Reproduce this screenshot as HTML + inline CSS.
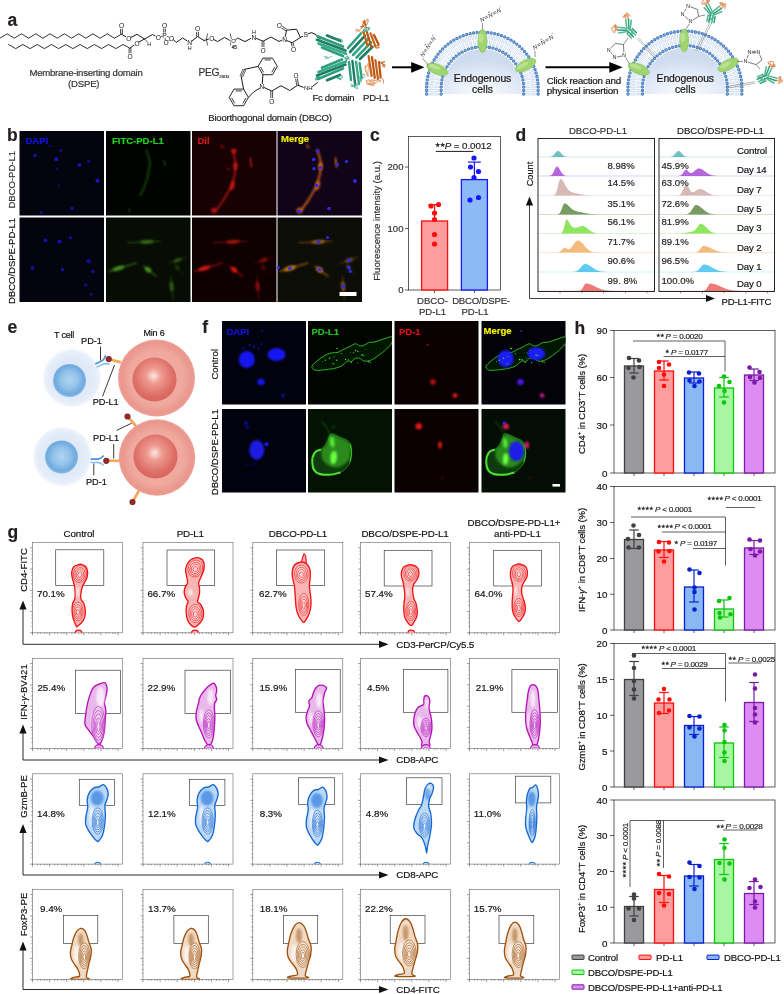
<!DOCTYPE html>
<html lang="en"><head><meta charset="utf-8"><title>Figure</title>
<style>html,body{margin:0;padding:0;background:#fff}body{width:784px;height:994px;overflow:hidden;font-family:"Liberation Sans",Arial,sans-serif}svg{display:block}</style>
</head><body>
<svg width="784" height="994" viewBox="0 0 784 994" font-family='"Liberation Sans", Arial, Helvetica, sans-serif' fill="#1a1a1a">
<rect width="784" height="994" fill="#fff"/>
<defs>
<filter id="bl0" x="-50%" y="-50%" width="200%" height="200%"><feGaussianBlur stdDeviation="0.5"/></filter>
<filter id="bl1" x="-50%" y="-50%" width="200%" height="200%"><feGaussianBlur stdDeviation="0.8"/></filter>
<filter id="bl2" x="-50%" y="-50%" width="200%" height="200%"><feGaussianBlur stdDeviation="1.2"/></filter>
<filter id="bl3" x="-50%" y="-50%" width="200%" height="200%"><feGaussianBlur stdDeviation="2"/></filter>
<filter id="bl4" x="-50%" y="-50%" width="200%" height="200%"><feGaussianBlur stdDeviation="3"/></filter>
</defs>
<text x="7.6" y="26.4" font-size="17.5" font-weight="bold" fill="#231f20" stroke="#231f20" stroke-width=".18">a</text>
<path d="M-7.15 33.8 L0 38.2 L7.15 33.8 L14.3 38.2 L21.45 33.8 L28.6 38.2 L35.75 33.8 L42.9 38.2 L50.05 33.8 L57.2 38.2 L64.35 33.8 L71.5 38.2 L78.65 33.8 L85.8 38.2 L92.95 33.8 L100.1 38.2 L107.25 33.8 L114.4 38.2 L121.5 34.2" fill="none" stroke="#1c1c1c" stroke-width="0.9" stroke-linejoin="round" stroke-linecap="round"/>
<path d="M8.6 44.5 L15.75 48.6 L22.9 44.5 L30.05 48.6 L37.2 44.5 L44.35 48.6 L51.5 44.5 L58.65 48.6 L65.8 44.5 L72.95 48.6 L80.1 44.5 L87.25 48.6 L94.4 44.5 L101.55 48.6 L108.7 44.5 L115.85 48.6 L123 44.5 L130 48.2" fill="none" stroke="#1c1c1c" stroke-width="0.9" stroke-linejoin="round" stroke-linecap="round"/>
<path d="M121.5 34.2 L126.5 37.2" fill="none" stroke="#1c1c1c" stroke-width="1" stroke-linejoin="round" stroke-linecap="round"/>
<line x1="122.4" y1="34.2" x2="122.4" y2="28.5" stroke="#1c1c1c" stroke-width="0.8"/>
<line x1="120.6" y1="34.2" x2="120.6" y2="28.5" stroke="#1c1c1c" stroke-width="0.8"/>
<text x="121.5" y="27.98" font-size="6.6" text-anchor="middle" fill="#111" stroke="#fff" stroke-width="1.6" paint-order="stroke">O</text>
<text x="128.8" y="40.58" font-size="6.6" text-anchor="middle" fill="#111" stroke="#fff" stroke-width="1.6" paint-order="stroke">O</text>
<path d="M131 37.4 L137 34.3 L144.5 39 L152.5 34.5 L156 36.5" fill="none" stroke="#1c1c1c" stroke-width="1" stroke-linejoin="round" stroke-linecap="round"/>
<path d="M130 48.2 L134.8 44.6" fill="none" stroke="#1c1c1c" stroke-width="1" stroke-linejoin="round" stroke-linecap="round"/>
<line x1="129.1" y1="48.2" x2="129.1" y2="54" stroke="#1c1c1c" stroke-width="0.8"/>
<line x1="130.9" y1="48.2" x2="130.9" y2="54" stroke="#1c1c1c" stroke-width="0.8"/>
<text x="130" y="59.38" font-size="6.6" text-anchor="middle" fill="#111" stroke="#fff" stroke-width="1.6" paint-order="stroke">O</text>
<text x="137" y="45.58" font-size="6.6" text-anchor="middle" fill="#111" stroke="#fff" stroke-width="1.6" paint-order="stroke">O</text>
<path d="M139 42 L144.5 39" fill="none" stroke="#1c1c1c" stroke-width="1" stroke-linejoin="round" stroke-linecap="round"/>
<text x="149.3" y="45.54" font-size="5.4" text-anchor="middle" fill="#111" stroke="#fff" stroke-width="1.6" paint-order="stroke">H</text>
<line x1="144.5" y1="39" x2="147.5" y2="42" stroke="#1c1c1c" stroke-width="0.7"/>
<text x="158.3" y="40.08" font-size="6.6" text-anchor="middle" fill="#111" stroke="#fff" stroke-width="1.6" paint-order="stroke">O</text>
<text x="164.5" y="37.78" font-size="6.6" text-anchor="middle" fill="#111" stroke="#fff" stroke-width="1.6" paint-order="stroke">P</text>
<text x="164.5" y="28.38" font-size="6.6" text-anchor="middle" fill="#111" stroke="#fff" stroke-width="1.6" paint-order="stroke">O</text>
<text x="166" y="45.38" font-size="6.6" text-anchor="middle" fill="#111" stroke="#fff" stroke-width="1.6" paint-order="stroke">O</text>
<text x="171.6" y="40.58" font-size="6.6" text-anchor="middle" fill="#111" stroke="#fff" stroke-width="1.6" paint-order="stroke">O</text>
<text x="168.3" y="41.5" font-size="4.5" fill="#222" stroke="#222" stroke-width=".18">-</text>
<line x1="165.3" y1="32.5" x2="165.3" y2="28.6" stroke="#1c1c1c" stroke-width="0.8"/>
<line x1="163.7" y1="32.5" x2="163.7" y2="28.6" stroke="#1c1c1c" stroke-width="0.8"/>
<line x1="160.3" y1="36.9" x2="162.4" y2="36.2" stroke="#1c1c1c" stroke-width="0.7"/>
<line x1="166.6" y1="36.2" x2="169.4" y2="37.3" stroke="#1c1c1c" stroke-width="0.7"/>
<line x1="164.9" y1="37.8" x2="165.6" y2="40.4" stroke="#1c1c1c" stroke-width="0.7"/>
<path d="M173.4 39.6 L176.2 42.4 L182.6 38 L187.4 41" fill="none" stroke="#1c1c1c" stroke-width="1" stroke-linejoin="round" stroke-linecap="round"/>
<text x="189.6" y="44.58" font-size="6.6" text-anchor="middle" fill="#111" stroke="#fff" stroke-width="1.6" paint-order="stroke">N</text>
<text x="189.6" y="49.74" font-size="5.4" text-anchor="middle" fill="#111" stroke="#fff" stroke-width="1.6" paint-order="stroke">H</text>
<path d="M191.8 41 L197.5 36.6 L204 40.5" fill="none" stroke="#1c1c1c" stroke-width="1" stroke-linejoin="round" stroke-linecap="round"/>
<line x1="198.4" y1="36.6" x2="198.4" y2="31.6" stroke="#1c1c1c" stroke-width="0.8"/>
<line x1="196.6" y1="36.6" x2="196.6" y2="31.6" stroke="#1c1c1c" stroke-width="0.8"/>
<text x="197.5" y="31.18" font-size="6.6" text-anchor="middle" fill="#111" stroke="#fff" stroke-width="1.6" paint-order="stroke">O</text>
<path d="M207.6 33.5 Q205.2 39.5 207.6 45.5" fill="none" stroke="#1c1c1c" stroke-width="0.7"/>
<path d="M204 40.5 L209 39" fill="none" stroke="#1c1c1c" stroke-width="1" stroke-linejoin="round" stroke-linecap="round"/>
<text x="211.7" y="40.98" font-size="6.6" text-anchor="middle" fill="#111" stroke="#fff" stroke-width="1.6" paint-order="stroke">O</text>
<path d="M213.8 39.5 L217.6 41.6 L224.5 37.4 L230 40.5" fill="none" stroke="#1c1c1c" stroke-width="1" stroke-linejoin="round" stroke-linecap="round"/>
<path d="M230.3 33.5 Q232.7 39.5 230.3 45.5" fill="none" stroke="#1c1c1c" stroke-width="0.7"/>
<text x="231.8" y="49" font-size="4.6" fill="#222" stroke="#222" stroke-width=".18">45</text>
<text x="233.6" y="43.39" font-size="5.8" text-anchor="middle" fill="#111" stroke="#fff" stroke-width="1.6" paint-order="stroke">O</text>
<path d="M235.5 40 L237.6 38 L245 41.6 L251.6 38" fill="none" stroke="#1c1c1c" stroke-width="1" stroke-linejoin="round" stroke-linecap="round"/>
<text x="254" y="39.78" font-size="6.6" text-anchor="middle" fill="#111" stroke="#fff" stroke-width="1.6" paint-order="stroke">N</text>
<text x="254" y="33.94" font-size="5.4" text-anchor="middle" fill="#111" stroke="#fff" stroke-width="1.6" paint-order="stroke">H</text>
<path d="M256.3 38.4 L263 41.2 L271 37 L279 41.5 L282.6 39.8" fill="none" stroke="#1c1c1c" stroke-width="1" stroke-linejoin="round" stroke-linecap="round"/>
<line x1="262.1" y1="41.2" x2="262.1" y2="47.2" stroke="#1c1c1c" stroke-width="0.8"/>
<line x1="263.9" y1="41.2" x2="263.9" y2="47.2" stroke="#1c1c1c" stroke-width="0.8"/>
<text x="263" y="52.58" font-size="6.6" text-anchor="middle" fill="#111" stroke="#fff" stroke-width="1.6" paint-order="stroke">O</text>
<text x="284.6" y="41.58" font-size="6.6" text-anchor="middle" fill="#111" stroke="#fff" stroke-width="1.6" paint-order="stroke">N</text>
<path d="M285.2 36.6 L286.6 30.2 L296.6 29.2 L300.3 37.5 L292.2 42.8 L286.8 40.6" fill="none" stroke="#1c1c1c" stroke-width="1" stroke-linejoin="round" stroke-linecap="round"/>
<line x1="287.08" y1="29.44" x2="281.68" y2="26.04" stroke="#1c1c1c" stroke-width="0.8"/>
<line x1="286.12" y1="30.96" x2="280.72" y2="27.56" stroke="#1c1c1c" stroke-width="0.8"/>
<text x="279.2" y="27.78" font-size="6.6" text-anchor="middle" fill="#111" stroke="#fff" stroke-width="1.6" paint-order="stroke">O</text>
<line x1="291.32" y1="43.01" x2="292.32" y2="47.21" stroke="#1c1c1c" stroke-width="0.8"/>
<line x1="293.08" y1="42.59" x2="294.08" y2="46.79" stroke="#1c1c1c" stroke-width="0.8"/>
<text x="293.6" y="52.18" font-size="6.6" text-anchor="middle" fill="#111" stroke="#fff" stroke-width="1.6" paint-order="stroke">O</text>
<path d="M300.3 37.5 L303.6 35.8" fill="none" stroke="#1c1c1c" stroke-width="1" stroke-linejoin="round" stroke-linecap="round"/>
<text x="305.8" y="37.38" font-size="6.6" text-anchor="middle" fill="#111" stroke="#fff" stroke-width="1.6" paint-order="stroke">S</text>
<path d="M308 34 L311.2 32.6 L316 34.6 L318 37" fill="none" stroke="#1c1c1c" stroke-width="1" stroke-linejoin="round" stroke-linecap="round"/>
<text x="198.5" y="75.6" font-size="10.2" fill="#333" stroke="#333" stroke-width=".18" letter-spacing="-0.3">PEG</text>
<text x="219.3" y="78" font-size="4.4" fill="#333" stroke="#333" stroke-width=".18">2000</text>
<path d="M277.3 66.4 L272.5 74.71 L262.9 74.71 L258.1 66.4 L262.9 58.09 L272.5 58.09Z" fill="none" stroke="#1c1c1c" stroke-width="0.95" stroke-linejoin="round"/>
<line x1="274.89" y1="66.92" x2="271.74" y2="72.37" stroke="#1c1c1c" stroke-width="0.85"/>
<line x1="263.66" y1="72.37" x2="260.51" y2="66.92" stroke="#1c1c1c" stroke-width="0.85"/>
<line x1="264.56" y1="59.92" x2="270.84" y2="59.92" stroke="#1c1c1c" stroke-width="0.85"/>
<path d="M248.4 97.4 L243.6 105.71 L234 105.71 L229.2 97.4 L234 89.09 L243.6 89.09Z" fill="none" stroke="#1c1c1c" stroke-width="0.95" stroke-linejoin="round"/>
<line x1="245.99" y1="97.92" x2="242.84" y2="103.37" stroke="#1c1c1c" stroke-width="0.85"/>
<line x1="234.76" y1="103.37" x2="231.61" y2="97.92" stroke="#1c1c1c" stroke-width="0.85"/>
<line x1="235.66" y1="90.92" x2="241.94" y2="90.92" stroke="#1c1c1c" stroke-width="0.85"/>
<path d="M243.6 89.09 L241.2 76.6" fill="none" stroke="#1c1c1c" stroke-width="1" stroke-linejoin="round" stroke-linecap="round"/>
<path d="M244.4 69.4 L258.1 66.4" fill="none" stroke="#1c1c1c" stroke-width="1" stroke-linejoin="round" stroke-linecap="round"/>
<line x1="239.9" y1="76.02" x2="243.1" y2="68.82" stroke="#1c1c1c" stroke-width="0.7"/>
<line x1="241.2" y1="76.6" x2="244.4" y2="69.4" stroke="#1c1c1c" stroke-width="0.7"/>
<line x1="242.5" y1="77.18" x2="245.7" y2="69.98" stroke="#1c1c1c" stroke-width="0.7"/>
<text x="261.8" y="88.9" font-size="6.4" text-anchor="middle" fill="#111" stroke="#fff" stroke-width="1.6" paint-order="stroke">N</text>
<path d="M262.9 74.71 L262.3 83.6" fill="none" stroke="#1c1c1c" stroke-width="1" stroke-linejoin="round" stroke-linecap="round"/>
<path d="M259.6 88.2 L253.6 92 L248.4 97.4" fill="none" stroke="#1c1c1c" stroke-width="1" stroke-linejoin="round" stroke-linecap="round"/>
<path d="M264.3 87.6 L271.7 91 L281 85.7 L289.7 90.5 L297.7 85.2 L303.6 87.4" fill="none" stroke="#1c1c1c" stroke-width="1" stroke-linejoin="round" stroke-linecap="round"/>
<line x1="270.8" y1="91" x2="270.8" y2="98.2" stroke="#1c1c1c" stroke-width="0.8"/>
<line x1="272.6" y1="91" x2="272.6" y2="98.2" stroke="#1c1c1c" stroke-width="0.8"/>
<text x="271.7" y="103.7" font-size="6.4" text-anchor="middle" fill="#111" stroke="#fff" stroke-width="1.6" paint-order="stroke">O</text>
<line x1="298.58" y1="85.04" x2="297.28" y2="78.04" stroke="#1c1c1c" stroke-width="0.8"/>
<line x1="296.82" y1="85.36" x2="295.52" y2="78.36" stroke="#1c1c1c" stroke-width="0.8"/>
<text x="296" y="77.5" font-size="6.4" text-anchor="middle" fill="#111" stroke="#fff" stroke-width="1.6" paint-order="stroke">O</text>
<text x="308.3" y="90.16" font-size="6" text-anchor="middle" fill="#111" stroke="#fff" stroke-width="1.6" paint-order="stroke">NH</text>
<path d="M312.6 86.4 L317.5 82.6" fill="none" stroke="#1c1c1c" stroke-width="1" stroke-linejoin="round" stroke-linecap="round"/>
<line x1="318" y1="36.5" x2="343" y2="46.5" stroke="#2f9e7c" stroke-width="2.7" stroke-linecap="round"/>
<line x1="317" y1="39.8" x2="345.5" y2="50.5" stroke="#1e7d62" stroke-width="2.7" stroke-linecap="round"/>
<line x1="318.5" y1="43.4" x2="346" y2="53.8" stroke="#36aa86" stroke-width="2.7" stroke-linecap="round"/>
<line x1="322" y1="47.6" x2="343" y2="56" stroke="#2f9e7c" stroke-width="2.7" stroke-linecap="round"/>
<line x1="327" y1="35.6" x2="340" y2="40.8" stroke="#1e7d62" stroke-width="2.7" stroke-linecap="round"/>
<line x1="318" y1="79" x2="343" y2="68.5" stroke="#2f9e7c" stroke-width="2.7" stroke-linecap="round"/>
<line x1="317" y1="75.6" x2="345.5" y2="64.6" stroke="#1e7d62" stroke-width="2.7" stroke-linecap="round"/>
<line x1="318.5" y1="72" x2="346" y2="61.4" stroke="#36aa86" stroke-width="2.7" stroke-linecap="round"/>
<line x1="322" y1="67.8" x2="342" y2="59.6" stroke="#2f9e7c" stroke-width="2.7" stroke-linecap="round"/>
<line x1="327" y1="80.2" x2="340" y2="75" stroke="#1e7d62" stroke-width="2.7" stroke-linecap="round"/>
<path d="M320.57 39.93 C319.17 38.58 316.08 35.77 315.89 35.44 C315.71 35.11 318.99 38.48 319.94 38.83 C320.9 39.18 319.44 36.8 319.08 36.6 C318.72 36.4 318.89 38.39 318.75 38.16 C318.61 37.92 318.9 36.16 318.62 35.82 C318.35 35.49 317.62 35.74 317.84 37.05 C318.06 38.35 318.9 39.24 319.36 40.17" fill="none" stroke="#2f9e7c" stroke-width="1" stroke-linecap="round"/>
<path d="M316.84 78.63 C317.04 78.72 316.92 79.69 317.52 78.94 C318.13 78.19 319.41 75.78 318.85 76.14 C318.3 76.51 316.24 79.89 315.67 80.15 C315.1 80.42 315.42 77.59 316.95 77.02 C318.48 76.45 319.88 77.87 320.78 78.25 C321.68 78.62 320.51 78.78 319.95 78.28 C319.39 77.78 319.23 77.09 318.92 76.58" fill="none" stroke="#2f9e7c" stroke-width="1" stroke-linecap="round"/>
<path d="M337.92 38.6 C338.2 38.67 339.18 38.41 338.88 38.84 C338.57 39.27 335.96 39.1 336.9 40.03 C337.84 40.96 340.75 42.2 342.01 41.94 C343.27 41.68 341.78 39.92 341.09 39.17 C340.4 38.41 340.79 39.59 339.72 39.43 C338.65 39.26 338.19 38.86 337.54 38.61" fill="none" stroke="#2f9e7c" stroke-width="1" stroke-linecap="round"/>
<path d="M339.74 78.66 C340.05 78.95 340.56 79.36 340.77 79.62 C340.98 79.88 341.82 80.21 340.44 79.53 C339.06 78.84 335.81 77.73 336.17 77.33 C336.54 76.94 340.09 78.72 341.66 78.22 C343.23 77.71 342.26 76.22 341.41 75.64 C340.55 75.06 339.59 76.09 338.81 76.28" fill="none" stroke="#2f9e7c" stroke-width="1" stroke-linecap="round"/>
<path d="M324.15 56.36 C325.52 56.91 328.26 58.19 328.71 58.19 C329.17 58.19 326.24 56.29 325.66 56.36 C325.08 56.43 326.75 57.82 326.78 58.42 C326.81 59.03 324.22 58.97 325.77 58.37 C327.32 57.77 330.09 57.02 331.95 56.44" fill="none" stroke="#58b898" stroke-width="0.7" stroke-linecap="round"/>
<line x1="348" y1="48" x2="361" y2="33.5" stroke="#2f9e7c" stroke-width="2.6" stroke-linecap="round"/>
<line x1="350" y1="52" x2="365" y2="35.6" stroke="#1e7d62" stroke-width="2.6" stroke-linecap="round"/>
<line x1="353" y1="55" x2="368.5" y2="38.6" stroke="#36aa86" stroke-width="2.6" stroke-linecap="round"/>
<line x1="356.5" y1="57.6" x2="371" y2="42.4" stroke="#2f9e7c" stroke-width="2.6" stroke-linecap="round"/>
<line x1="360" y1="59" x2="372.5" y2="46.8" stroke="#1e7d62" stroke-width="2.6" stroke-linecap="round"/>
<line x1="349" y1="62" x2="351" y2="80" stroke="#2f9e7c" stroke-width="2.4" stroke-linecap="round"/>
<line x1="352.4" y1="61" x2="355.2" y2="85" stroke="#1e7d62" stroke-width="2.4" stroke-linecap="round"/>
<line x1="356" y1="61.6" x2="359" y2="84" stroke="#36aa86" stroke-width="2.4" stroke-linecap="round"/>
<line x1="359.6" y1="63" x2="361.6" y2="78" stroke="#2f9e7c" stroke-width="2.4" stroke-linecap="round"/>
<path d="M349.14 59.4 C348.62 58.46 348.75 56.53 347.42 56.27 C346.08 56 344.73 57.67 344.7 58.51 C344.68 59.35 346.71 58.87 347.33 59.05 C347.96 59.23 347.12 59.04 346.79 59.11 C346.46 59.18 345.63 59.89 346.23 59.29 C346.83 58.69 348.34 57.32 348.79 57.12 C349.23 56.92 348.62 58.38 347.71 58.62 C346.81 58.85 346.36 58.12 345.78 57.9" fill="none" stroke="#2f9e7c" stroke-width="1" stroke-linecap="round"/>
<path d="M354.24 84.58 C355.22 84.46 356.87 83.84 357.51 84.18 C358.15 84.51 358.14 85.02 356.36 85.7 C354.58 86.38 353.08 86.33 351.58 86.44 C350.08 86.54 351.34 86.71 351.37 86.05 C351.41 85.4 350.54 83.66 351.7 84.27 C352.86 84.89 355.08 87.89 355.25 88.1 C355.41 88.31 351.63 84.77 352.24 84.96 C352.85 85.15 355.91 88.46 357.27 88.73 C358.63 89 356.92 86.72 356.77 85.86" fill="none" stroke="#4cb090" stroke-width="0.8" stroke-linecap="round"/>
<path d="M361.08 82.62 C360.92 81.85 360.78 82.19 360.56 80.05 C360.34 77.9 358.98 76.96 360.34 75.47 C361.7 73.99 364.23 74.46 365.1 75.09 C365.96 75.73 364.09 76.73 363.24 77.59 C362.39 78.45 362.96 76.84 362.26 77.95 C361.55 79.06 361.47 82.09 360.9 81.31 C360.33 80.52 360.53 77.13 360.37 75.34" fill="none" stroke="#4cb090" stroke-width="0.8" stroke-linecap="round"/>
<path d="M366.23 29.59 C365.53 30.65 364.88 32.86 363.9 33.14 C362.91 33.42 361.31 32.22 362.95 30.52 C364.59 28.82 368.18 27.24 369.37 27.48 C370.55 27.73 368.74 30.7 366.89 31.34 C365.04 31.98 362.87 29.98 363.19 29.63 C363.52 29.27 366.49 30.63 367.97 30.15 C369.44 29.68 369.13 28.77 368.12 28.03 C367.12 27.29 365.67 27.8 364.61 27.7" fill="none" stroke="#2f9e7c" stroke-width="0.9" stroke-linecap="round"/>
<line x1="363.6" y1="32" x2="367.4" y2="45.6" stroke="#c9601a" stroke-width="2.2" stroke-linecap="round"/>
<line x1="367" y1="32.4" x2="371.4" y2="47" stroke="#b8540f" stroke-width="2.2" stroke-linecap="round"/>
<line x1="370.6" y1="33.4" x2="375.4" y2="46.4" stroke="#c9601a" stroke-width="2.2" stroke-linecap="round"/>
<line x1="374" y1="35" x2="378.6" y2="44.4" stroke="#b8540f" stroke-width="2.2" stroke-linecap="round"/>
<path d="M364.07 23.29 C364.09 22.62 363.54 19.88 364.12 21.06 C364.71 22.25 365.83 27.37 366.01 27.24 C366.19 27.1 365.43 22.09 364.73 20.6 C364.03 19.11 364.63 19.9 363.67 22.28 C362.7 24.66 360.36 29.38 361.5 28.53 C362.64 27.68 366.01 20.49 367.47 19.45 C368.94 18.4 367.86 24.31 366.38 25.03 C364.91 25.75 363 22.28 362.55 21.84 C362.11 21.4 364.17 22.43 364.9 23.57 C365.63 24.7 366.29 24.69 364.99 25.62 C363.69 26.55 361.89 26.36 360.56 26.68" fill="none" stroke="#c9601a" stroke-width="0.9" stroke-linecap="round"/>
<path d="M358.33 30.38 C359.13 30.2 360.88 29.73 360.98 29.78 C361.07 29.83 359.89 30.47 358.64 30.56 C357.4 30.65 356.63 29.68 356.83 30.08 C357.04 30.47 359.48 32.28 359.33 31.88 C359.18 31.47 357.23 28.71 356.33 28.74 C355.42 28.77 356.31 31.01 356.31 31.98" fill="none" stroke="#e0905a" stroke-width="0.8" stroke-linecap="round"/>
<path d="M377.85 47.63 C378.19 47.01 379.83 45.91 379 45.57 C378.16 45.23 375.77 45.7 375.07 46.5 C374.36 47.3 375.42 47.97 376.64 48.24 C377.87 48.51 378.63 47.58 379.14 47.41 C379.66 47.23 379.33 47.84 378.35 47.65 C377.37 47.45 376.62 47.03 375.87 46.76" fill="none" stroke="#c9601a" stroke-width="0.8" stroke-linecap="round"/>
<line x1="368.6" y1="56" x2="371.6" y2="76" stroke="#c9601a" stroke-width="2.2" stroke-linecap="round"/>
<line x1="372" y1="57" x2="374.8" y2="78" stroke="#b8540f" stroke-width="2.2" stroke-linecap="round"/>
<line x1="375.4" y1="60" x2="378" y2="79" stroke="#c9601a" stroke-width="2.2" stroke-linecap="round"/>
<line x1="379" y1="62" x2="380.6" y2="77" stroke="#b8540f" stroke-width="2.2" stroke-linecap="round"/>
<path d="M381.95 65.73 C382.72 66.09 384.64 67.9 384.5 66.92 C384.37 65.93 382.48 63.81 381.51 62.46 C380.55 61.11 380.3 62.64 381.28 62.42 C382.27 62.2 384.11 61.76 384.8 61.74 C385.5 61.71 384.38 61.69 383.59 62.34 C382.8 62.99 381.62 63.06 382.17 63.91 C382.72 64.76 385.93 65.52 385.43 65.18 C384.92 64.84 381.97 63.5 380.49 62.79" fill="none" stroke="#c9601a" stroke-width="0.9" stroke-linecap="round"/>
<path d="M366.5 83.86 C368.79 84.37 373.44 86.54 374.13 85.57 C374.82 84.61 368.45 81.25 368.8 80.64 C369.14 80.03 375.14 82.62 375.28 83.54 C375.41 84.47 370.66 83.47 369.24 83.73 C367.82 83.98 371.33 85.39 370.55 84.4 C369.78 83.4 364.54 81.31 366.66 80.41 C368.78 79.5 377.02 80.12 377.62 81.38 C378.22 82.63 369.78 85.04 368.65 84.59 C367.51 84.14 372.62 80.18 373.84 79.88 C375.07 79.57 374.68 82.5 372.72 83.58 C370.76 84.67 369.11 84.2 367.31 83.49 C365.51 82.79 367.07 82.19 366.72 81.23 C366.38 80.26 366.33 80.56 366.16 80.27" fill="none" stroke="#e0905a" stroke-width="0.8" stroke-linecap="round"/>
<path d="M368.43 63.65 C368.1 64.22 367.3 65.53 367.33 65.55 C367.36 65.57 368.33 61.68 368.53 63.72 C368.74 65.76 368.21 68.52 368.02 72.36 C367.84 76.19 368.84 77.84 367.92 76.5 C366.99 75.16 365.17 70.7 364.95 67.9 C364.74 65.09 367.17 67.57 367.2 67.15 C367.23 66.72 364.85 64.16 365.06 66.47 C365.28 68.79 367.06 72.35 367.92 74.87" fill="none" stroke="#e0905a" stroke-width="0.8" stroke-linecap="round"/>
<path d="M379.89 80.28 C380.03 80.22 380.22 79.76 380.34 80.08 C380.45 80.4 380.66 81.01 380.28 81.35 C379.9 81.69 380.03 81.85 379.07 81.21 C378.11 80.57 376.9 80.1 377.08 79.21 C377.26 78.32 377.92 78.24 379.68 78.25 C381.44 78.27 381.86 77.79 382.95 79.26 C384.04 80.73 383.2 81.97 383.31 83.14" fill="none" stroke="#c9601a" stroke-width="0.8" stroke-linecap="round"/>
<text x="86" y="76.1" font-size="9.6" text-anchor="middle" fill="#333" stroke="#333" stroke-width=".18" letter-spacing="-0.25">Membrane-inserting domain</text>
<text x="83.7" y="86.8" font-size="9.6" text-anchor="middle" fill="#333" stroke="#333" stroke-width=".18" letter-spacing="-0.2">(DSPE)</text>
<text x="270" y="120.5" font-size="9.6" text-anchor="middle" fill="#222" stroke="#222" stroke-width=".18" letter-spacing="-0.25">Bioorthogonal domain (DBCO)</text>
<text x="312.6" y="100.8" font-size="9.6" fill="#222" stroke="#222" stroke-width=".18" letter-spacing="-0.35">Fc domain</text>
<text x="363" y="100.8" font-size="9.6" fill="#222" stroke="#222" stroke-width=".18" letter-spacing="-0.2">PD-L1</text>
<line x1="392" y1="67.3" x2="412.2" y2="67.3" stroke="#000" stroke-width="2"/>
<path d="M424.5 67.3 L411.2 61.9 L411.2 72.7Z" fill="#000"/>
<line x1="545.5" y1="67.3" x2="610.3" y2="67.3" stroke="#000" stroke-width="2"/>
<path d="M622.6 67.3 L609.3 61.9 L609.3 72.7Z" fill="#000"/>
<text x="546.7" y="83.6" font-size="9.8" fill="#111" stroke="#111" stroke-width=".18" letter-spacing="-0.2">Click reaction and</text>
<text x="546.7" y="94.4" font-size="9.8" fill="#111" stroke="#111" stroke-width=".18" letter-spacing="-0.2">physical insertion</text>
<defs><radialGradient id="dga" cx="50%" cy="100%" r="75%"><stop offset="0" stop-color="#fbfcfe"/><stop offset="0.55" stop-color="#e6edf8"/><stop offset="1" stop-color="#cfdcf0"/></radialGradient></defs>
<path d="M443.4 94 V88 A39 39 0 0 1 521.4 88 V94 Z" fill="url(#dga)"/>
<path d="M426.6 94.7L433.7 94.91M426.6 93.3L433.7 93.09M426.6 91.17L433.7 91.38M426.6 89.77L433.7 89.56M426.6 87.63L433.69 87.98M426.62 86.23L433.73 86.16M426.73 84.1L433.79 84.9M426.85 82.71L433.94 83.08M427.09 80.59L434.08 81.82M427.29 79.2L434.35 80.02M427.67 77.1L434.57 78.78M427.96 75.73L434.95 77M428.47 73.66L435.25 75.77M428.85 72.31L435.74 74.02M429.49 70.27L436.12 72.81M429.95 68.95L436.72 71.09M430.71 66.96L437.17 69.91M431.26 65.67L437.88 68.24M432.15 63.73L438.41 67.09M432.77 62.48L439.22 65.46M433.79 60.6L439.82 64.34M434.49 59.39L440.74 62.77M435.62 57.58L441.4 61.7M436.4 56.41L442.42 60.18M437.64 54.68L443.15 59.15M438.49 53.56L444.26 57.71M439.84 51.91L445.06 56.73M440.75 50.85L446.25 55.36M442.21 49.29L447.11 54.43M443.19 48.29L448.39 53.13M444.74 46.82L449.31 52.26M445.78 45.89L450.66 51.05M447.42 44.52L451.63 50.24M448.52 43.66L453.07 49.12M450.24 42.39L454.08 48.37M451.39 41.6L455.59 47.34M453.19 40.45L456.65 46.65M454.39 39.73L458.21 45.72M456.26 38.7L459.32 45.11M457.5 38.06L460.94 44.28M459.43 37.14L462.08 43.73M460.71 36.58L463.75 43M462.7 35.79L464.92 42.54M464.01 35.31L466.63 41.91M466.04 34.65L467.83 41.52M467.38 34.25L469.58 41.01M469.45 33.72L470.81 40.69M470.81 33.41L472.58 40.29M472.91 33.01L473.82 40.05M474.29 32.79L475.62 39.77M476.41 32.52L476.87 39.61M477.8 32.39L478.69 39.43M479.93 32.25L479.95 39.35M481.33 32.21L481.77 39.3M483.47 32.21L483.03 39.3M484.87 32.25L484.85 39.35M487 32.39L486.11 39.43M488.39 32.52L487.93 39.61M490.51 32.79L489.18 39.77M491.89 33.01L490.98 40.05M493.99 33.41L492.22 40.29M495.35 33.72L493.99 40.69M497.42 34.25L495.22 41.01M498.76 34.65L496.97 41.52M500.79 35.31L498.17 41.91M502.1 35.79L499.88 42.54M504.09 36.58L501.05 43M505.37 37.14L502.72 43.73M507.3 38.06L503.86 44.28M508.54 38.7L505.48 45.11M510.41 39.73L506.59 45.72M511.61 40.45L508.15 46.65M513.41 41.6L509.21 47.34M514.56 42.39L510.72 48.37M516.28 43.66L511.73 49.12M517.38 44.52L513.17 50.24M519.02 45.89L514.14 51.05M520.06 46.82L515.49 52.26M521.61 48.29L516.41 53.13M522.59 49.29L517.69 54.43M524.05 50.85L518.55 55.36M524.96 51.91L519.74 56.73M526.31 53.56L520.54 57.71M527.16 54.68L521.65 59.15M528.4 56.41L522.38 60.18M529.18 57.58L523.4 61.7M530.31 59.39L524.06 62.77M531.01 60.6L524.98 64.34M532.03 62.48L525.58 65.46M532.65 63.73L526.39 67.09M533.54 65.67L526.92 68.24M534.09 66.96L527.63 69.91M534.85 68.95L528.08 71.09M535.31 70.27L528.68 72.81M535.95 72.31L529.06 74.02M536.33 73.66L529.55 75.77M536.84 75.73L529.85 77M537.13 77.1L530.23 78.78M537.51 79.2L530.45 80.02M537.71 80.59L530.72 81.82M537.95 82.71L530.86 83.08M538.07 84.1L531.01 84.9M538.18 86.23L531.07 86.16M538.2 87.63L531.11 87.98M538.2 89.77L531.1 89.56M538.2 91.17L531.1 91.38M538.2 93.3L531.1 93.09M538.2 94.7L531.1 94.91M441.2 94.7L434.1 94.91M441.2 93.3L434.1 93.09M441.2 91.16L434.1 91.37M441.2 89.76L434.1 89.55M441.2 87.63L434.09 87.65M441.23 86.23L434.14 85.83M441.38 84.1L434.3 83.51M441.54 82.71L434.5 81.71M441.86 80.6L434.86 79.41M442.14 79.22L435.22 77.62M442.65 77.15L435.77 75.36M443.04 75.8L436.28 73.62M443.72 73.78L437.03 71.41M444.23 72.48L437.68 69.72M445.09 70.52L438.62 67.59M445.7 69.26L439.42 65.95M446.72 67.38L440.53 63.91M447.44 66.18L441.46 62.35M448.62 64.4L442.75 60.41M449.44 63.27L443.81 58.93M450.77 61.59L445.26 57.11M451.68 60.53L446.45 55.73M453.15 58.98L448.04 54.04M454.15 58L449.35 52.77M455.74 56.58L451.08 51.22M456.83 55.69L452.49 50.07M458.53 54.41L454.35 48.67M459.69 53.62L455.85 47.64M461.5 52.49L457.82 46.41M462.72 51.8L459.41 45.52M464.62 50.83L461.48 44.46M465.89 50.24L463.13 43.7M467.87 49.44L465.29 42.82M469.19 48.97L467 42.21M471.23 48.34L469.22 41.52M472.59 47.98L470.98 41.06M474.67 47.52L473.25 40.57M476.05 47.29L475.05 40.25M478.17 47.01L477.35 39.96M479.57 46.89L479.17 39.8M481.7 46.8L481.49 39.7M483.1 46.8L483.31 39.7M485.23 46.89L485.63 39.8M486.63 47.01L487.45 39.96M488.75 47.29L489.75 40.25M490.13 47.52L491.55 40.57M492.21 47.98L493.82 41.06M493.57 48.34L495.58 41.52M495.61 48.97L497.8 42.21M496.93 49.44L499.51 42.82M498.91 50.24L501.67 43.7M500.18 50.83L503.32 44.46M502.08 51.8L505.39 45.52M503.3 52.49L506.98 46.41M505.11 53.62L508.95 47.64M506.27 54.41L510.45 48.67M507.97 55.69L512.31 50.07M509.06 56.58L513.72 51.22M510.65 58L515.45 52.77M511.65 58.98L516.76 54.04M513.12 60.53L518.35 55.73M514.03 61.59L519.54 57.11M515.36 63.27L520.99 58.93M516.18 64.4L522.05 60.41M517.36 66.18L523.34 62.35M518.08 67.38L524.27 63.91M519.1 69.26L525.38 65.95M519.71 70.52L526.18 67.59M520.57 72.48L527.12 69.72M521.08 73.78L527.77 71.41M521.76 75.8L528.52 73.62M522.15 77.15L529.03 75.36M522.66 79.22L529.58 77.62M522.94 80.6L529.94 79.41M523.26 82.71L530.3 81.71M523.42 84.1L530.5 83.51M523.57 86.23L530.66 85.83M523.6 87.63L530.71 87.65M523.6 89.76L530.7 89.55M523.6 91.16L530.7 91.37M523.6 93.3L530.7 93.09M523.6 94.7L530.7 94.91" fill="none" stroke="#9dbbe0" stroke-width="0.5"/>
<path d="M426.6 94h0M426.6 90.47h0M426.61 86.93h0M426.79 83.4h0M427.19 79.89h0M427.82 76.41h0M428.66 72.98h0M429.72 69.61h0M430.99 66.31h0M432.46 63.1h0M434.14 59.99h0M436.01 57h0M438.06 54.12h0M440.3 51.38h0M442.7 48.79h0M445.26 46.36h0M447.97 44.09h0M450.82 42h0M453.79 40.09h0M456.88 38.38h0M460.07 36.86h0M463.35 35.55h0M466.71 34.45h0M470.13 33.57h0M473.6 32.9h0M477.11 32.45h0M480.63 32.23h0M484.17 32.23h0M487.69 32.45h0M491.2 32.9h0M494.67 33.57h0M498.09 34.45h0M501.45 35.55h0M504.73 36.86h0M507.92 38.38h0M511.01 40.09h0M513.98 42h0M516.83 44.09h0M519.54 46.36h0M522.1 48.79h0M524.5 51.38h0M526.74 54.12h0M528.79 57h0M530.66 59.99h0M532.34 63.1h0M533.81 66.31h0M535.08 69.61h0M536.14 72.98h0M536.98 76.41h0M537.61 79.89h0M538.01 83.4h0M538.19 86.93h0M538.2 90.47h0M538.2 94h0M441.2 94h0M441.2 90.46h0M441.21 86.93h0M441.46 83.4h0M442 79.91h0M442.84 76.48h0M443.98 73.13h0M445.39 69.89h0M447.08 66.78h0M449.03 63.84h0M451.22 61.06h0M453.65 58.49h0M456.28 56.13h0M459.11 54.01h0M462.11 52.14h0M465.26 50.54h0M468.53 49.2h0M471.91 48.16h0M475.36 47.41h0M478.87 46.95h0M482.4 46.8h0M485.93 46.95h0M489.44 47.41h0M492.89 48.16h0M496.27 49.2h0M499.54 50.54h0M502.69 52.14h0M505.69 54.01h0M508.52 56.13h0M511.15 58.49h0M513.58 61.06h0M515.77 63.84h0M517.72 66.78h0M519.41 69.89h0M520.82 73.13h0M521.96 76.48h0M522.8 79.91h0M523.34 83.4h0M523.59 86.93h0M523.6 90.46h0M523.6 94h0" fill="none" stroke="#3f74b4" stroke-width="3.3" stroke-linecap="round"/>
<path d="M426.6 94h0M426.6 90.47h0M426.61 86.93h0M426.79 83.4h0M427.19 79.89h0M427.82 76.41h0M428.66 72.98h0M429.72 69.61h0M430.99 66.31h0M432.46 63.1h0M434.14 59.99h0M436.01 57h0M438.06 54.12h0M440.3 51.38h0M442.7 48.79h0M445.26 46.36h0M447.97 44.09h0M450.82 42h0M453.79 40.09h0M456.88 38.38h0M460.07 36.86h0M463.35 35.55h0M466.71 34.45h0M470.13 33.57h0M473.6 32.9h0M477.11 32.45h0M480.63 32.23h0M484.17 32.23h0M487.69 32.45h0M491.2 32.9h0M494.67 33.57h0M498.09 34.45h0M501.45 35.55h0M504.73 36.86h0M507.92 38.38h0M511.01 40.09h0M513.98 42h0M516.83 44.09h0M519.54 46.36h0M522.1 48.79h0M524.5 51.38h0M526.74 54.12h0M528.79 57h0M530.66 59.99h0M532.34 63.1h0M533.81 66.31h0M535.08 69.61h0M536.14 72.98h0M536.98 76.41h0M537.61 79.89h0M538.01 83.4h0M538.19 86.93h0M538.2 90.47h0M538.2 94h0M441.2 94h0M441.2 90.46h0M441.21 86.93h0M441.46 83.4h0M442 79.91h0M442.84 76.48h0M443.98 73.13h0M445.39 69.89h0M447.08 66.78h0M449.03 63.84h0M451.22 61.06h0M453.65 58.49h0M456.28 56.13h0M459.11 54.01h0M462.11 52.14h0M465.26 50.54h0M468.53 49.2h0M471.91 48.16h0M475.36 47.41h0M478.87 46.95h0M482.4 46.8h0M485.93 46.95h0M489.44 47.41h0M492.89 48.16h0M496.27 49.2h0M499.54 50.54h0M502.69 52.14h0M505.69 54.01h0M508.52 56.13h0M511.15 58.49h0M513.58 61.06h0M515.77 63.84h0M517.72 66.78h0M519.41 69.89h0M520.82 73.13h0M521.96 76.48h0M522.8 79.91h0M523.34 83.4h0M523.59 86.93h0M523.6 90.46h0M523.6 94h0" fill="none" stroke="#79a8dc" stroke-width="1.8" stroke-linecap="round"/>
<ellipse cx="437.3" cy="69.3" rx="11.3" ry="5" fill="#9fd56e" stroke="#7fc04e" stroke-width="0.5" transform="rotate(22 437.3 69.3)"/>
<ellipse cx="434.16" cy="66.78" rx="6.22" ry="2" fill="#c4e6a2" transform="rotate(22 434.16 66.78)" opacity="0.7"/>
<ellipse cx="482.5" cy="41" rx="4.5" ry="11.6" fill="#9fd56e" stroke="#7fc04e" stroke-width="0.5"/>
<ellipse cx="481.15" cy="38.1" rx="2.48" ry="4.64" fill="#c4e6a2" opacity="0.7"/>
<ellipse cx="525.7" cy="65.2" rx="11.3" ry="5" fill="#9fd56e" stroke="#7fc04e" stroke-width="0.5" transform="rotate(-28 525.7 65.2)"/>
<ellipse cx="522.71" cy="65.54" rx="6.22" ry="2" fill="#c4e6a2" transform="rotate(-28 522.71 65.54)" opacity="0.7"/>
<text x="482.5" y="81.5" font-size="10.4" text-anchor="middle" fill="#111" stroke="#111" stroke-width=".18" letter-spacing="-0.1">Endogenous</text>
<text x="482.5" y="93.2" font-size="10.4" text-anchor="middle" fill="#111" stroke="#111" stroke-width=".18">cells</text>
<line x1="428.4" y1="65.2" x2="422.3" y2="58.2" stroke="#222" stroke-width="0.5"/>
<g transform="translate(423.2 57.4) rotate(-56)" font-size="5.8" fill="#222" font-style="italic">
<text x="0" y="0">N</text><text x="9.4" y="0">N</text><text x="18.8" y="0">N</text>
<path d="M5 -1.3h3.6M5 -2.7h3.6M14.4 -1.3h3.6M14.4 -2.7h3.6" stroke="#222" stroke-width="0.5"/>
<text x="10.6" y="-4.2" font-size="3.8" font-style="normal">+</text><text x="22.8" y="-3.4" font-size="3.8" font-style="normal">−</text>
</g>
<line x1="482.5" y1="29.5" x2="482.5" y2="23.2" stroke="#222" stroke-width="0.5"/>
<g transform="translate(481.2 22.3) rotate(-28)" font-size="5.8" fill="#222" font-style="italic">
<text x="0" y="0">N</text><text x="9.4" y="0">N</text><text x="18.8" y="0">N</text>
<path d="M5 -1.3h3.6M5 -2.7h3.6M14.4 -1.3h3.6M14.4 -2.7h3.6" stroke="#222" stroke-width="0.5"/>
<text x="10.6" y="-4.2" font-size="3.8" font-style="normal">+</text><text x="22.8" y="-3.4" font-size="3.8" font-style="normal">−</text>
</g>
<line x1="535" y1="57.1" x2="535" y2="50.9" stroke="#222" stroke-width="0.5"/>
<g transform="translate(534.2 50) rotate(-31)" font-size="5.8" fill="#222" font-style="italic">
<text x="0" y="0">N</text><text x="9.4" y="0">N</text><text x="18.8" y="0">N</text>
<path d="M5 -1.3h3.6M5 -2.7h3.6M14.4 -1.3h3.6M14.4 -2.7h3.6" stroke="#222" stroke-width="0.5"/>
<text x="10.6" y="-4.2" font-size="3.8" font-style="normal">+</text><text x="22.8" y="-3.4" font-size="3.8" font-style="normal">−</text>
</g>
<defs><radialGradient id="dgb" cx="50%" cy="100%" r="75%"><stop offset="0" stop-color="#fbfcfe"/><stop offset="0.55" stop-color="#e6edf8"/><stop offset="1" stop-color="#cfdcf0"/></radialGradient></defs>
<path d="M644.7 94 V88 A40.2 40.2 0 0 1 725.1 88 V94 Z" fill="url(#dgb)"/>
<path d="M627.9 94.7L635 94.91M627.9 93.3L635 93.09M627.9 91.16L635 91.37M627.9 89.76L635 89.55M627.9 87.62L634.99 87.97M627.92 86.22L635.03 86.15M628.03 84.09L635.09 84.87M628.14 82.69L635.24 83.06M628.38 80.57L635.38 81.79M628.58 79.18L635.64 79.99M628.95 77.08L635.86 78.73M629.24 75.7L636.23 76.95M629.74 73.63L636.53 75.7M630.11 72.28L637.01 73.95M630.74 70.23L637.39 72.73M631.19 68.91L637.97 71M631.94 66.91L638.43 69.81M632.48 65.61L639.12 68.13M633.35 63.66L639.64 66.96M633.97 62.4L640.44 65.32M634.96 60.51L641.04 64.19M635.65 59.29L641.93 62.61M636.76 57.46L642.6 61.52M637.53 56.29L643.59 59.99M638.75 54.54L644.32 58.94M639.59 53.41L645.41 57.48M640.92 51.74L646.2 56.48M641.82 50.67L647.38 55.09M643.25 49.08L648.23 54.14M644.22 48.07L649.49 52.83M645.74 46.57L650.4 51.93M646.77 45.62L651.74 50.7M648.39 44.22L652.71 49.86M649.48 43.34L654.12 48.71M651.18 42.04L655.14 47.94M652.32 41.23L656.62 46.88M654.09 40.04L657.68 46.17M655.28 39.3L659.22 45.2M657.13 38.22L660.33 44.56M658.36 37.55L661.93 43.69M660.27 36.59L663.07 43.12M661.54 36L664.72 42.35M663.51 35.16L665.89 41.85M664.81 34.65L667.59 41.19M666.82 33.94L668.79 40.76M668.16 33.51L670.53 40.21M670.21 32.92L671.75 39.85M671.57 32.58L673.52 39.41M673.66 32.12L674.77 39.13M675.03 31.86L676.56 38.79M677.15 31.53L677.82 38.6M678.54 31.35L679.62 38.37M680.67 31.15L680.9 38.25M682.06 31.07L682.71 38.14M684.2 31L683.99 38.1M685.6 31L685.81 38.1M687.74 31.07L687.09 38.14M689.13 31.15L688.9 38.25M691.26 31.35L690.18 38.37M692.65 31.53L691.98 38.6M694.77 31.86L693.24 38.79M696.14 32.12L695.03 39.13M698.23 32.58L696.28 39.41M699.59 32.92L698.05 39.85M701.64 33.51L699.27 40.21M702.98 33.94L701.01 40.76M704.99 34.65L702.21 41.19M706.29 35.16L703.91 41.85M708.26 36L705.08 42.35M709.53 36.59L706.73 43.12M711.44 37.55L707.87 43.69M712.67 38.22L709.47 44.56M714.52 39.3L710.58 45.2M715.71 40.04L712.12 46.17M717.48 41.23L713.18 46.88M718.62 42.04L714.66 47.94M720.32 43.34L715.68 48.71M721.41 44.22L717.09 49.86M723.03 45.62L718.06 50.7M724.06 46.57L719.4 51.93M725.58 48.07L720.31 52.83M726.55 49.08L721.57 54.14M727.98 50.67L722.42 55.09M728.88 51.74L723.6 56.48M730.21 53.41L724.39 57.48M731.05 54.54L725.48 58.94M732.27 56.29L726.21 59.99M733.04 57.46L727.2 61.52M734.15 59.29L727.87 62.61M734.84 60.51L728.76 64.19M735.83 62.4L729.36 65.32M736.45 63.66L730.16 66.96M737.32 65.61L730.68 68.13M737.86 66.91L731.37 69.81M738.61 68.91L731.83 71M739.06 70.23L732.41 72.73M739.69 72.28L732.79 73.95M740.06 73.63L733.27 75.7M740.56 75.7L733.57 76.95M740.85 77.08L733.94 78.73M741.22 79.18L734.16 79.99M741.42 80.57L734.42 81.79M741.66 82.69L734.56 83.06M741.77 84.09L734.71 84.87M741.88 86.22L734.77 86.15M741.9 87.62L734.81 87.97M741.9 89.76L734.8 89.55M741.9 91.16L734.8 91.37M741.9 93.3L734.8 93.09M741.9 94.7L734.8 94.91M642.5 94.7L635.4 94.91M642.5 93.3L635.4 93.09M642.5 91.16L635.4 91.37M642.5 89.76L635.4 89.55M642.5 87.62L635.39 87.65M642.53 86.22L635.44 85.83M642.68 84.08L635.6 83.52M642.83 82.69L635.79 81.71M643.15 80.57L636.14 79.42M643.42 79.2L636.49 77.63M643.92 77.11L637.03 75.38M644.3 75.77L637.52 73.63M644.97 73.73L638.25 71.43M645.46 72.42L638.89 69.73M646.3 70.45L639.79 67.6M646.9 69.19L640.57 65.95M647.89 67.29L641.65 63.9M648.6 66.08L642.57 62.33M649.75 64.28L643.81 60.38M650.55 63.13L644.86 58.89M651.85 61.43L646.26 57.05M652.75 60.35L647.42 55.65M654.19 58.76L648.98 53.93M655.17 57.76L650.25 52.63M656.73 56.3L651.94 51.05M657.79 55.39L653.33 49.87M659.47 54.06L655.14 48.43M660.61 53.24L656.62 47.37M662.39 52.06L658.55 46.09M663.59 51.34L660.11 45.15M665.47 50.31L662.14 44.04M666.73 49.69L663.77 43.23M668.68 48.82L665.88 42.29M669.99 48.3L667.58 41.62M672.01 47.6L669.76 40.86M673.35 47.2L671.51 40.34M675.43 46.67L673.75 39.76M676.8 46.38L675.53 39.39M678.91 46.02L677.81 39M680.3 45.84L679.62 38.77M682.43 45.67L681.92 38.58M683.83 45.61L683.74 38.51M685.97 45.61L686.06 38.51M687.37 45.67L687.88 38.58M689.5 45.84L690.18 38.77M690.89 46.02L691.99 39M693 46.38L694.27 39.39M694.37 46.67L696.05 39.76M696.45 47.2L698.29 40.34M697.79 47.6L700.04 40.86M699.81 48.3L702.22 41.62M701.12 48.82L703.92 42.29M703.07 49.69L706.03 43.23M704.33 50.31L707.66 44.04M706.21 51.34L709.69 45.15M707.41 52.06L711.25 46.09M709.19 53.24L713.18 47.37M710.33 54.06L714.66 48.43M712.01 55.39L716.47 49.87M713.07 56.3L717.86 51.05M714.63 57.76L719.55 52.63M715.61 58.76L720.82 53.93M717.05 60.35L722.38 55.65M717.95 61.43L723.54 57.05M719.25 63.13L724.94 58.89M720.05 64.28L725.99 60.38M721.2 66.08L727.23 62.33M721.91 67.29L728.15 63.9M722.9 69.19L729.23 65.95M723.5 70.45L730.01 67.6M724.34 72.42L730.91 69.73M724.83 73.73L731.55 71.43M725.5 75.77L732.28 73.63M725.88 77.11L732.77 75.38M726.38 79.2L733.31 77.63M726.65 80.57L733.66 79.42M726.97 82.69L734.01 81.71M727.12 84.08L734.2 83.52M727.27 86.22L734.36 85.83M727.3 87.62L734.41 87.65M727.3 89.76L734.4 89.55M727.3 91.16L734.4 91.37M727.3 93.3L734.4 93.09M727.3 94.7L734.4 94.91" fill="none" stroke="#9dbbe0" stroke-width="0.5"/>
<path d="M627.9 94h0M627.9 90.46h0M627.91 86.92h0M628.09 83.39h0M628.48 79.87h0M629.09 76.39h0M629.92 72.95h0M630.96 69.57h0M632.21 66.26h0M633.66 63.03h0M635.31 59.9h0M637.15 56.88h0M639.17 53.98h0M641.37 51.2h0M643.73 48.57h0M646.26 46.1h0M648.93 43.78h0M651.75 41.63h0M654.69 39.67h0M657.74 37.89h0M660.9 36.3h0M664.16 34.91h0M667.49 33.72h0M670.89 32.75h0M674.35 31.99h0M677.84 31.44h0M681.36 31.11h0M684.9 31h0M688.44 31.11h0M691.96 31.44h0M695.45 31.99h0M698.91 32.75h0M702.31 33.72h0M705.64 34.91h0M708.9 36.3h0M712.06 37.89h0M715.11 39.67h0M718.05 41.63h0M720.87 43.78h0M723.54 46.1h0M726.07 48.57h0M728.43 51.2h0M730.63 53.98h0M732.65 56.88h0M734.49 59.9h0M736.14 63.03h0M737.59 66.26h0M738.84 69.57h0M739.88 72.95h0M740.71 76.39h0M741.32 79.87h0M741.71 83.39h0M741.89 86.92h0M741.9 90.46h0M741.9 94h0M642.5 94h0M642.5 90.46h0M642.51 86.92h0M642.75 83.38h0M643.28 79.88h0M644.11 76.44h0M645.21 73.08h0M646.6 69.82h0M648.25 66.69h0M650.15 63.7h0M652.3 60.89h0M654.68 58.26h0M657.26 55.84h0M660.04 53.65h0M662.99 51.7h0M666.1 50h0M669.34 48.56h0M672.68 47.4h0M676.11 46.52h0M679.6 45.93h0M683.13 45.64h0M686.67 45.64h0M690.2 45.93h0M693.69 46.52h0M697.12 47.4h0M700.46 48.56h0M703.7 50h0M706.81 51.7h0M709.76 53.65h0M712.54 55.84h0M715.12 58.26h0M717.5 60.89h0M719.65 63.7h0M721.55 66.69h0M723.2 69.82h0M724.59 73.08h0M725.69 76.44h0M726.52 79.88h0M727.05 83.38h0M727.29 86.92h0M727.3 90.46h0M727.3 94h0" fill="none" stroke="#3f74b4" stroke-width="3.3" stroke-linecap="round"/>
<path d="M627.9 94h0M627.9 90.46h0M627.91 86.92h0M628.09 83.39h0M628.48 79.87h0M629.09 76.39h0M629.92 72.95h0M630.96 69.57h0M632.21 66.26h0M633.66 63.03h0M635.31 59.9h0M637.15 56.88h0M639.17 53.98h0M641.37 51.2h0M643.73 48.57h0M646.26 46.1h0M648.93 43.78h0M651.75 41.63h0M654.69 39.67h0M657.74 37.89h0M660.9 36.3h0M664.16 34.91h0M667.49 33.72h0M670.89 32.75h0M674.35 31.99h0M677.84 31.44h0M681.36 31.11h0M684.9 31h0M688.44 31.11h0M691.96 31.44h0M695.45 31.99h0M698.91 32.75h0M702.31 33.72h0M705.64 34.91h0M708.9 36.3h0M712.06 37.89h0M715.11 39.67h0M718.05 41.63h0M720.87 43.78h0M723.54 46.1h0M726.07 48.57h0M728.43 51.2h0M730.63 53.98h0M732.65 56.88h0M734.49 59.9h0M736.14 63.03h0M737.59 66.26h0M738.84 69.57h0M739.88 72.95h0M740.71 76.39h0M741.32 79.87h0M741.71 83.39h0M741.89 86.92h0M741.9 90.46h0M741.9 94h0M642.5 94h0M642.5 90.46h0M642.51 86.92h0M642.75 83.38h0M643.28 79.88h0M644.11 76.44h0M645.21 73.08h0M646.6 69.82h0M648.25 66.69h0M650.15 63.7h0M652.3 60.89h0M654.68 58.26h0M657.26 55.84h0M660.04 53.65h0M662.99 51.7h0M666.1 50h0M669.34 48.56h0M672.68 47.4h0M676.11 46.52h0M679.6 45.93h0M683.13 45.64h0M686.67 45.64h0M690.2 45.93h0M693.69 46.52h0M697.12 47.4h0M700.46 48.56h0M703.7 50h0M706.81 51.7h0M709.76 53.65h0M712.54 55.84h0M715.12 58.26h0M717.5 60.89h0M719.65 63.7h0M721.55 66.69h0M723.2 69.82h0M724.59 73.08h0M725.69 76.44h0M726.52 79.88h0M727.05 83.38h0M727.29 86.92h0M727.3 90.46h0M727.3 94h0" fill="none" stroke="#79a8dc" stroke-width="1.8" stroke-linecap="round"/>
<ellipse cx="638.8" cy="69" rx="11.3" ry="5" fill="#9fd56e" stroke="#7fc04e" stroke-width="0.5" transform="rotate(22 638.8 69)"/>
<ellipse cx="635.66" cy="66.48" rx="6.22" ry="2" fill="#c4e6a2" transform="rotate(22 635.66 66.48)" opacity="0.7"/>
<ellipse cx="684.2" cy="40.5" rx="4.5" ry="11.6" fill="#9fd56e" stroke="#7fc04e" stroke-width="0.5"/>
<ellipse cx="682.85" cy="37.6" rx="2.48" ry="4.64" fill="#c4e6a2" opacity="0.7"/>
<ellipse cx="728.3" cy="64.8" rx="11.3" ry="5" fill="#9fd56e" stroke="#7fc04e" stroke-width="0.5" transform="rotate(-28 728.3 64.8)"/>
<ellipse cx="725.31" cy="65.14" rx="6.22" ry="2" fill="#c4e6a2" transform="rotate(-28 725.31 65.14)" opacity="0.7"/>
<text x="685.3" y="81.5" font-size="10.4" text-anchor="middle" fill="#111" stroke="#111" stroke-width=".18" letter-spacing="-0.1">Endogenous</text>
<text x="685.3" y="93.2" font-size="10.4" text-anchor="middle" fill="#111" stroke="#111" stroke-width=".18">cells</text>
<path d="M608.9 49.8 L614.6 57.5 L624 55.6 L623.5 44.6 L615.3 43.4Z" fill="none" stroke="#222" stroke-width="0.6"/>
<text x="608.9" y="51.6" font-size="5" text-anchor="middle" fill="#111" stroke="#fff" stroke-width="1.6" paint-order="stroke">N</text>
<text x="614.6" y="59.3" font-size="5" text-anchor="middle" fill="#111" stroke="#fff" stroke-width="1.6" paint-order="stroke">N</text>
<text x="624" y="57.4" font-size="5" text-anchor="middle" fill="#111" stroke="#fff" stroke-width="1.6" paint-order="stroke">N</text>
<line x1="625.6" y1="57.4" x2="629.5" y2="64.3" stroke="#222" stroke-width="0.5"/>
<line x1="623.5" y1="44.6" x2="628" y2="38" stroke="#222" stroke-width="0.5"/>
<g transform="translate(627.5 29) rotate(-45) scale(1)">
<line x1="-1.4" y1="10" x2="-1.4" y2="0" stroke="#2f9e7c" stroke-width="1.5" stroke-linecap="round"/>
<line x1="1.4" y1="10" x2="1.4" y2="0" stroke="#4fb894" stroke-width="1.5" stroke-linecap="round"/>
<line x1="-1.8" y1="0" x2="-8" y2="-6.5" stroke="#2f9e7c" stroke-width="1.5" stroke-linecap="round"/>
<line x1="1.8" y1="0" x2="8" y2="-6.5" stroke="#2f9e7c" stroke-width="1.5" stroke-linecap="round"/>
<line x1="0" y1="-1" x2="-5.5" y2="-8" stroke="#4fb894" stroke-width="1.5" stroke-linecap="round"/>
<line x1="0" y1="-1" x2="5.5" y2="-8" stroke="#4fb894" stroke-width="1.5" stroke-linecap="round"/>
<line x1="-3.6" y1="9" x2="-3.6" y2="3" stroke="#4fb894" stroke-width="1.5" stroke-linecap="round"/>
<line x1="3.6" y1="9" x2="3.6" y2="3" stroke="#2f9e7c" stroke-width="1.5" stroke-linecap="round"/>
<line x1="-3" y1="1" x2="-9" y2="-3.5" stroke="#4fb894" stroke-width="1.5" stroke-linecap="round"/>
<line x1="3" y1="1" x2="9" y2="-3.5" stroke="#4fb894" stroke-width="1.5" stroke-linecap="round"/>
<path d="M-2.35 6.9 C-1.36 6.27 0.84 4.48 0.94 4.79 C1.05 5.1 -2.35 7.83 -1.99 7.93 C-1.62 8.03 1.55 6.79 2.15 5.12 C2.76 3.45 1.73 2.78 0.04 2.36 C-1.65 1.94 -3.65 4.21 -3.48 3.71 C-3.31 3.21 -1.06 1.11 0.6 0.69 C2.26 0.28 1.62 1.83 2.06 2.32" fill="none" stroke="#2f9e7c" stroke-width="0.6" stroke-linecap="round"/>
<path d="M-5.57 -11.66 C-7.36 -10.11 -10.06 -6.47 -11.55 -6.51 C-13.03 -6.54 -11.73 -10.6 -10.52 -11.78 C-9.32 -12.95 -8.89 -10.63 -7.53 -10.43 C-6.18 -10.23 -6.6 -11.06 -6.01 -11.11 C-5.42 -11.16 -5.01 -11.84 -5.56 -10.58 C-6.11 -9.32 -7.33 -8 -7.85 -6.91 C-8.38 -5.82 -7.52 -5.37 -7.31 -6.96 C-7.11 -8.55 -7.54 -11.61 -7.17 -12.21 C-6.79 -12.81 -6.39 -9.94 -6.06 -8.96" fill="none" stroke="#d9814a" stroke-width="0.85" stroke-linecap="round"/>
<path d="M11.22 -6.81 C11.16 -8.37 11.65 -11.05 11.01 -12 C10.37 -12.94 9.78 -10.04 9.09 -9.96 C8.39 -9.87 9.46 -11.76 8.69 -11.72 C7.92 -11.68 7.12 -10.42 6.53 -9.83 C5.94 -9.25 7.04 -9.12 6.71 -9.77 C6.39 -10.42 4.52 -11.92 5.46 -11.99 C6.4 -12.05 8.91 -11.14 9.84 -9.97 C10.78 -8.81 9.25 -7.44 8.58 -8.09 C7.91 -8.75 7.89 -10.94 7.6 -12.15" fill="none" stroke="#d9814a" stroke-width="0.85" stroke-linecap="round"/>
<path d="M-7.44 -7.8 C-8.23 -7.56 -9.31 -6.76 -10.09 -7.01 C-10.86 -7.26 -9.89 -8.28 -10.03 -8.65 C-10.17 -9.01 -10.48 -8.26 -10.54 -8.21 C-10.61 -8.16 -11.19 -8.48 -10.24 -8.47 C-9.29 -8.45 -8.24 -8.26 -7.38 -8.17" fill="none" stroke="#e8a878" stroke-width="0.7" stroke-linecap="round"/>
<path d="M7.88 -7.37 C8.58 -8.44 9.48 -10.49 10.22 -10.93 C10.96 -11.37 11.56 -9.93 10.36 -8.82 C9.16 -7.71 7.14 -6.74 6.21 -7.24 C5.29 -7.73 6.71 -9.92 7.28 -10.47 C7.85 -11.02 7.87 -9.48 8.12 -9.06" fill="none" stroke="#e8a878" stroke-width="0.7" stroke-linecap="round"/>
</g>
<line x1="637" y1="38.5" x2="654.6" y2="57.8" stroke="#666" stroke-width="0.45"/>
<line x1="638.4" y1="37.6" x2="656" y2="56.8" stroke="#666" stroke-width="0.45"/>
<path d="M688 5.9 L682.6 14.1 L690.4 21.6 L698.6 16.4 L697.4 9.4Z" fill="none" stroke="#222" stroke-width="0.6"/>
<text x="688" y="7.7" font-size="5" text-anchor="middle" fill="#111" stroke="#fff" stroke-width="1.6" paint-order="stroke">N</text>
<text x="682.6" y="15.9" font-size="5" text-anchor="middle" fill="#111" stroke="#fff" stroke-width="1.6" paint-order="stroke">N</text>
<text x="690.4" y="23.4" font-size="5" text-anchor="middle" fill="#111" stroke="#fff" stroke-width="1.6" paint-order="stroke">N</text>
<line x1="689.4" y1="23.6" x2="685.9" y2="29.5" stroke="#222" stroke-width="0.5"/>
<line x1="698.6" y1="16.4" x2="705" y2="15" stroke="#222" stroke-width="0.5"/>
<g transform="translate(712.3 13) rotate(12) scale(1)">
<line x1="-1.4" y1="10" x2="-1.4" y2="0" stroke="#2f9e7c" stroke-width="1.5" stroke-linecap="round"/>
<line x1="1.4" y1="10" x2="1.4" y2="0" stroke="#4fb894" stroke-width="1.5" stroke-linecap="round"/>
<line x1="-1.8" y1="0" x2="-8" y2="-6.5" stroke="#2f9e7c" stroke-width="1.5" stroke-linecap="round"/>
<line x1="1.8" y1="0" x2="8" y2="-6.5" stroke="#2f9e7c" stroke-width="1.5" stroke-linecap="round"/>
<line x1="0" y1="-1" x2="-5.5" y2="-8" stroke="#4fb894" stroke-width="1.5" stroke-linecap="round"/>
<line x1="0" y1="-1" x2="5.5" y2="-8" stroke="#4fb894" stroke-width="1.5" stroke-linecap="round"/>
<line x1="-3.6" y1="9" x2="-3.6" y2="3" stroke="#4fb894" stroke-width="1.5" stroke-linecap="round"/>
<line x1="3.6" y1="9" x2="3.6" y2="3" stroke="#2f9e7c" stroke-width="1.5" stroke-linecap="round"/>
<line x1="-3" y1="1" x2="-9" y2="-3.5" stroke="#4fb894" stroke-width="1.5" stroke-linecap="round"/>
<line x1="3" y1="1" x2="9" y2="-3.5" stroke="#4fb894" stroke-width="1.5" stroke-linecap="round"/>
<path d="M-2.35 6.9 C-1.36 6.27 0.84 4.48 0.94 4.79 C1.05 5.1 -2.35 7.83 -1.99 7.93 C-1.62 8.03 1.55 6.79 2.15 5.12 C2.76 3.45 1.73 2.78 0.04 2.36 C-1.65 1.94 -3.65 4.21 -3.48 3.71 C-3.31 3.21 -1.06 1.11 0.6 0.69 C2.26 0.28 1.62 1.83 2.06 2.32" fill="none" stroke="#2f9e7c" stroke-width="0.6" stroke-linecap="round"/>
<path d="M-5.57 -11.66 C-7.36 -10.11 -10.06 -6.47 -11.55 -6.51 C-13.03 -6.54 -11.73 -10.6 -10.52 -11.78 C-9.32 -12.95 -8.89 -10.63 -7.53 -10.43 C-6.18 -10.23 -6.6 -11.06 -6.01 -11.11 C-5.42 -11.16 -5.01 -11.84 -5.56 -10.58 C-6.11 -9.32 -7.33 -8 -7.85 -6.91 C-8.38 -5.82 -7.52 -5.37 -7.31 -6.96 C-7.11 -8.55 -7.54 -11.61 -7.17 -12.21 C-6.79 -12.81 -6.39 -9.94 -6.06 -8.96" fill="none" stroke="#d9814a" stroke-width="0.85" stroke-linecap="round"/>
<path d="M11.22 -6.81 C11.16 -8.37 11.65 -11.05 11.01 -12 C10.37 -12.94 9.78 -10.04 9.09 -9.96 C8.39 -9.87 9.46 -11.76 8.69 -11.72 C7.92 -11.68 7.12 -10.42 6.53 -9.83 C5.94 -9.25 7.04 -9.12 6.71 -9.77 C6.39 -10.42 4.52 -11.92 5.46 -11.99 C6.4 -12.05 8.91 -11.14 9.84 -9.97 C10.78 -8.81 9.25 -7.44 8.58 -8.09 C7.91 -8.75 7.89 -10.94 7.6 -12.15" fill="none" stroke="#d9814a" stroke-width="0.85" stroke-linecap="round"/>
<path d="M-7.44 -7.8 C-8.23 -7.56 -9.31 -6.76 -10.09 -7.01 C-10.86 -7.26 -9.89 -8.28 -10.03 -8.65 C-10.17 -9.01 -10.48 -8.26 -10.54 -8.21 C-10.61 -8.16 -11.19 -8.48 -10.24 -8.47 C-9.29 -8.45 -8.24 -8.26 -7.38 -8.17" fill="none" stroke="#e8a878" stroke-width="0.7" stroke-linecap="round"/>
<path d="M7.88 -7.37 C8.58 -8.44 9.48 -10.49 10.22 -10.93 C10.96 -11.37 11.56 -9.93 10.36 -8.82 C9.16 -7.71 7.14 -6.74 6.21 -7.24 C5.29 -7.73 6.71 -9.92 7.28 -10.47 C7.85 -11.02 7.87 -9.48 8.12 -9.06" fill="none" stroke="#e8a878" stroke-width="0.7" stroke-linecap="round"/>
</g>
<line x1="709.6" y1="23.5" x2="695.6" y2="50.5" stroke="#666" stroke-width="0.45"/>
<line x1="711.2" y1="24.2" x2="697.2" y2="51.2" stroke="#666" stroke-width="0.45"/>
<path d="M745.5 61.5 L749.6 52.2 L758.4 52.2 L762 59.9 L756.1 64.6Z" fill="none" stroke="#222" stroke-width="0.6"/>
<text x="745.5" y="63.3" font-size="5" text-anchor="middle" fill="#111" stroke="#fff" stroke-width="1.6" paint-order="stroke">N</text>
<text x="749.6" y="54" font-size="5" text-anchor="middle" fill="#111" stroke="#fff" stroke-width="1.6" paint-order="stroke">N</text>
<text x="758.4" y="54" font-size="5" text-anchor="middle" fill="#111" stroke="#fff" stroke-width="1.6" paint-order="stroke">N</text>
<line x1="751.8" y1="51.4" x2="756" y2="51.4" stroke="#222" stroke-width="0.45"/>
<line x1="751.8" y1="53" x2="756" y2="53" stroke="#222" stroke-width="0.45"/>
<line x1="737.5" y1="61.5" x2="743" y2="61.5" stroke="#222" stroke-width="0.5"/>
<line x1="756.1" y1="64.6" x2="760" y2="69" stroke="#222" stroke-width="0.5"/>
<g transform="translate(767 76.3) rotate(65) scale(1)">
<line x1="-1.4" y1="10" x2="-1.4" y2="0" stroke="#2f9e7c" stroke-width="1.5" stroke-linecap="round"/>
<line x1="1.4" y1="10" x2="1.4" y2="0" stroke="#4fb894" stroke-width="1.5" stroke-linecap="round"/>
<line x1="-1.8" y1="0" x2="-8" y2="-6.5" stroke="#2f9e7c" stroke-width="1.5" stroke-linecap="round"/>
<line x1="1.8" y1="0" x2="8" y2="-6.5" stroke="#2f9e7c" stroke-width="1.5" stroke-linecap="round"/>
<line x1="0" y1="-1" x2="-5.5" y2="-8" stroke="#4fb894" stroke-width="1.5" stroke-linecap="round"/>
<line x1="0" y1="-1" x2="5.5" y2="-8" stroke="#4fb894" stroke-width="1.5" stroke-linecap="round"/>
<line x1="-3.6" y1="9" x2="-3.6" y2="3" stroke="#4fb894" stroke-width="1.5" stroke-linecap="round"/>
<line x1="3.6" y1="9" x2="3.6" y2="3" stroke="#2f9e7c" stroke-width="1.5" stroke-linecap="round"/>
<line x1="-3" y1="1" x2="-9" y2="-3.5" stroke="#4fb894" stroke-width="1.5" stroke-linecap="round"/>
<line x1="3" y1="1" x2="9" y2="-3.5" stroke="#4fb894" stroke-width="1.5" stroke-linecap="round"/>
<path d="M-2.35 6.9 C-1.36 6.27 0.84 4.48 0.94 4.79 C1.05 5.1 -2.35 7.83 -1.99 7.93 C-1.62 8.03 1.55 6.79 2.15 5.12 C2.76 3.45 1.73 2.78 0.04 2.36 C-1.65 1.94 -3.65 4.21 -3.48 3.71 C-3.31 3.21 -1.06 1.11 0.6 0.69 C2.26 0.28 1.62 1.83 2.06 2.32" fill="none" stroke="#2f9e7c" stroke-width="0.6" stroke-linecap="round"/>
<path d="M-5.57 -11.66 C-7.36 -10.11 -10.06 -6.47 -11.55 -6.51 C-13.03 -6.54 -11.73 -10.6 -10.52 -11.78 C-9.32 -12.95 -8.89 -10.63 -7.53 -10.43 C-6.18 -10.23 -6.6 -11.06 -6.01 -11.11 C-5.42 -11.16 -5.01 -11.84 -5.56 -10.58 C-6.11 -9.32 -7.33 -8 -7.85 -6.91 C-8.38 -5.82 -7.52 -5.37 -7.31 -6.96 C-7.11 -8.55 -7.54 -11.61 -7.17 -12.21 C-6.79 -12.81 -6.39 -9.94 -6.06 -8.96" fill="none" stroke="#d9814a" stroke-width="0.85" stroke-linecap="round"/>
<path d="M11.22 -6.81 C11.16 -8.37 11.65 -11.05 11.01 -12 C10.37 -12.94 9.78 -10.04 9.09 -9.96 C8.39 -9.87 9.46 -11.76 8.69 -11.72 C7.92 -11.68 7.12 -10.42 6.53 -9.83 C5.94 -9.25 7.04 -9.12 6.71 -9.77 C6.39 -10.42 4.52 -11.92 5.46 -11.99 C6.4 -12.05 8.91 -11.14 9.84 -9.97 C10.78 -8.81 9.25 -7.44 8.58 -8.09 C7.91 -8.75 7.89 -10.94 7.6 -12.15" fill="none" stroke="#d9814a" stroke-width="0.85" stroke-linecap="round"/>
<path d="M-7.44 -7.8 C-8.23 -7.56 -9.31 -6.76 -10.09 -7.01 C-10.86 -7.26 -9.89 -8.28 -10.03 -8.65 C-10.17 -9.01 -10.48 -8.26 -10.54 -8.21 C-10.61 -8.16 -11.19 -8.48 -10.24 -8.47 C-9.29 -8.45 -8.24 -8.26 -7.38 -8.17" fill="none" stroke="#e8a878" stroke-width="0.7" stroke-linecap="round"/>
<path d="M7.88 -7.37 C8.58 -8.44 9.48 -10.49 10.22 -10.93 C10.96 -11.37 11.56 -9.93 10.36 -8.82 C9.16 -7.71 7.14 -6.74 6.21 -7.24 C5.29 -7.73 6.71 -9.92 7.28 -10.47 C7.85 -11.02 7.87 -9.48 8.12 -9.06" fill="none" stroke="#e8a878" stroke-width="0.7" stroke-linecap="round"/>
</g>
<line x1="755" y1="81.6" x2="725.6" y2="86.8" stroke="#666" stroke-width="0.45"/>
<line x1="755.2" y1="83.2" x2="725.8" y2="88.4" stroke="#666" stroke-width="0.45"/>
<rect x="19.5" y="131" width="84.5" height="84.5" fill="#04040f"/>
<rect x="106" y="131" width="84.5" height="84.5" fill="#010301"/>
<rect x="192" y="131" width="84.5" height="84.5" fill="#170103"/>
<rect x="277.5" y="131" width="84.5" height="84.5" fill="#110318"/>
<rect x="19.5" y="217.5" width="84.5" height="84.5" fill="#04040f"/>
<rect x="106" y="217.5" width="84.5" height="84.5" fill="#070d04"/>
<rect x="192" y="217.5" width="84.5" height="84.5" fill="#0f0101"/>
<rect x="277.5" y="217.5" width="84.5" height="84.5" fill="#0d0d08"/>
<text x="7" y="141" font-size="17.5" font-weight="bold" fill="#231f20" stroke="#231f20" stroke-width=".18">b</text>
<text font-size="9.5" text-anchor="middle" fill="#333" stroke="#333" stroke-width=".18" transform="translate(15.2 179.8) rotate(-90)">DBCO-PD-L1</text>
<text font-size="9.5" text-anchor="middle" fill="#111" stroke="#111" stroke-width=".18" transform="translate(15.2 261) rotate(-90)">DBCO/DSPE-PD-L1</text>
<text x="25.5" y="143.5" font-size="9.5" font-weight="bold" fill="#1212e8" stroke="#1212e8" stroke-width=".18">DAPI</text>
<text x="112" y="143.5" font-size="9.5" font-weight="bold" fill="#1fd41f" stroke="#1fd41f" stroke-width=".18">FITC-PD-L1</text>
<text x="197.5" y="143.5" font-size="9.5" font-weight="bold" fill="#d81818" stroke="#d81818" stroke-width=".18">Dil</text>
<text x="281" y="142" font-size="9.5" font-weight="bold" fill="#f2f200" stroke="#f2f200" stroke-width=".18">Merge</text>
<circle cx="35" cy="155.5" r="1.8" fill="#1818e0" opacity="0.68" filter="url(#bl0)"/>
<circle cx="60.75" cy="150.5" r="1.8" fill="#1818e0" opacity="0.47" filter="url(#bl0)"/>
<circle cx="56.25" cy="159.25" r="2.05" fill="#1818e0" opacity="0.81" filter="url(#bl0)"/>
<circle cx="79.5" cy="165" r="1.8" fill="#1818e0" opacity="0.85" filter="url(#bl0)"/>
<circle cx="88.75" cy="161.5" r="1.55" fill="#1818e0" opacity="0.59" filter="url(#bl0)"/>
<circle cx="97.5" cy="180.75" r="2.05" fill="#1818e0" opacity="0.85" filter="url(#bl0)"/>
<circle cx="57" cy="168.75" r="1.3" fill="#1818e0" opacity="0.51" filter="url(#bl0)"/>
<circle cx="59" cy="185.5" r="1.8" fill="#1818e0" opacity="0.26" filter="url(#bl0)"/>
<circle cx="72" cy="208.5" r="1.8" fill="#1818e0" opacity="0.64" filter="url(#bl0)"/>
<circle cx="41.25" cy="212.5" r="1.55" fill="#1818e0" opacity="0.59" filter="url(#bl0)"/>
<circle cx="50" cy="146" r="1.3" fill="#1818e0" opacity="0.34" filter="url(#bl0)"/>
<circle cx="45.5" cy="240.5" r="2.05" fill="#1818e0" opacity="0.72" filter="url(#bl0)"/>
<circle cx="59.5" cy="241.5" r="2.05" fill="#1818e0" opacity="0.77" filter="url(#bl0)"/>
<circle cx="70.5" cy="237.75" r="1.8" fill="#1818e0" opacity="0.59" filter="url(#bl0)"/>
<circle cx="32.5" cy="267.75" r="2.05" fill="#1818e0" opacity="0.68" filter="url(#bl0)"/>
<circle cx="62.5" cy="269.5" r="1.8" fill="#1818e0" opacity="0.72" filter="url(#bl0)"/>
<circle cx="88.75" cy="261.25" r="2.3" fill="#1818e0" opacity="0.59" filter="url(#bl0)"/>
<circle cx="93" cy="271.5" r="1.8" fill="#1818e0" opacity="0.59" filter="url(#bl0)"/>
<circle cx="85.75" cy="285" r="1.8" fill="#1818e0" opacity="0.55" filter="url(#bl0)"/>
<circle cx="91.25" cy="294.25" r="1.55" fill="#1818e0" opacity="0.47" filter="url(#bl0)"/>
<path d="M146.5 150 L150 162.5 L147.5 177.5 L143.75 188.75 L140 195" fill="none" stroke="#2a8a1a" stroke-width="1.8" opacity="0.5" filter="url(#bl2)" stroke-linecap="round" stroke-linejoin="round"/>
<path d="M163.75 160 L165.5 166.25" fill="none" stroke="#2a8a1a" stroke-width="2" opacity="0.4" filter="url(#bl1)"/>
<path d="M128.75 208.75 L130 212.5" fill="none" stroke="#2a8a1a" stroke-width="2.5" opacity="0.35" filter="url(#bl1)"/>
<path d="M127.5 243 L160 241" fill="none" stroke="#5dbb2a" stroke-width="1.26" opacity="0.31" filter="url(#bl1)" stroke-linecap="round"/>
<ellipse cx="147" cy="241.8" rx="7.16" ry="2.1" fill="#5dbb2a" transform="rotate(-3.52 147 241.8)" opacity="0.44" filter="url(#bl1)"/>
<path d="M108.75 271.25 L136.25 263" fill="none" stroke="#5dbb2a" stroke-width="1.35" opacity="0.45" filter="url(#bl1)" stroke-linecap="round"/>
<ellipse cx="118.38" cy="268.36" rx="6.32" ry="2.25" fill="#5dbb2a" transform="rotate(-16.7 118.38 268.36)" opacity="0.64" filter="url(#bl1)"/>
<path d="M143.75 266.25 L156.25 276.25" fill="none" stroke="#5dbb2a" stroke-width="1.5" opacity="0.48" filter="url(#bl1)" stroke-linecap="round"/>
<ellipse cx="148.12" cy="269.75" rx="3.52" ry="2.5" fill="#5dbb2a" transform="rotate(38.66 148.12 269.75)" opacity="0.68" filter="url(#bl1)"/>
<path d="M168.75 263.5 L186.25 257" fill="none" stroke="#5dbb2a" stroke-width="1.2" opacity="0.25" filter="url(#bl1)" stroke-linecap="round"/>
<ellipse cx="177.5" cy="260.25" rx="4.11" ry="2" fill="#5dbb2a" transform="rotate(-20.38 177.5 260.25)" opacity="0.36" filter="url(#bl1)"/>
<path d="M170.75 276.25 L173 298.75" fill="none" stroke="#5dbb2a" stroke-width="1.2" opacity="0.28" filter="url(#bl1)" stroke-linecap="round"/>
<ellipse cx="171.76" cy="286.38" rx="4.97" ry="2" fill="#5dbb2a" transform="rotate(84.29 171.76 286.38)" opacity="0.4" filter="url(#bl1)"/>
<path d="M175 264.5 L182.5 274.5" fill="none" stroke="#5dbb2a" stroke-width="0.9" opacity="0.2" filter="url(#bl1)" stroke-linecap="round"/>
<ellipse cx="177.25" cy="267.5" rx="2.75" ry="1.5" fill="#5dbb2a" transform="rotate(53.13 177.25 267.5)" opacity="0.28" filter="url(#bl1)"/>
<path d="M233 150 L235.5 162.5 L235 173.75 L231.5 186.25 L223.5 200 L216 210.5" fill="none" stroke="#d01a14" stroke-width="2" opacity="0.75" filter="url(#bl1)" stroke-linecap="round" stroke-linejoin="round"/>
<ellipse cx="234" cy="151.25" rx="2.6" ry="2.4" fill="#d01a14" opacity="0.8" filter="url(#bl1)"/>
<ellipse cx="232.5" cy="185.5" rx="2.2" ry="5" fill="#d01a14" transform="rotate(15 232.5 185.5)" opacity="0.8" filter="url(#bl1)"/>
<ellipse cx="235.5" cy="166.25" rx="2.4" ry="4" fill="#d01a14" opacity="0.7" filter="url(#bl1)"/>
<ellipse cx="214" cy="210.5" rx="3" ry="3" fill="#d01a14" opacity="0.7" filter="url(#bl1)"/>
<path d="M250 157.5 L251.5 167.5" fill="none" stroke="#d01a14" stroke-width="2.2" opacity="0.7" filter="url(#bl1)"/>
<path d="M221 145 L223.5 148" fill="none" stroke="#d01a14" stroke-width="2" opacity="0.6" filter="url(#bl1)"/>
<circle cx="228.5" cy="169" r="1.5" fill="#d01a14" opacity="0.5" filter="url(#bl1)"/>
<path d="M213.5 243 L246 241" fill="none" stroke="#e01a14" stroke-width="1.26" opacity="0.4" filter="url(#bl1)" stroke-linecap="round"/>
<ellipse cx="233" cy="241.8" rx="7.16" ry="2.1" fill="#e01a14" transform="rotate(-3.52 233 241.8)" opacity="0.58" filter="url(#bl1)"/>
<path d="M194.75 271.25 L222.25 263" fill="none" stroke="#e01a14" stroke-width="1.35" opacity="0.59" filter="url(#bl1)" stroke-linecap="round"/>
<ellipse cx="204.38" cy="268.36" rx="6.32" ry="2.25" fill="#e01a14" transform="rotate(-16.7 204.38 268.36)" opacity="0.84" filter="url(#bl1)"/>
<path d="M229.75 266.25 L242.25 276.25" fill="none" stroke="#e01a14" stroke-width="1.5" opacity="0.62" filter="url(#bl1)" stroke-linecap="round"/>
<ellipse cx="234.12" cy="269.75" rx="3.52" ry="2.5" fill="#e01a14" transform="rotate(38.66 234.12 269.75)" opacity="0.89" filter="url(#bl1)"/>
<path d="M254.75 263.5 L272.25 257" fill="none" stroke="#e01a14" stroke-width="1.2" opacity="0.33" filter="url(#bl1)" stroke-linecap="round"/>
<ellipse cx="263.5" cy="260.25" rx="4.11" ry="2" fill="#e01a14" transform="rotate(-20.38 263.5 260.25)" opacity="0.47" filter="url(#bl1)"/>
<path d="M256.75 276.25 L259 298.75" fill="none" stroke="#e01a14" stroke-width="1.2" opacity="0.37" filter="url(#bl1)" stroke-linecap="round"/>
<ellipse cx="257.76" cy="286.38" rx="4.97" ry="2" fill="#e01a14" transform="rotate(84.29 257.76 286.38)" opacity="0.53" filter="url(#bl1)"/>
<path d="M261 264.5 L268.5 274.5" fill="none" stroke="#e01a14" stroke-width="0.9" opacity="0.26" filter="url(#bl1)" stroke-linecap="round"/>
<ellipse cx="263.25" cy="267.5" rx="2.75" ry="1.5" fill="#e01a14" transform="rotate(53.13 263.25 267.5)" opacity="0.37" filter="url(#bl1)"/>
<path d="M317.5 150 L321 162.5 L320 173.75 L316.5 186.25 L308.5 200 L301 210.5" fill="none" stroke="#d86a1a" stroke-width="2.2" opacity="0.8" filter="url(#bl1)" stroke-linecap="round" stroke-linejoin="round"/>
<ellipse cx="317.5" cy="185.5" rx="2.2" ry="5" fill="#d86a1a" transform="rotate(15 317.5 185.5)" opacity="0.85" filter="url(#bl1)"/>
<ellipse cx="320.5" cy="166.25" rx="2.4" ry="4" fill="#d86a1a" opacity="0.8" filter="url(#bl1)"/>
<ellipse cx="299.5" cy="210.5" rx="3" ry="3" fill="#d86a1a" opacity="0.8" filter="url(#bl1)"/>
<path d="M335 157.5 L337 167.5" fill="none" stroke="#d86a1a" stroke-width="2.2" opacity="0.8" filter="url(#bl1)"/>
<path d="M306.5 145 L309 148" fill="none" stroke="#d86a1a" stroke-width="2" opacity="0.7" filter="url(#bl1)"/>
<circle cx="317.5" cy="151" r="1.8" fill="#2a2af5" filter="url(#bl0)"/>
<circle cx="313.75" cy="159.5" r="1.8" fill="#2a2af5" filter="url(#bl0)"/>
<circle cx="314" cy="168.75" r="1.8" fill="#2a2af5" filter="url(#bl0)"/>
<circle cx="337.5" cy="164.5" r="1.55" fill="#2a2af5" filter="url(#bl0)"/>
<circle cx="346.5" cy="161.5" r="1.55" fill="#2a2af5" filter="url(#bl0)"/>
<circle cx="355" cy="181" r="2.05" fill="#2a2af5" filter="url(#bl0)"/>
<circle cx="316.75" cy="185.5" r="1.8" fill="#2a2af5" filter="url(#bl0)"/>
<circle cx="329" cy="208.5" r="1.8" fill="#2a2af5" filter="url(#bl0)"/>
<circle cx="299.5" cy="211.25" r="1.8" fill="#2a2af5" filter="url(#bl0)"/>
<circle cx="320.5" cy="167.5" r="1.55" fill="#2a2af5" filter="url(#bl0)"/>
<path d="M299 243 L331.5 241" fill="none" stroke="#e08a14" stroke-width="1.26" opacity="0.4" filter="url(#bl1)" stroke-linecap="round"/>
<ellipse cx="318.5" cy="241.8" rx="7.16" ry="2.1" fill="#e08a14" transform="rotate(-3.52 318.5 241.8)" opacity="0.58" filter="url(#bl1)"/>
<ellipse cx="318.5" cy="241.8" rx="2.4" ry="1.4" fill="#2a2af5" transform="rotate(-3.52 318.5 241.8)" filter="url(#bl0)"/>
<path d="M280.25 271.25 L307.75 263" fill="none" stroke="#e08a14" stroke-width="1.35" opacity="0.59" filter="url(#bl1)" stroke-linecap="round"/>
<ellipse cx="289.88" cy="268.36" rx="6.32" ry="2.25" fill="#e08a14" transform="rotate(-16.7 289.88 268.36)" opacity="0.84" filter="url(#bl1)"/>
<ellipse cx="289.88" cy="268.36" rx="2.4" ry="1.4" fill="#2a2af5" transform="rotate(-16.7 289.88 268.36)" filter="url(#bl0)"/>
<path d="M315.25 266.25 L327.75 276.25" fill="none" stroke="#e08a14" stroke-width="1.5" opacity="0.62" filter="url(#bl1)" stroke-linecap="round"/>
<ellipse cx="319.62" cy="269.75" rx="3.52" ry="2.5" fill="#e08a14" transform="rotate(38.66 319.62 269.75)" opacity="0.89" filter="url(#bl1)"/>
<ellipse cx="319.62" cy="269.75" rx="2.4" ry="1.4" fill="#2a2af5" transform="rotate(38.66 319.62 269.75)" filter="url(#bl0)"/>
<path d="M340.25 263.5 L357.75 257" fill="none" stroke="#e08a14" stroke-width="1.2" opacity="0.33" filter="url(#bl1)" stroke-linecap="round"/>
<ellipse cx="349" cy="260.25" rx="4.11" ry="2" fill="#e08a14" transform="rotate(-20.38 349 260.25)" opacity="0.47" filter="url(#bl1)"/>
<ellipse cx="349" cy="260.25" rx="2.4" ry="1.4" fill="#2a2af5" transform="rotate(-20.38 349 260.25)" filter="url(#bl0)"/>
<path d="M342.25 276.25 L344.5 298.75" fill="none" stroke="#e08a14" stroke-width="1.2" opacity="0.37" filter="url(#bl1)" stroke-linecap="round"/>
<ellipse cx="343.26" cy="286.38" rx="4.97" ry="2" fill="#e08a14" transform="rotate(84.29 343.26 286.38)" opacity="0.53" filter="url(#bl1)"/>
<ellipse cx="343.26" cy="286.38" rx="2.4" ry="1.4" fill="#2a2af5" transform="rotate(84.29 343.26 286.38)" filter="url(#bl0)"/>
<path d="M346.5 264.5 L354 274.5" fill="none" stroke="#e08a14" stroke-width="0.9" opacity="0.26" filter="url(#bl1)" stroke-linecap="round"/>
<ellipse cx="348.75" cy="267.5" rx="2.75" ry="1.5" fill="#e08a14" transform="rotate(53.13 348.75 267.5)" opacity="0.37" filter="url(#bl1)"/>
<ellipse cx="348.75" cy="267.5" rx="2.4" ry="1.4" fill="#2a2af5" transform="rotate(53.13 348.75 267.5)" filter="url(#bl0)"/>
<circle cx="327.5" cy="237.5" r="1.5" fill="#2a2af5" filter="url(#bl0)"/>
<circle cx="350.25" cy="271.5" r="1.5" fill="#2a2af5" filter="url(#bl0)"/>
<circle cx="278.5" cy="267.5" r="1.5" fill="#2a2af5" filter="url(#bl0)"/>
<rect x="339.5" y="292" width="17" height="4" fill="#fff"/>
<text x="370" y="141" font-size="17.5" font-weight="bold" fill="#231f20" stroke="#231f20" stroke-width=".18">c</text>
<rect x="408.5" y="136.4" width="92" height="153.6" fill="none" stroke="#1a1a1a" stroke-width="0.7"/>
<line x1="405" y1="290" x2="408.5" y2="290" stroke="#1a1a1a" stroke-width="0.7"/>
<text x="403.5" y="293.4" font-size="9.6" text-anchor="end" fill="#333" stroke="#333" stroke-width=".18">0</text>
<line x1="405" y1="228.5" x2="408.5" y2="228.5" stroke="#1a1a1a" stroke-width="0.7"/>
<text x="403.5" y="231.9" font-size="9.6" text-anchor="end" fill="#333" stroke="#333" stroke-width=".18">100</text>
<line x1="405" y1="167" x2="408.5" y2="167" stroke="#1a1a1a" stroke-width="0.7"/>
<text x="403.5" y="170.4" font-size="9.6" text-anchor="end" fill="#333" stroke="#333" stroke-width=".18">200</text>
<line x1="434.5" y1="290" x2="434.5" y2="293" stroke="#1a1a1a" stroke-width="0.7"/>
<line x1="474.5" y1="290" x2="474.5" y2="293" stroke="#1a1a1a" stroke-width="0.7"/>
<text font-size="9.6" text-anchor="middle" fill="#333" stroke="#333" stroke-width=".18" letter-spacing="-0.03" transform="translate(380 221) rotate(-90)">Fluorescence intensity (a.u.)</text>
<rect x="421.6" y="221" width="26" height="69" fill="#ff9c9c" stroke="#ff0d0d" stroke-width="1.3"/>
<line x1="434.6" y1="204.6" x2="434.6" y2="221" stroke="#ff0d0d" stroke-width="1.2"/>
<line x1="428.4" y1="204.6" x2="440.8" y2="204.6" stroke="#ff0d0d" stroke-width="1.2"/>
<circle cx="438.5" cy="204.5" r="2.6" fill="#ff0d0d"/>
<circle cx="431" cy="206" r="2.6" fill="#ff0d0d"/>
<circle cx="434.5" cy="213" r="2.6" fill="#ff0d0d"/>
<circle cx="434.5" cy="219.5" r="2.6" fill="#ff0d0d"/>
<circle cx="434.5" cy="234.5" r="2.6" fill="#ff0d0d"/>
<circle cx="434.5" cy="244" r="2.6" fill="#ff0d0d"/>
<rect x="461.4" y="179.6" width="26" height="110.4" fill="#8cbaf7" stroke="#1616ff" stroke-width="1.3"/>
<line x1="474.4" y1="162.1" x2="474.4" y2="179.6" stroke="#1616ff" stroke-width="1.2"/>
<line x1="468" y1="162.1" x2="480.8" y2="162.1" stroke="#1616ff" stroke-width="1.2"/>
<circle cx="474" cy="158" r="2.6" fill="#1616ff"/>
<circle cx="470.5" cy="167" r="2.6" fill="#1616ff"/>
<circle cx="478.5" cy="171.5" r="2.6" fill="#1616ff"/>
<circle cx="474" cy="177.5" r="2.6" fill="#1616ff"/>
<circle cx="478.5" cy="197.5" r="2.6" fill="#1616ff"/>
<circle cx="470" cy="200" r="2.6" fill="#1616ff"/>
<line x1="435.8" y1="151.4" x2="473.4" y2="151.4" stroke="#1a1a1a" stroke-width="1"/>
<text x="435" y="148.5" font-size="9.8" fill="#222" stroke="#222" stroke-width=".18" letter-spacing="-0.1"><tspan font-size="5.6" dy="-1.2">★★</tspan><tspan dy="1.2" font-style="italic">P</tspan> = 0.0012</text>
<text x="432.5" y="303.5" font-size="9.6" text-anchor="middle" fill="#333" stroke="#333" stroke-width=".18">DBCO-</text>
<text x="432.5" y="314.5" font-size="9.6" text-anchor="middle" fill="#333" stroke="#333" stroke-width=".18">PD-L1</text>
<text x="481" y="303.5" font-size="9.6" text-anchor="middle" fill="#333" stroke="#333" stroke-width=".18" letter-spacing="-0.2">DBCO/DSPE-</text>
<text x="475" y="314.5" font-size="9.6" text-anchor="middle" fill="#333" stroke="#333" stroke-width=".18">PD-L1</text>
<text x="515.5" y="141" font-size="17.5" font-weight="bold" fill="#231f20" stroke="#231f20" stroke-width=".18">d</text>
<text x="598" y="133.5" font-size="9.6" text-anchor="middle" fill="#333" stroke="#333" stroke-width=".18">DBCO-PD-L1</text>
<text x="720.5" y="133.5" font-size="9.6" text-anchor="middle" fill="#222" stroke="#222" stroke-width=".18">DBCO/DSPE-PD-L1</text>
<clipPath id="dl"><rect x="538" y="138.5" width="116.5" height="153"/></clipPath>
<clipPath id="dr"><rect x="659" y="138.5" width="115.5" height="153"/></clipPath>
<g clip-path="url(#dl)">
<path d="M538 157 L538 157 L538.5 157 L539 157 L539.5 157 L540 157 L540.5 157 L541 157 L541.5 157 L542 157 L542.5 157 L543 157 L543.5 157 L544 157 L544.5 157 L545 157 L545.5 157 L546 157 L546.5 157 L547 156.99 L547.5 156.99 L548 156.98 L548.5 156.96 L549 156.93 L549.5 156.89 L550 156.83 L550.5 156.74 L551 156.61 L551.5 156.43 L552 156.19 L552.5 155.88 L553 155.5 L553.5 155.05 L554 154.53 L554.5 153.96 L555 153.36 L555.5 152.76 L556 152.2 L556.5 151.71 L557 151.32 L557.5 151.08 L558 151 L558.5 151.07 L559 151.29 L559.5 151.62 L560 152.06 L560.5 152.58 L561 153.13 L561.5 153.7 L562 154.25 L562.5 154.77 L563 155.23 L563.5 155.63 L564 155.97 L564.5 156.24 L565 156.45 L565.5 156.62 L566 156.74 L566.5 156.82 L567 156.89 L567.5 156.93 L568 156.95 L568.5 156.97 L569 156.98 L569.5 156.99 L570 156.99 L570.5 157 L571 157 L571.5 157 L572 157 L572.5 157 L573 157 L573.5 157 L574 157 L574.5 157 L575 157 L575.5 157 L576 157 L576.5 157 L577 157 L577.5 157 L578 157 L578.5 157 L579 157 L579.5 157 L580 157 L580.5 157 L581 157 L581.5 157 L582 157 L582.5 157 L583 157 L583.5 157 L584 157 L584.5 157 L585 157 L585.5 157 L586 157 L586.5 157 L587 157 L587.5 157 L588 157 L588.5 157 L589 157 L589.5 157 L590 157 L590.5 157 L591 157 L591.5 157 L592 157 L592.5 157 L593 157 L593.5 157 L594 157 L594.5 157 L595 157 L595.5 157 L596 157 L596.5 157 L597 157 L597.5 157 L598 157 L598.5 157 L599 157 L599.5 157 L600 157 L600.5 157 L601 157 L601.5 157 L602 157 L602.5 157 L603 157 L603.5 157 L604 157 L604.5 157 L605 157 L605.5 157 L606 157 L606.5 157 L607 157 L607.5 157 L608 157 L608.5 157 L609 157 L609.5 157 L610 157 L610.5 157 L611 157 L611.5 157 L612 157 L612.5 157 L613 157 L613.5 157 L614 157 L614.5 157 L615 157 L615.5 157 L616 157 L616.5 157 L617 157 L617.5 157 L618 157 L618.5 157 L619 157 L619.5 157 L620 157 L620.5 157 L621 157 L621.5 157 L622 157 L622.5 157 L623 157 L623.5 157 L624 157 L624.5 157 L625 157 L625.5 157 L626 157 L626.5 157 L627 157 L627.5 157 L628 157 L628.5 157 L629 157 L629.5 157 L630 157 L630.5 157 L631 157 L631.5 157 L632 157 L632.5 157 L633 157 L633.5 157 L634 157 L634.5 157 L635 157 L635.5 157 L636 157 L636.5 157 L637 157 L637.5 157 L638 157 L638.5 157 L639 157 L639.5 157 L640 157 L640.5 157 L641 157 L641.5 157 L642 157 L642.5 157 L643 157 L643.5 157 L644 157 L644.5 157 L645 157 L645.5 157 L646 157 L646.5 157 L647 157 L647.5 157 L648 157 L648.5 157 L649 157 L649.5 157 L650 157 L650.5 157 L651 157 L651.5 157 L652 157 L652.5 157 L653 157 L653.5 157 L654 157 L654.5 157 L654.5 157 Z" fill="#5bb5b5" fill-opacity="0.85"/>
<line x1="538" y1="157" x2="654.5" y2="157" stroke="#5bb5b5" stroke-width="0.5" opacity="0.55"/>
<path d="M538 176 L538 176 L538.5 176 L539 176 L539.5 176 L540 176 L540.5 176 L541 176 L541.5 176 L542 176 L542.5 176 L543 176 L543.5 176 L544 176 L544.5 176 L545 176 L545.5 176 L546 176 L546.5 176 L547 175.99 L547.5 175.99 L548 175.98 L548.5 175.95 L549 175.92 L549.5 175.85 L550 175.75 L550.5 175.58 L551 175.34 L551.5 174.99 L552 174.5 L552.5 173.88 L553 173.09 L553.5 172.16 L554 171.12 L554.5 170.02 L555 168.93 L555.5 167.96 L556 167.18 L556.5 166.67 L557 166.5 L557.5 166.62 L558 166.95 L558.5 167.49 L559 168.19 L559.5 169 L560 169.88 L560.5 170.78 L561 171.65 L561.5 172.47 L562 173.2 L562.5 173.83 L563 174.36 L563.5 174.79 L564 175.13 L564.5 175.39 L565 175.58 L565.5 175.72 L566 175.82 L566.5 175.88 L567 175.93 L567.5 175.96 L568 175.97 L568.5 175.99 L569 175.99 L569.5 176 L570 176 L570.5 176 L571 176 L571.5 176 L572 176 L572.5 176 L573 176 L573.5 176 L574 176 L574.5 176 L575 176 L575.5 176 L576 176 L576.5 176 L577 176 L577.5 176 L578 176 L578.5 176 L579 176 L579.5 176 L580 176 L580.5 176 L581 176 L581.5 176 L582 176 L582.5 176 L583 176 L583.5 176 L584 176 L584.5 176 L585 176 L585.5 176 L586 176 L586.5 176 L587 176 L587.5 176 L588 176 L588.5 176 L589 176 L589.5 176 L590 176 L590.5 176 L591 176 L591.5 176 L592 176 L592.5 176 L593 176 L593.5 176 L594 176 L594.5 176 L595 176 L595.5 176 L596 176 L596.5 176 L597 176 L597.5 176 L598 176 L598.5 176 L599 176 L599.5 176 L600 176 L600.5 176 L601 176 L601.5 176 L602 176 L602.5 176 L603 176 L603.5 176 L604 176 L604.5 176 L605 176 L605.5 176 L606 176 L606.5 176 L607 176 L607.5 176 L608 176 L608.5 176 L609 176 L609.5 176 L610 176 L610.5 176 L611 176 L611.5 176 L612 176 L612.5 176 L613 176 L613.5 176 L614 176 L614.5 176 L615 176 L615.5 176 L616 176 L616.5 176 L617 176 L617.5 176 L618 176 L618.5 176 L619 176 L619.5 176 L620 176 L620.5 176 L621 176 L621.5 176 L622 176 L622.5 176 L623 176 L623.5 176 L624 176 L624.5 176 L625 176 L625.5 176 L626 176 L626.5 176 L627 176 L627.5 176 L628 176 L628.5 176 L629 176 L629.5 176 L630 176 L630.5 176 L631 176 L631.5 176 L632 176 L632.5 176 L633 176 L633.5 176 L634 176 L634.5 176 L635 176 L635.5 176 L636 176 L636.5 176 L637 176 L637.5 176 L638 176 L638.5 176 L639 176 L639.5 176 L640 176 L640.5 176 L641 176 L641.5 176 L642 176 L642.5 176 L643 176 L643.5 176 L644 176 L644.5 176 L645 176 L645.5 176 L646 176 L646.5 176 L647 176 L647.5 176 L648 176 L648.5 176 L649 176 L649.5 176 L650 176 L650.5 176 L651 176 L651.5 176 L652 176 L652.5 176 L653 176 L653.5 176 L654 176 L654.5 176 L654.5 176 Z" fill="#a94bd6" fill-opacity="0.85"/>
<line x1="538" y1="176" x2="654.5" y2="176" stroke="#a94bd6" stroke-width="0.5" opacity="0.55"/>
<path d="M538 195.5 L538 195.5 L538.5 195.5 L539 195.5 L539.5 195.5 L540 195.5 L540.5 195.5 L541 195.5 L541.5 195.5 L542 195.5 L542.5 195.5 L543 195.5 L543.5 195.5 L544 195.5 L544.5 195.5 L545 195.5 L545.5 195.5 L546 195.5 L546.5 195.5 L547 195.5 L547.5 195.5 L548 195.5 L548.5 195.5 L549 195.5 L549.5 195.5 L550 195.5 L550.5 195.5 L551 195.49 L551.5 195.48 L552 195.47 L552.5 195.43 L553 195.37 L553.5 195.26 L554 195.07 L554.5 194.77 L555 194.31 L555.5 193.63 L556 192.68 L556.5 191.43 L557 189.87 L557.5 188.04 L558 186.03 L558.5 183.98 L559 182.07 L559.5 180.5 L560 179.44 L560.5 179.01 L561 179.02 L561.5 179.24 L562 179.65 L562.5 180.24 L563 180.97 L563.5 181.81 L564 182.73 L564.5 183.7 L565 184.67 L565.5 185.62 L566 186.53 L566.5 187.38 L567 188.16 L567.5 188.86 L568 189.48 L568.5 190.02 L569 190.5 L569.5 190.9 L570 191.26 L570.5 191.57 L571 191.82 L571.5 192.03 L572 192.22 L572.5 192.37 L573 192.51 L573.5 192.64 L574 192.76 L574.5 192.88 L575 192.99 L575.5 193.1 L576 193.22 L576.5 193.33 L577 193.45 L577.5 193.56 L578 193.68 L578.5 193.79 L579 193.91 L579.5 194.02 L580 194.13 L580.5 194.23 L581 194.33 L581.5 194.43 L582 194.53 L582.5 194.61 L583 194.7 L583.5 194.78 L584 194.85 L584.5 194.92 L585 194.98 L585.5 195.04 L586 195.09 L586.5 195.14 L587 195.19 L587.5 195.23 L588 195.26 L588.5 195.29 L589 195.32 L589.5 195.35 L590 195.37 L590.5 195.39 L591 195.4 L591.5 195.42 L592 195.43 L592.5 195.44 L593 195.45 L593.5 195.46 L594 195.47 L594.5 195.47 L595 195.48 L595.5 195.48 L596 195.48 L596.5 195.49 L597 195.49 L597.5 195.49 L598 195.49 L598.5 195.49 L599 195.5 L599.5 195.5 L600 195.5 L600.5 195.5 L601 195.5 L601.5 195.5 L602 195.5 L602.5 195.5 L603 195.5 L603.5 195.5 L604 195.5 L604.5 195.5 L605 195.5 L605.5 195.5 L606 195.5 L606.5 195.5 L607 195.5 L607.5 195.5 L608 195.5 L608.5 195.5 L609 195.5 L609.5 195.5 L610 195.5 L610.5 195.5 L611 195.5 L611.5 195.5 L612 195.5 L612.5 195.5 L613 195.5 L613.5 195.5 L614 195.5 L614.5 195.5 L615 195.5 L615.5 195.5 L616 195.5 L616.5 195.5 L617 195.5 L617.5 195.5 L618 195.5 L618.5 195.5 L619 195.5 L619.5 195.5 L620 195.5 L620.5 195.5 L621 195.5 L621.5 195.5 L622 195.5 L622.5 195.5 L623 195.5 L623.5 195.5 L624 195.5 L624.5 195.5 L625 195.5 L625.5 195.5 L626 195.5 L626.5 195.5 L627 195.5 L627.5 195.5 L628 195.5 L628.5 195.5 L629 195.5 L629.5 195.5 L630 195.5 L630.5 195.5 L631 195.5 L631.5 195.5 L632 195.5 L632.5 195.5 L633 195.5 L633.5 195.5 L634 195.5 L634.5 195.5 L635 195.5 L635.5 195.5 L636 195.5 L636.5 195.5 L637 195.5 L637.5 195.5 L638 195.5 L638.5 195.5 L639 195.5 L639.5 195.5 L640 195.5 L640.5 195.5 L641 195.5 L641.5 195.5 L642 195.5 L642.5 195.5 L643 195.5 L643.5 195.5 L644 195.5 L644.5 195.5 L645 195.5 L645.5 195.5 L646 195.5 L646.5 195.5 L647 195.5 L647.5 195.5 L648 195.5 L648.5 195.5 L649 195.5 L649.5 195.5 L650 195.5 L650.5 195.5 L651 195.5 L651.5 195.5 L652 195.5 L652.5 195.5 L653 195.5 L653.5 195.5 L654 195.5 L654.5 195.5 L654.5 195.5 Z" fill="#cfada8" fill-opacity="0.85"/>
<line x1="538" y1="195.5" x2="654.5" y2="195.5" stroke="#cfada8" stroke-width="0.5" opacity="0.55"/>
<path d="M538 214.5 L538 214.5 L538.5 214.5 L539 214.5 L539.5 214.5 L540 214.5 L540.5 214.5 L541 214.5 L541.5 214.5 L542 214.5 L542.5 214.5 L543 214.5 L543.5 214.5 L544 214.5 L544.5 214.5 L545 214.5 L545.5 214.5 L546 214.5 L546.5 214.5 L547 214.5 L547.5 214.5 L548 214.5 L548.5 214.5 L549 214.5 L549.5 214.5 L550 214.5 L550.5 214.5 L551 214.5 L551.5 214.5 L552 214.5 L552.5 214.5 L553 214.5 L553.5 214.5 L554 214.5 L554.5 214.5 L555 214.49 L555.5 214.49 L556 214.48 L556.5 214.45 L557 214.41 L557.5 214.34 L558 214.21 L558.5 214.01 L559 213.71 L559.5 213.26 L560 212.63 L560.5 211.8 L561 210.77 L561.5 209.56 L562 208.23 L562.5 206.87 L563 205.6 L563.5 204.54 L564 203.82 L564.5 203.51 L565 203.47 L565.5 203.55 L566 203.73 L566.5 204.01 L567 204.38 L567.5 204.8 L568 205.28 L568.5 205.79 L569 206.31 L569.5 206.84 L570 207.35 L570.5 207.84 L571 208.29 L571.5 208.72 L572 209.11 L572.5 209.47 L573 209.8 L573.5 210.09 L574 210.37 L574.5 210.62 L575 210.83 L575.5 211.01 L576 211.17 L576.5 211.31 L577 211.44 L577.5 211.56 L578 211.67 L578.5 211.77 L579 211.87 L579.5 211.97 L580 212.07 L580.5 212.17 L581 212.27 L581.5 212.37 L582 212.47 L582.5 212.58 L583 212.68 L583.5 212.78 L584 212.88 L584.5 212.98 L585 213.08 L585.5 213.17 L586 213.27 L586.5 213.36 L587 213.44 L587.5 213.53 L588 213.61 L588.5 213.68 L589 213.75 L589.5 213.82 L590 213.88 L590.5 213.94 L591 214 L591.5 214.05 L592 214.09 L592.5 214.14 L593 214.18 L593.5 214.21 L594 214.25 L594.5 214.28 L595 214.3 L595.5 214.33 L596 214.35 L596.5 214.37 L597 214.39 L597.5 214.4 L598 214.41 L598.5 214.43 L599 214.44 L599.5 214.45 L600 214.45 L600.5 214.46 L601 214.47 L601.5 214.47 L602 214.48 L602.5 214.48 L603 214.48 L603.5 214.49 L604 214.49 L604.5 214.49 L605 214.49 L605.5 214.49 L606 214.49 L606.5 214.5 L607 214.5 L607.5 214.5 L608 214.5 L608.5 214.5 L609 214.5 L609.5 214.5 L610 214.5 L610.5 214.5 L611 214.5 L611.5 214.5 L612 214.5 L612.5 214.5 L613 214.5 L613.5 214.5 L614 214.5 L614.5 214.5 L615 214.5 L615.5 214.5 L616 214.5 L616.5 214.5 L617 214.5 L617.5 214.5 L618 214.5 L618.5 214.5 L619 214.5 L619.5 214.5 L620 214.5 L620.5 214.5 L621 214.5 L621.5 214.5 L622 214.5 L622.5 214.5 L623 214.5 L623.5 214.5 L624 214.5 L624.5 214.5 L625 214.5 L625.5 214.5 L626 214.5 L626.5 214.5 L627 214.5 L627.5 214.5 L628 214.5 L628.5 214.5 L629 214.5 L629.5 214.5 L630 214.5 L630.5 214.5 L631 214.5 L631.5 214.5 L632 214.5 L632.5 214.5 L633 214.5 L633.5 214.5 L634 214.5 L634.5 214.5 L635 214.5 L635.5 214.5 L636 214.5 L636.5 214.5 L637 214.5 L637.5 214.5 L638 214.5 L638.5 214.5 L639 214.5 L639.5 214.5 L640 214.5 L640.5 214.5 L641 214.5 L641.5 214.5 L642 214.5 L642.5 214.5 L643 214.5 L643.5 214.5 L644 214.5 L644.5 214.5 L645 214.5 L645.5 214.5 L646 214.5 L646.5 214.5 L647 214.5 L647.5 214.5 L648 214.5 L648.5 214.5 L649 214.5 L649.5 214.5 L650 214.5 L650.5 214.5 L651 214.5 L651.5 214.5 L652 214.5 L652.5 214.5 L653 214.5 L653.5 214.5 L654 214.5 L654.5 214.5 L654.5 214.5 Z" fill="#5f8a45" fill-opacity="0.85"/>
<line x1="538" y1="214.5" x2="654.5" y2="214.5" stroke="#5f8a45" stroke-width="0.5" opacity="0.55"/>
<path d="M538 233.5 L538 233.5 L538.5 233.5 L539 233.5 L539.5 233.5 L540 233.5 L540.5 233.5 L541 233.5 L541.5 233.5 L542 233.5 L542.5 233.5 L543 233.5 L543.5 233.5 L544 233.5 L544.5 233.5 L545 233.5 L545.5 233.5 L546 233.5 L546.5 233.5 L547 233.5 L547.5 233.5 L548 233.5 L548.5 233.5 L549 233.5 L549.5 233.5 L550 233.5 L550.5 233.5 L551 233.5 L551.5 233.5 L552 233.5 L552.5 233.5 L553 233.5 L553.5 233.5 L554 233.5 L554.5 233.5 L555 233.5 L555.5 233.5 L556 233.5 L556.5 233.5 L557 233.5 L557.5 233.5 L558 233.5 L558.5 233.5 L559 233.49 L559.5 233.47 L560 233.43 L560.5 233.35 L561 233.2 L561.5 232.92 L562 232.45 L562.5 231.71 L563 230.63 L563.5 229.19 L564 227.4 L564.5 225.39 L565 223.35 L565.5 221.54 L566 220.21 L566.5 219.56 L567 219.47 L567.5 219.77 L568 220.4 L568.5 221.24 L569 222.2 L569.5 223.17 L570 224.08 L570.5 224.89 L571 225.58 L571.5 226.15 L572 226.62 L572.5 227 L573 227.27 L573.5 227.48 L574 227.62 L574.5 227.73 L575 227.79 L575.5 227.82 L576 227.81 L576.5 227.75 L577 227.65 L577.5 227.51 L578 227.33 L578.5 227.11 L579 226.88 L579.5 226.63 L580 226.4 L580.5 226.18 L581 226.01 L581.5 225.88 L582 225.83 L582.5 225.84 L583 225.92 L583.5 226.04 L584 226.22 L584.5 226.44 L585 226.71 L585.5 227.02 L586 227.36 L586.5 227.74 L587 228.13 L587.5 228.54 L588 228.95 L588.5 229.36 L589 229.77 L589.5 230.16 L590 230.54 L590.5 230.9 L591 231.23 L591.5 231.53 L592 231.81 L592.5 232.06 L593 232.29 L593.5 232.48 L594 232.66 L594.5 232.81 L595 232.93 L595.5 233.04 L596 233.13 L596.5 233.21 L597 233.27 L597.5 233.32 L598 233.36 L598.5 233.39 L599 233.42 L599.5 233.44 L600 233.45 L600.5 233.46 L601 233.47 L601.5 233.48 L602 233.49 L602.5 233.49 L603 233.49 L603.5 233.49 L604 233.5 L604.5 233.5 L605 233.5 L605.5 233.5 L606 233.5 L606.5 233.5 L607 233.5 L607.5 233.5 L608 233.5 L608.5 233.5 L609 233.5 L609.5 233.5 L610 233.5 L610.5 233.5 L611 233.5 L611.5 233.5 L612 233.5 L612.5 233.5 L613 233.5 L613.5 233.5 L614 233.5 L614.5 233.5 L615 233.5 L615.5 233.5 L616 233.5 L616.5 233.5 L617 233.5 L617.5 233.5 L618 233.5 L618.5 233.5 L619 233.5 L619.5 233.5 L620 233.5 L620.5 233.5 L621 233.5 L621.5 233.5 L622 233.5 L622.5 233.5 L623 233.5 L623.5 233.5 L624 233.5 L624.5 233.5 L625 233.5 L625.5 233.5 L626 233.5 L626.5 233.5 L627 233.5 L627.5 233.5 L628 233.5 L628.5 233.5 L629 233.5 L629.5 233.5 L630 233.5 L630.5 233.5 L631 233.5 L631.5 233.5 L632 233.5 L632.5 233.5 L633 233.5 L633.5 233.5 L634 233.5 L634.5 233.5 L635 233.5 L635.5 233.5 L636 233.5 L636.5 233.5 L637 233.5 L637.5 233.5 L638 233.5 L638.5 233.5 L639 233.5 L639.5 233.5 L640 233.5 L640.5 233.5 L641 233.5 L641.5 233.5 L642 233.5 L642.5 233.5 L643 233.5 L643.5 233.5 L644 233.5 L644.5 233.5 L645 233.5 L645.5 233.5 L646 233.5 L646.5 233.5 L647 233.5 L647.5 233.5 L648 233.5 L648.5 233.5 L649 233.5 L649.5 233.5 L650 233.5 L650.5 233.5 L651 233.5 L651.5 233.5 L652 233.5 L652.5 233.5 L653 233.5 L653.5 233.5 L654 233.5 L654.5 233.5 L654.5 233.5 Z" fill="#7be044" fill-opacity="0.85"/>
<line x1="538" y1="233.5" x2="654.5" y2="233.5" stroke="#7be044" stroke-width="0.5" opacity="0.55"/>
<path d="M538 252.5 L538 252.5 L538.5 252.5 L539 252.5 L539.5 252.5 L540 252.5 L540.5 252.5 L541 252.5 L541.5 252.5 L542 252.5 L542.5 252.5 L543 252.5 L543.5 252.5 L544 252.5 L544.5 252.5 L545 252.5 L545.5 252.5 L546 252.5 L546.5 252.5 L547 252.5 L547.5 252.5 L548 252.5 L548.5 252.5 L549 252.5 L549.5 252.5 L550 252.5 L550.5 252.5 L551 252.5 L551.5 252.5 L552 252.5 L552.5 252.5 L553 252.5 L553.5 252.5 L554 252.5 L554.5 252.5 L555 252.5 L555.5 252.49 L556 252.49 L556.5 252.47 L557 252.45 L557.5 252.41 L558 252.34 L558.5 252.24 L559 252.09 L559.5 251.88 L560 251.59 L560.5 251.22 L561 250.77 L561.5 250.26 L562 249.7 L562.5 249.13 L563 248.61 L563.5 248.17 L564 247.85 L564.5 247.69 L565 247.68 L565.5 247.82 L566 248.07 L566.5 248.38 L567 248.7 L567.5 248.99 L568 249.19 L568.5 249.28 L569 249.23 L569.5 249.06 L570 248.76 L570.5 248.35 L571 247.84 L571.5 247.26 L572 246.61 L572.5 245.92 L573 245.21 L573.5 244.49 L574 243.78 L574.5 243.11 L575 242.48 L575.5 241.91 L576 241.42 L576.5 241.03 L577 240.74 L577.5 240.56 L578 240.5 L578.5 240.54 L579 240.67 L579.5 240.87 L580 241.15 L580.5 241.5 L581 241.91 L581.5 242.38 L582 242.89 L582.5 243.44 L583 244.02 L583.5 244.62 L584 245.22 L584.5 245.83 L585 246.42 L585.5 247.01 L586 247.57 L586.5 248.1 L587 248.6 L587.5 249.07 L588 249.51 L588.5 249.9 L589 250.26 L589.5 250.59 L590 250.88 L590.5 251.13 L591 251.35 L591.5 251.55 L592 251.71 L592.5 251.85 L593 251.97 L593.5 252.07 L594 252.16 L594.5 252.23 L595 252.28 L595.5 252.33 L596 252.37 L596.5 252.4 L597 252.42 L597.5 252.44 L598 252.45 L598.5 252.46 L599 252.47 L599.5 252.48 L600 252.49 L600.5 252.49 L601 252.49 L601.5 252.49 L602 252.5 L602.5 252.5 L603 252.5 L603.5 252.5 L604 252.5 L604.5 252.5 L605 252.5 L605.5 252.5 L606 252.5 L606.5 252.5 L607 252.5 L607.5 252.5 L608 252.5 L608.5 252.5 L609 252.5 L609.5 252.5 L610 252.5 L610.5 252.5 L611 252.5 L611.5 252.5 L612 252.5 L612.5 252.5 L613 252.5 L613.5 252.5 L614 252.5 L614.5 252.5 L615 252.5 L615.5 252.5 L616 252.5 L616.5 252.5 L617 252.5 L617.5 252.5 L618 252.5 L618.5 252.5 L619 252.5 L619.5 252.5 L620 252.5 L620.5 252.5 L621 252.5 L621.5 252.5 L622 252.5 L622.5 252.5 L623 252.5 L623.5 252.5 L624 252.5 L624.5 252.5 L625 252.5 L625.5 252.5 L626 252.5 L626.5 252.5 L627 252.5 L627.5 252.5 L628 252.5 L628.5 252.5 L629 252.5 L629.5 252.5 L630 252.5 L630.5 252.5 L631 252.5 L631.5 252.5 L632 252.5 L632.5 252.5 L633 252.5 L633.5 252.5 L634 252.5 L634.5 252.5 L635 252.5 L635.5 252.5 L636 252.5 L636.5 252.5 L637 252.5 L637.5 252.5 L638 252.5 L638.5 252.5 L639 252.5 L639.5 252.5 L640 252.5 L640.5 252.5 L641 252.5 L641.5 252.5 L642 252.5 L642.5 252.5 L643 252.5 L643.5 252.5 L644 252.5 L644.5 252.5 L645 252.5 L645.5 252.5 L646 252.5 L646.5 252.5 L647 252.5 L647.5 252.5 L648 252.5 L648.5 252.5 L649 252.5 L649.5 252.5 L650 252.5 L650.5 252.5 L651 252.5 L651.5 252.5 L652 252.5 L652.5 252.5 L653 252.5 L653.5 252.5 L654 252.5 L654.5 252.5 L654.5 252.5 Z" fill="#f3ae66" fill-opacity="0.85"/>
<line x1="538" y1="252.5" x2="654.5" y2="252.5" stroke="#f3ae66" stroke-width="0.5" opacity="0.55"/>
<path d="M538 272 L538 272 L538.5 272 L539 272 L539.5 272 L540 272 L540.5 272 L541 272 L541.5 272 L542 272 L542.5 272 L543 272 L543.5 272 L544 272 L544.5 272 L545 272 L545.5 272 L546 272 L546.5 272 L547 272 L547.5 272 L548 272 L548.5 272 L549 272 L549.5 272 L550 272 L550.5 272 L551 272 L551.5 272 L552 272 L552.5 272 L553 272 L553.5 272 L554 272 L554.5 272 L555 272 L555.5 272 L556 272 L556.5 272 L557 272 L557.5 272 L558 272 L558.5 272 L559 272 L559.5 272 L560 272 L560.5 272 L561 272 L561.5 272 L562 272 L562.5 272 L563 272 L563.5 272 L564 272 L564.5 272 L565 272 L565.5 272 L566 272 L566.5 272 L567 272 L567.5 272 L568 272 L568.5 272 L569 272 L569.5 272 L570 271.99 L570.5 271.99 L571 271.98 L571.5 271.97 L572 271.96 L572.5 271.94 L573 271.91 L573.5 271.87 L574 271.82 L574.5 271.74 L575 271.65 L575.5 271.52 L576 271.36 L576.5 271.16 L577 270.92 L577.5 270.62 L578 270.27 L578.5 269.86 L579 269.4 L579.5 268.89 L580 268.34 L580.5 267.75 L581 267.15 L581.5 266.54 L582 265.96 L582.5 265.42 L583 264.94 L583.5 264.54 L584 264.25 L584.5 264.06 L585 264 L585.5 264.02 L586 264.08 L586.5 264.18 L587 264.32 L587.5 264.49 L588 264.7 L588.5 264.94 L589 265.21 L589.5 265.49 L590 265.8 L590.5 266.12 L591 266.46 L591.5 266.8 L592 267.15 L592.5 267.49 L593 267.84 L593.5 268.17 L594 268.5 L594.5 268.81 L595 269.12 L595.5 269.4 L596 269.67 L596.5 269.93 L597 270.16 L597.5 270.38 L598 270.57 L598.5 270.75 L599 270.92 L599.5 271.06 L600 271.19 L600.5 271.31 L601 271.41 L601.5 271.5 L602 271.58 L602.5 271.65 L603 271.71 L603.5 271.76 L604 271.8 L604.5 271.83 L605 271.86 L605.5 271.89 L606 271.91 L606.5 271.93 L607 271.94 L607.5 271.95 L608 271.96 L608.5 271.97 L609 271.98 L609.5 271.98 L610 271.99 L610.5 271.99 L611 271.99 L611.5 271.99 L612 272 L612.5 272 L613 272 L613.5 272 L614 272 L614.5 272 L615 272 L615.5 272 L616 272 L616.5 272 L617 272 L617.5 272 L618 272 L618.5 272 L619 272 L619.5 272 L620 272 L620.5 272 L621 272 L621.5 272 L622 272 L622.5 272 L623 272 L623.5 272 L624 272 L624.5 272 L625 272 L625.5 272 L626 272 L626.5 272 L627 272 L627.5 272 L628 272 L628.5 272 L629 272 L629.5 272 L630 272 L630.5 272 L631 272 L631.5 272 L632 272 L632.5 272 L633 272 L633.5 272 L634 272 L634.5 272 L635 272 L635.5 272 L636 272 L636.5 272 L637 272 L637.5 272 L638 272 L638.5 272 L639 272 L639.5 272 L640 272 L640.5 272 L641 272 L641.5 272 L642 272 L642.5 272 L643 272 L643.5 272 L644 272 L644.5 272 L645 272 L645.5 272 L646 272 L646.5 272 L647 272 L647.5 272 L648 272 L648.5 272 L649 272 L649.5 272 L650 272 L650.5 272 L651 272 L651.5 272 L652 272 L652.5 272 L653 272 L653.5 272 L654 272 L654.5 272 L654.5 272 Z" fill="#45c1ee" fill-opacity="0.85"/>
<line x1="538" y1="272" x2="654.5" y2="272" stroke="#45c1ee" stroke-width="0.5" opacity="0.55"/>
<path d="M538 291 L538 291 L538.5 291 L539 291 L539.5 291 L540 291 L540.5 291 L541 291 L541.5 291 L542 291 L542.5 291 L543 291 L543.5 291 L544 291 L544.5 291 L545 291 L545.5 291 L546 291 L546.5 291 L547 291 L547.5 291 L548 291 L548.5 291 L549 291 L549.5 291 L550 291 L550.5 291 L551 291 L551.5 291 L552 291 L552.5 291 L553 291 L553.5 291 L554 291 L554.5 291 L555 291 L555.5 291 L556 291 L556.5 291 L557 291 L557.5 291 L558 291 L558.5 291 L559 291 L559.5 291 L560 291 L560.5 291 L561 291 L561.5 291 L562 291 L562.5 291 L563 291 L563.5 291 L564 291 L564.5 291 L565 291 L565.5 291 L566 291 L566.5 291 L567 291 L567.5 291 L568 291 L568.5 291 L569 291 L569.5 291 L570 291 L570.5 291 L571 291 L571.5 291 L572 291 L572.5 291 L573 291 L573.5 291 L574 291 L574.5 291 L575 291 L575.5 291 L576 291 L576.5 290.99 L577 290.99 L577.5 290.98 L578 290.96 L578.5 290.92 L579 290.85 L579.5 290.74 L580 290.58 L580.5 290.33 L581 289.98 L581.5 289.52 L582 288.91 L582.5 288.19 L583 287.35 L583.5 286.45 L584 285.55 L584.5 284.74 L585 284.08 L585.5 283.65 L586 283.5 L586.5 283.51 L587 283.55 L587.5 283.6 L588 283.68 L588.5 283.78 L589 283.91 L589.5 284.05 L590 284.21 L590.5 284.38 L591 284.57 L591.5 284.78 L592 284.99 L592.5 285.22 L593 285.46 L593.5 285.7 L594 285.95 L594.5 286.2 L595 286.45 L595.5 286.7 L596 286.95 L596.5 287.2 L597 287.45 L597.5 287.68 L598 287.92 L598.5 288.14 L599 288.36 L599.5 288.57 L600 288.76 L600.5 288.95 L601 289.13 L601.5 289.3 L602 289.46 L602.5 289.6 L603 289.74 L603.5 289.87 L604 289.98 L604.5 290.09 L605 290.19 L605.5 290.28 L606 290.37 L606.5 290.44 L607 290.51 L607.5 290.57 L608 290.62 L608.5 290.67 L609 290.71 L609.5 290.75 L610 290.79 L610.5 290.82 L611 290.84 L611.5 290.86 L612 290.88 L612.5 290.9 L613 290.92 L613.5 290.93 L614 290.94 L614.5 290.95 L615 290.96 L615.5 290.97 L616 290.97 L616.5 290.98 L617 290.98 L617.5 290.98 L618 290.99 L618.5 290.99 L619 290.99 L619.5 290.99 L620 290.99 L620.5 291 L621 291 L621.5 291 L622 291 L622.5 291 L623 291 L623.5 291 L624 291 L624.5 291 L625 291 L625.5 291 L626 291 L626.5 291 L627 291 L627.5 291 L628 291 L628.5 291 L629 291 L629.5 291 L630 291 L630.5 291 L631 291 L631.5 291 L632 291 L632.5 291 L633 291 L633.5 291 L634 291 L634.5 291 L635 291 L635.5 291 L636 291 L636.5 291 L637 291 L637.5 291 L638 291 L638.5 291 L639 291 L639.5 291 L640 291 L640.5 291 L641 291 L641.5 291 L642 291 L642.5 291 L643 291 L643.5 291 L644 291 L644.5 291 L645 291 L645.5 291 L646 291 L646.5 291 L647 291 L647.5 291 L648 291 L648.5 291 L649 291 L649.5 291 L650 291 L650.5 291 L651 291 L651.5 291 L652 291 L652.5 291 L653 291 L653.5 291 L654 291 L654.5 291 L654.5 291 Z" fill="#ee6060" fill-opacity="0.85"/>
<line x1="538" y1="291" x2="654.5" y2="291" stroke="#ee6060" stroke-width="0.5" opacity="0.55"/>
</g><g clip-path="url(#dr)">
<path d="M659 157 L659 157 L659.5 157 L660 157 L660.5 157 L661 157 L661.5 157 L662 157 L662.5 157 L663 157 L663.5 157 L664 157 L664.5 157 L665 157 L665.5 157 L666 157 L666.5 157 L667 157 L667.5 156.99 L668 156.99 L668.5 156.98 L669 156.96 L669.5 156.93 L670 156.89 L670.5 156.83 L671 156.74 L671.5 156.61 L672 156.43 L672.5 156.19 L673 155.88 L673.5 155.5 L674 155.05 L674.5 154.53 L675 153.96 L675.5 153.36 L676 152.76 L676.5 152.2 L677 151.71 L677.5 151.32 L678 151.08 L678.5 151 L679 151.07 L679.5 151.29 L680 151.62 L680.5 152.06 L681 152.58 L681.5 153.13 L682 153.7 L682.5 154.25 L683 154.77 L683.5 155.23 L684 155.63 L684.5 155.97 L685 156.24 L685.5 156.45 L686 156.62 L686.5 156.74 L687 156.82 L687.5 156.89 L688 156.93 L688.5 156.95 L689 156.97 L689.5 156.98 L690 156.99 L690.5 156.99 L691 157 L691.5 157 L692 157 L692.5 157 L693 157 L693.5 157 L694 157 L694.5 157 L695 157 L695.5 157 L696 157 L696.5 157 L697 157 L697.5 157 L698 157 L698.5 157 L699 157 L699.5 157 L700 157 L700.5 157 L701 157 L701.5 157 L702 157 L702.5 157 L703 157 L703.5 157 L704 157 L704.5 157 L705 157 L705.5 157 L706 157 L706.5 157 L707 157 L707.5 157 L708 157 L708.5 157 L709 157 L709.5 157 L710 157 L710.5 157 L711 157 L711.5 157 L712 157 L712.5 157 L713 157 L713.5 157 L714 157 L714.5 157 L715 157 L715.5 157 L716 157 L716.5 157 L717 157 L717.5 157 L718 157 L718.5 157 L719 157 L719.5 157 L720 157 L720.5 157 L721 157 L721.5 157 L722 157 L722.5 157 L723 157 L723.5 157 L724 157 L724.5 157 L725 157 L725.5 157 L726 157 L726.5 157 L727 157 L727.5 157 L728 157 L728.5 157 L729 157 L729.5 157 L730 157 L730.5 157 L731 157 L731.5 157 L732 157 L732.5 157 L733 157 L733.5 157 L734 157 L734.5 157 L735 157 L735.5 157 L736 157 L736.5 157 L737 157 L737.5 157 L738 157 L738.5 157 L739 157 L739.5 157 L740 157 L740.5 157 L741 157 L741.5 157 L742 157 L742.5 157 L743 157 L743.5 157 L744 157 L744.5 157 L745 157 L745.5 157 L746 157 L746.5 157 L747 157 L747.5 157 L748 157 L748.5 157 L749 157 L749.5 157 L750 157 L750.5 157 L751 157 L751.5 157 L752 157 L752.5 157 L753 157 L753.5 157 L754 157 L754.5 157 L755 157 L755.5 157 L756 157 L756.5 157 L757 157 L757.5 157 L758 157 L758.5 157 L759 157 L759.5 157 L760 157 L760.5 157 L761 157 L761.5 157 L762 157 L762.5 157 L763 157 L763.5 157 L764 157 L764.5 157 L765 157 L765.5 157 L766 157 L766.5 157 L767 157 L767.5 157 L768 157 L768.5 157 L769 157 L769.5 157 L770 157 L770.5 157 L771 157 L771.5 157 L772 157 L772.5 157 L773 157 L773.5 157 L774 157 L774.5 157 L774.5 157 Z" fill="#5bb5b5" fill-opacity="0.85"/>
<line x1="659" y1="157" x2="774.5" y2="157" stroke="#5bb5b5" stroke-width="0.5" opacity="0.55"/>
<path d="M659 176 L659 176 L659.5 176 L660 176 L660.5 176 L661 176 L661.5 176 L662 176 L662.5 176 L663 176 L663.5 176 L664 176 L664.5 176 L665 176 L665.5 176 L666 176 L666.5 176 L667 176 L667.5 176 L668 176 L668.5 176 L669 176 L669.5 176 L670 176 L670.5 176 L671 176 L671.5 176 L672 176 L672.5 176 L673 176 L673.5 176 L674 176 L674.5 176 L675 176 L675.5 176 L676 176 L676.5 176 L677 175.99 L677.5 175.98 L678 175.96 L678.5 175.93 L679 175.88 L679.5 175.79 L680 175.66 L680.5 175.46 L681 175.18 L681.5 174.8 L682 174.31 L682.5 173.72 L683 173.03 L683.5 172.3 L684 171.56 L684.5 170.88 L685 170.31 L685.5 169.92 L686 169.74 L686.5 169.79 L687 170.04 L687.5 170.46 L688 170.98 L688.5 171.53 L689 172.06 L689.5 172.51 L690 172.85 L690.5 173.04 L691 173.1 L691.5 173.03 L692 172.85 L692.5 172.57 L693 172.23 L693.5 171.84 L694 171.42 L694.5 170.98 L695 170.54 L695.5 170.13 L696 169.73 L696.5 169.38 L697 169.08 L697.5 168.83 L698 168.65 L698.5 168.54 L699 168.5 L699.5 168.53 L700 168.6 L700.5 168.73 L701 168.91 L701.5 169.12 L702 169.38 L702.5 169.67 L703 169.99 L703.5 170.34 L704 170.7 L704.5 171.07 L705 171.45 L705.5 171.83 L706 172.2 L706.5 172.57 L707 172.92 L707.5 173.25 L708 173.57 L708.5 173.86 L709 174.13 L709.5 174.38 L710 174.6 L710.5 174.81 L711 174.98 L711.5 175.14 L712 175.28 L712.5 175.4 L713 175.51 L713.5 175.6 L714 175.67 L714.5 175.73 L715 175.79 L715.5 175.83 L716 175.86 L716.5 175.89 L717 175.92 L717.5 175.94 L718 175.95 L718.5 175.96 L719 175.97 L719.5 175.98 L720 175.98 L720.5 175.99 L721 175.99 L721.5 175.99 L722 176 L722.5 176 L723 176 L723.5 176 L724 176 L724.5 176 L725 176 L725.5 176 L726 176 L726.5 176 L727 176 L727.5 176 L728 176 L728.5 176 L729 176 L729.5 176 L730 176 L730.5 176 L731 176 L731.5 176 L732 176 L732.5 176 L733 176 L733.5 176 L734 176 L734.5 176 L735 176 L735.5 176 L736 176 L736.5 176 L737 176 L737.5 176 L738 176 L738.5 176 L739 176 L739.5 176 L740 176 L740.5 176 L741 176 L741.5 176 L742 176 L742.5 176 L743 176 L743.5 176 L744 176 L744.5 176 L745 176 L745.5 176 L746 176 L746.5 176 L747 176 L747.5 176 L748 176 L748.5 176 L749 176 L749.5 176 L750 176 L750.5 176 L751 176 L751.5 176 L752 176 L752.5 176 L753 176 L753.5 176 L754 176 L754.5 176 L755 176 L755.5 176 L756 176 L756.5 176 L757 176 L757.5 176 L758 176 L758.5 176 L759 176 L759.5 176 L760 176 L760.5 176 L761 176 L761.5 176 L762 176 L762.5 176 L763 176 L763.5 176 L764 176 L764.5 176 L765 176 L765.5 176 L766 176 L766.5 176 L767 176 L767.5 176 L768 176 L768.5 176 L769 176 L769.5 176 L770 176 L770.5 176 L771 176 L771.5 176 L772 176 L772.5 176 L773 176 L773.5 176 L774 176 L774.5 176 L774.5 176 Z" fill="#a94bd6" fill-opacity="0.85"/>
<line x1="659" y1="176" x2="774.5" y2="176" stroke="#a94bd6" stroke-width="0.5" opacity="0.55"/>
<path d="M659 195.5 L659 195.5 L659.5 195.5 L660 195.5 L660.5 195.5 L661 195.5 L661.5 195.5 L662 195.5 L662.5 195.5 L663 195.5 L663.5 195.5 L664 195.5 L664.5 195.5 L665 195.5 L665.5 195.5 L666 195.5 L666.5 195.5 L667 195.5 L667.5 195.5 L668 195.5 L668.5 195.5 L669 195.5 L669.5 195.5 L670 195.5 L670.5 195.5 L671 195.5 L671.5 195.5 L672 195.5 L672.5 195.5 L673 195.5 L673.5 195.5 L674 195.5 L674.5 195.5 L675 195.5 L675.5 195.5 L676 195.49 L676.5 195.49 L677 195.47 L677.5 195.45 L678 195.4 L678.5 195.33 L679 195.21 L679.5 195.02 L680 194.73 L680.5 194.32 L681 193.76 L681.5 193.03 L682 192.12 L682.5 191.04 L683 189.83 L683.5 188.54 L684 187.28 L684.5 186.13 L685 185.21 L685.5 184.6 L686 184.37 L686.5 184.48 L687 184.87 L687.5 185.51 L688 186.33 L688.5 187.27 L689 188.25 L689.5 189.21 L690 190.1 L690.5 190.86 L691 191.47 L691.5 191.92 L692 192.2 L692.5 192.34 L693 192.34 L693.5 192.22 L694 192.02 L694.5 191.75 L695 191.44 L695.5 191.09 L696 190.74 L696.5 190.39 L697 190.06 L697.5 189.76 L698 189.5 L698.5 189.28 L699 189.13 L699.5 189.03 L700 189 L700.5 189.02 L701 189.09 L701.5 189.2 L702 189.35 L702.5 189.54 L703 189.76 L703.5 190.02 L704 190.3 L704.5 190.59 L705 190.91 L705.5 191.23 L706 191.56 L706.5 191.89 L707 192.21 L707.5 192.52 L708 192.83 L708.5 193.12 L709 193.39 L709.5 193.64 L710 193.88 L710.5 194.09 L711 194.29 L711.5 194.46 L712 194.62 L712.5 194.76 L713 194.88 L713.5 194.98 L714 195.07 L714.5 195.15 L715 195.21 L715.5 195.27 L716 195.31 L716.5 195.35 L717 195.38 L717.5 195.41 L718 195.43 L718.5 195.44 L719 195.46 L719.5 195.47 L720 195.47 L720.5 195.48 L721 195.49 L721.5 195.49 L722 195.49 L722.5 195.49 L723 195.5 L723.5 195.5 L724 195.5 L724.5 195.5 L725 195.5 L725.5 195.5 L726 195.5 L726.5 195.5 L727 195.5 L727.5 195.5 L728 195.5 L728.5 195.5 L729 195.5 L729.5 195.5 L730 195.5 L730.5 195.5 L731 195.5 L731.5 195.5 L732 195.5 L732.5 195.5 L733 195.5 L733.5 195.5 L734 195.5 L734.5 195.5 L735 195.5 L735.5 195.5 L736 195.5 L736.5 195.5 L737 195.5 L737.5 195.5 L738 195.5 L738.5 195.5 L739 195.5 L739.5 195.5 L740 195.5 L740.5 195.5 L741 195.5 L741.5 195.5 L742 195.5 L742.5 195.5 L743 195.5 L743.5 195.5 L744 195.5 L744.5 195.5 L745 195.5 L745.5 195.5 L746 195.5 L746.5 195.5 L747 195.5 L747.5 195.5 L748 195.5 L748.5 195.5 L749 195.5 L749.5 195.5 L750 195.5 L750.5 195.5 L751 195.5 L751.5 195.5 L752 195.5 L752.5 195.5 L753 195.5 L753.5 195.5 L754 195.5 L754.5 195.5 L755 195.5 L755.5 195.5 L756 195.5 L756.5 195.5 L757 195.5 L757.5 195.5 L758 195.5 L758.5 195.5 L759 195.5 L759.5 195.5 L760 195.5 L760.5 195.5 L761 195.5 L761.5 195.5 L762 195.5 L762.5 195.5 L763 195.5 L763.5 195.5 L764 195.5 L764.5 195.5 L765 195.5 L765.5 195.5 L766 195.5 L766.5 195.5 L767 195.5 L767.5 195.5 L768 195.5 L768.5 195.5 L769 195.5 L769.5 195.5 L770 195.5 L770.5 195.5 L771 195.5 L771.5 195.5 L772 195.5 L772.5 195.5 L773 195.5 L773.5 195.5 L774 195.5 L774.5 195.5 L774.5 195.5 Z" fill="#cfada8" fill-opacity="0.85"/>
<line x1="659" y1="195.5" x2="774.5" y2="195.5" stroke="#cfada8" stroke-width="0.5" opacity="0.55"/>
<path d="M659 214.5 L659 214.5 L659.5 214.5 L660 214.5 L660.5 214.5 L661 214.5 L661.5 214.5 L662 214.5 L662.5 214.5 L663 214.5 L663.5 214.5 L664 214.5 L664.5 214.5 L665 214.5 L665.5 214.5 L666 214.5 L666.5 214.5 L667 214.5 L667.5 214.5 L668 214.5 L668.5 214.5 L669 214.5 L669.5 214.5 L670 214.5 L670.5 214.5 L671 214.5 L671.5 214.5 L672 214.5 L672.5 214.5 L673 214.5 L673.5 214.5 L674 214.5 L674.5 214.5 L675 214.5 L675.5 214.5 L676 214.5 L676.5 214.5 L677 214.5 L677.5 214.5 L678 214.5 L678.5 214.5 L679 214.5 L679.5 214.5 L680 214.5 L680.5 214.5 L681 214.5 L681.5 214.5 L682 214.5 L682.5 214.49 L683 214.49 L683.5 214.48 L684 214.47 L684.5 214.46 L685 214.43 L685.5 214.39 L686 214.34 L686.5 214.26 L687 214.15 L687.5 214 L688 213.8 L688.5 213.54 L689 213.21 L689.5 212.81 L690 212.31 L690.5 211.74 L691 211.08 L691.5 210.34 L692 209.56 L692.5 208.74 L693 207.92 L693.5 207.14 L694 206.43 L694.5 205.83 L695 205.38 L695.5 205.1 L696 205 L696.5 205.03 L697 205.11 L697.5 205.25 L698 205.44 L698.5 205.68 L699 205.96 L699.5 206.28 L700 206.64 L700.5 207.02 L701 207.43 L701.5 207.86 L702 208.3 L702.5 208.74 L703 209.18 L703.5 209.62 L704 210.05 L704.5 210.46 L705 210.86 L705.5 211.24 L706 211.59 L706.5 211.92 L707 212.23 L707.5 212.51 L708 212.77 L708.5 213 L709 213.21 L709.5 213.4 L710 213.57 L710.5 213.71 L711 213.84 L711.5 213.95 L712 214.04 L712.5 214.12 L713 214.19 L713.5 214.25 L714 214.29 L714.5 214.33 L715 214.37 L715.5 214.39 L716 214.42 L716.5 214.43 L717 214.45 L717.5 214.46 L718 214.47 L718.5 214.48 L719 214.48 L719.5 214.49 L720 214.49 L720.5 214.49 L721 214.49 L721.5 214.5 L722 214.5 L722.5 214.5 L723 214.5 L723.5 214.5 L724 214.5 L724.5 214.5 L725 214.5 L725.5 214.5 L726 214.5 L726.5 214.5 L727 214.5 L727.5 214.5 L728 214.5 L728.5 214.5 L729 214.5 L729.5 214.5 L730 214.5 L730.5 214.5 L731 214.5 L731.5 214.5 L732 214.5 L732.5 214.5 L733 214.5 L733.5 214.5 L734 214.5 L734.5 214.5 L735 214.5 L735.5 214.5 L736 214.5 L736.5 214.5 L737 214.5 L737.5 214.5 L738 214.5 L738.5 214.5 L739 214.5 L739.5 214.5 L740 214.5 L740.5 214.5 L741 214.5 L741.5 214.5 L742 214.5 L742.5 214.5 L743 214.5 L743.5 214.5 L744 214.5 L744.5 214.5 L745 214.5 L745.5 214.5 L746 214.5 L746.5 214.5 L747 214.5 L747.5 214.5 L748 214.5 L748.5 214.5 L749 214.5 L749.5 214.5 L750 214.5 L750.5 214.5 L751 214.5 L751.5 214.5 L752 214.5 L752.5 214.5 L753 214.5 L753.5 214.5 L754 214.5 L754.5 214.5 L755 214.5 L755.5 214.5 L756 214.5 L756.5 214.5 L757 214.5 L757.5 214.5 L758 214.5 L758.5 214.5 L759 214.5 L759.5 214.5 L760 214.5 L760.5 214.5 L761 214.5 L761.5 214.5 L762 214.5 L762.5 214.5 L763 214.5 L763.5 214.5 L764 214.5 L764.5 214.5 L765 214.5 L765.5 214.5 L766 214.5 L766.5 214.5 L767 214.5 L767.5 214.5 L768 214.5 L768.5 214.5 L769 214.5 L769.5 214.5 L770 214.5 L770.5 214.5 L771 214.5 L771.5 214.5 L772 214.5 L772.5 214.5 L773 214.5 L773.5 214.5 L774 214.5 L774.5 214.5 L774.5 214.5 Z" fill="#5f8a45" fill-opacity="0.85"/>
<line x1="659" y1="214.5" x2="774.5" y2="214.5" stroke="#5f8a45" stroke-width="0.5" opacity="0.55"/>
<path d="M659 233.5 L659 233.5 L659.5 233.5 L660 233.5 L660.5 233.5 L661 233.5 L661.5 233.5 L662 233.5 L662.5 233.5 L663 233.5 L663.5 233.5 L664 233.5 L664.5 233.5 L665 233.5 L665.5 233.5 L666 233.5 L666.5 233.5 L667 233.5 L667.5 233.5 L668 233.5 L668.5 233.5 L669 233.5 L669.5 233.5 L670 233.5 L670.5 233.5 L671 233.5 L671.5 233.5 L672 233.5 L672.5 233.5 L673 233.5 L673.5 233.5 L674 233.5 L674.5 233.5 L675 233.5 L675.5 233.49 L676 233.49 L676.5 233.49 L677 233.48 L677.5 233.48 L678 233.47 L678.5 233.46 L679 233.45 L679.5 233.43 L680 233.42 L680.5 233.39 L681 233.37 L681.5 233.33 L682 233.3 L682.5 233.25 L683 233.2 L683.5 233.15 L684 233.08 L684.5 233.01 L685 232.94 L685.5 232.86 L686 232.77 L686.5 232.68 L687 232.59 L687.5 232.49 L688 232.4 L688.5 232.31 L689 232.22 L689.5 232.13 L690 232.05 L690.5 231.96 L691 231.87 L691.5 231.77 L692 231.65 L692.5 231.51 L693 231.33 L693.5 231.11 L694 230.83 L694.5 230.48 L695 230.06 L695.5 229.56 L696 228.99 L696.5 228.34 L697 227.65 L697.5 226.92 L698 226.19 L698.5 225.49 L699 224.87 L699.5 224.35 L700 223.96 L700.5 223.74 L701 223.7 L701.5 223.79 L702 223.95 L702.5 224.18 L703 224.47 L703.5 224.83 L704 225.23 L704.5 225.68 L705 226.16 L705.5 226.66 L706 227.19 L706.5 227.72 L707 228.24 L707.5 228.76 L708 229.26 L708.5 229.74 L709 230.2 L709.5 230.62 L710 231.01 L710.5 231.36 L711 231.68 L711.5 231.96 L712 232.21 L712.5 232.43 L713 232.62 L713.5 232.78 L714 232.92 L714.5 233.03 L715 233.13 L715.5 233.21 L716 233.27 L716.5 233.32 L717 233.36 L717.5 233.39 L718 233.42 L718.5 233.44 L719 233.46 L719.5 233.47 L720 233.48 L720.5 233.48 L721 233.49 L721.5 233.49 L722 233.49 L722.5 233.5 L723 233.5 L723.5 233.5 L724 233.5 L724.5 233.5 L725 233.5 L725.5 233.5 L726 233.5 L726.5 233.5 L727 233.5 L727.5 233.5 L728 233.5 L728.5 233.5 L729 233.5 L729.5 233.5 L730 233.5 L730.5 233.5 L731 233.5 L731.5 233.5 L732 233.5 L732.5 233.5 L733 233.5 L733.5 233.5 L734 233.5 L734.5 233.5 L735 233.5 L735.5 233.5 L736 233.5 L736.5 233.5 L737 233.5 L737.5 233.5 L738 233.5 L738.5 233.5 L739 233.5 L739.5 233.5 L740 233.5 L740.5 233.5 L741 233.5 L741.5 233.5 L742 233.5 L742.5 233.5 L743 233.5 L743.5 233.5 L744 233.5 L744.5 233.5 L745 233.5 L745.5 233.5 L746 233.5 L746.5 233.5 L747 233.5 L747.5 233.5 L748 233.5 L748.5 233.5 L749 233.5 L749.5 233.5 L750 233.5 L750.5 233.5 L751 233.5 L751.5 233.5 L752 233.5 L752.5 233.5 L753 233.5 L753.5 233.5 L754 233.5 L754.5 233.5 L755 233.5 L755.5 233.5 L756 233.5 L756.5 233.5 L757 233.5 L757.5 233.5 L758 233.5 L758.5 233.5 L759 233.5 L759.5 233.5 L760 233.5 L760.5 233.5 L761 233.5 L761.5 233.5 L762 233.5 L762.5 233.5 L763 233.5 L763.5 233.5 L764 233.5 L764.5 233.5 L765 233.5 L765.5 233.5 L766 233.5 L766.5 233.5 L767 233.5 L767.5 233.5 L768 233.5 L768.5 233.5 L769 233.5 L769.5 233.5 L770 233.5 L770.5 233.5 L771 233.5 L771.5 233.5 L772 233.5 L772.5 233.5 L773 233.5 L773.5 233.5 L774 233.5 L774.5 233.5 L774.5 233.5 Z" fill="#7be044" fill-opacity="0.85"/>
<line x1="659" y1="233.5" x2="774.5" y2="233.5" stroke="#7be044" stroke-width="0.5" opacity="0.55"/>
<path d="M659 252.5 L659 252.5 L659.5 252.5 L660 252.5 L660.5 252.5 L661 252.5 L661.5 252.5 L662 252.5 L662.5 252.5 L663 252.5 L663.5 252.5 L664 252.5 L664.5 252.5 L665 252.5 L665.5 252.5 L666 252.5 L666.5 252.5 L667 252.5 L667.5 252.5 L668 252.5 L668.5 252.5 L669 252.5 L669.5 252.5 L670 252.5 L670.5 252.5 L671 252.5 L671.5 252.5 L672 252.5 L672.5 252.5 L673 252.5 L673.5 252.5 L674 252.5 L674.5 252.5 L675 252.5 L675.5 252.5 L676 252.5 L676.5 252.5 L677 252.5 L677.5 252.5 L678 252.5 L678.5 252.5 L679 252.5 L679.5 252.5 L680 252.5 L680.5 252.5 L681 252.5 L681.5 252.5 L682 252.5 L682.5 252.5 L683 252.5 L683.5 252.5 L684 252.5 L684.5 252.5 L685 252.5 L685.5 252.5 L686 252.5 L686.5 252.5 L687 252.5 L687.5 252.5 L688 252.5 L688.5 252.5 L689 252.5 L689.5 252.5 L690 252.5 L690.5 252.5 L691 252.5 L691.5 252.5 L692 252.5 L692.5 252.49 L693 252.49 L693.5 252.47 L694 252.46 L694.5 252.43 L695 252.38 L695.5 252.31 L696 252.21 L696.5 252.07 L697 251.88 L697.5 251.62 L698 251.29 L698.5 250.88 L699 250.39 L699.5 249.83 L700 249.21 L700.5 248.56 L701 247.91 L701.5 247.3 L702 246.76 L702.5 246.35 L703 246.09 L703.5 246 L704 246.01 L704.5 246.05 L705 246.11 L705.5 246.2 L706 246.31 L706.5 246.44 L707 246.59 L707.5 246.76 L708 246.95 L708.5 247.15 L709 247.37 L709.5 247.59 L710 247.83 L710.5 248.07 L711 248.31 L711.5 248.56 L712 248.8 L712.5 249.05 L713 249.29 L713.5 249.52 L714 249.75 L714.5 249.97 L715 250.19 L715.5 250.39 L716 250.58 L716.5 250.76 L717 250.93 L717.5 251.09 L718 251.24 L718.5 251.38 L719 251.51 L719.5 251.62 L720 251.73 L720.5 251.82 L721 251.91 L721.5 251.98 L722 252.05 L722.5 252.11 L723 252.17 L723.5 252.21 L724 252.26 L724.5 252.29 L725 252.32 L725.5 252.35 L726 252.38 L726.5 252.4 L727 252.41 L727.5 252.43 L728 252.44 L728.5 252.45 L729 252.46 L729.5 252.47 L730 252.47 L730.5 252.48 L731 252.48 L731.5 252.49 L732 252.49 L732.5 252.49 L733 252.49 L733.5 252.49 L734 252.5 L734.5 252.5 L735 252.5 L735.5 252.5 L736 252.5 L736.5 252.5 L737 252.5 L737.5 252.5 L738 252.5 L738.5 252.5 L739 252.5 L739.5 252.5 L740 252.5 L740.5 252.5 L741 252.5 L741.5 252.5 L742 252.5 L742.5 252.5 L743 252.5 L743.5 252.5 L744 252.5 L744.5 252.5 L745 252.5 L745.5 252.5 L746 252.5 L746.5 252.5 L747 252.5 L747.5 252.5 L748 252.5 L748.5 252.5 L749 252.5 L749.5 252.5 L750 252.5 L750.5 252.5 L751 252.5 L751.5 252.5 L752 252.5 L752.5 252.5 L753 252.5 L753.5 252.5 L754 252.5 L754.5 252.5 L755 252.5 L755.5 252.5 L756 252.5 L756.5 252.5 L757 252.5 L757.5 252.5 L758 252.5 L758.5 252.5 L759 252.5 L759.5 252.5 L760 252.5 L760.5 252.5 L761 252.5 L761.5 252.5 L762 252.5 L762.5 252.5 L763 252.5 L763.5 252.5 L764 252.5 L764.5 252.5 L765 252.5 L765.5 252.5 L766 252.5 L766.5 252.5 L767 252.5 L767.5 252.5 L768 252.5 L768.5 252.5 L769 252.5 L769.5 252.5 L770 252.5 L770.5 252.5 L771 252.5 L771.5 252.5 L772 252.5 L772.5 252.5 L773 252.5 L773.5 252.5 L774 252.5 L774.5 252.5 L774.5 252.5 Z" fill="#f3ae66" fill-opacity="0.85"/>
<line x1="659" y1="252.5" x2="774.5" y2="252.5" stroke="#f3ae66" stroke-width="0.5" opacity="0.55"/>
<path d="M659 272 L659 272 L659.5 272 L660 272 L660.5 272 L661 272 L661.5 272 L662 272 L662.5 272 L663 272 L663.5 272 L664 272 L664.5 272 L665 272 L665.5 272 L666 272 L666.5 272 L667 272 L667.5 272 L668 272 L668.5 272 L669 272 L669.5 272 L670 272 L670.5 272 L671 272 L671.5 272 L672 272 L672.5 272 L673 272 L673.5 272 L674 272 L674.5 272 L675 272 L675.5 272 L676 272 L676.5 272 L677 272 L677.5 272 L678 272 L678.5 272 L679 272 L679.5 272 L680 272 L680.5 272 L681 272 L681.5 272 L682 272 L682.5 272 L683 272 L683.5 272 L684 272 L684.5 272 L685 272 L685.5 272 L686 272 L686.5 272 L687 272 L687.5 272 L688 272 L688.5 272 L689 272 L689.5 272 L690 272 L690.5 272 L691 271.99 L691.5 271.99 L692 271.98 L692.5 271.97 L693 271.95 L693.5 271.92 L694 271.87 L694.5 271.81 L695 271.73 L695.5 271.61 L696 271.45 L696.5 271.24 L697 270.98 L697.5 270.66 L698 270.27 L698.5 269.82 L699 269.3 L699.5 268.72 L700 268.1 L700.5 267.45 L701 266.81 L701.5 266.19 L702 265.63 L702.5 265.16 L703 264.8 L703.5 264.58 L704 264.5 L704.5 264.51 L705 264.56 L705.5 264.63 L706 264.73 L706.5 264.86 L707 265.01 L707.5 265.18 L708 265.38 L708.5 265.6 L709 265.83 L709.5 266.08 L710 266.34 L710.5 266.61 L711 266.89 L711.5 267.17 L712 267.45 L712.5 267.73 L713 268.02 L713.5 268.29 L714 268.57 L714.5 268.83 L715 269.09 L715.5 269.33 L716 269.57 L716.5 269.79 L717 270 L717.5 270.19 L718 270.38 L718.5 270.55 L719 270.71 L719.5 270.85 L720 270.98 L720.5 271.11 L721 271.22 L721.5 271.31 L722 271.4 L722.5 271.48 L723 271.55 L723.5 271.62 L724 271.67 L724.5 271.72 L725 271.76 L725.5 271.8 L726 271.83 L726.5 271.86 L727 271.88 L727.5 271.9 L728 271.92 L728.5 271.93 L729 271.94 L729.5 271.95 L730 271.96 L730.5 271.97 L731 271.97 L731.5 271.98 L732 271.98 L732.5 271.99 L733 271.99 L733.5 271.99 L734 271.99 L734.5 271.99 L735 272 L735.5 272 L736 272 L736.5 272 L737 272 L737.5 272 L738 272 L738.5 272 L739 272 L739.5 272 L740 272 L740.5 272 L741 272 L741.5 272 L742 272 L742.5 272 L743 272 L743.5 272 L744 272 L744.5 272 L745 272 L745.5 272 L746 272 L746.5 272 L747 272 L747.5 272 L748 272 L748.5 272 L749 272 L749.5 272 L750 272 L750.5 272 L751 272 L751.5 272 L752 272 L752.5 272 L753 272 L753.5 272 L754 272 L754.5 272 L755 272 L755.5 272 L756 272 L756.5 272 L757 272 L757.5 272 L758 272 L758.5 272 L759 272 L759.5 272 L760 272 L760.5 272 L761 272 L761.5 272 L762 272 L762.5 272 L763 272 L763.5 272 L764 272 L764.5 272 L765 272 L765.5 272 L766 272 L766.5 272 L767 272 L767.5 272 L768 272 L768.5 272 L769 272 L769.5 272 L770 272 L770.5 272 L771 272 L771.5 272 L772 272 L772.5 272 L773 272 L773.5 272 L774 272 L774.5 272 L774.5 272 Z" fill="#45c1ee" fill-opacity="0.85"/>
<line x1="659" y1="272" x2="774.5" y2="272" stroke="#45c1ee" stroke-width="0.5" opacity="0.55"/>
<path d="M659 291 L659 291 L659.5 291 L660 291 L660.5 291 L661 291 L661.5 291 L662 291 L662.5 291 L663 291 L663.5 291 L664 291 L664.5 291 L665 291 L665.5 291 L666 291 L666.5 291 L667 291 L667.5 291 L668 291 L668.5 291 L669 291 L669.5 291 L670 291 L670.5 291 L671 291 L671.5 291 L672 291 L672.5 291 L673 291 L673.5 291 L674 291 L674.5 291 L675 291 L675.5 291 L676 291 L676.5 291 L677 291 L677.5 291 L678 291 L678.5 291 L679 291 L679.5 291 L680 291 L680.5 291 L681 291 L681.5 291 L682 291 L682.5 291 L683 291 L683.5 291 L684 291 L684.5 291 L685 291 L685.5 291 L686 291 L686.5 291 L687 291 L687.5 291 L688 291 L688.5 291 L689 291 L689.5 291 L690 291 L690.5 291 L691 291 L691.5 291 L692 291 L692.5 291 L693 291 L693.5 291 L694 291 L694.5 291 L695 291 L695.5 291 L696 291 L696.5 291 L697 291 L697.5 291 L698 291 L698.5 291 L699 291 L699.5 291 L700 291 L700.5 291 L701 290.99 L701.5 290.99 L702 290.98 L702.5 290.96 L703 290.92 L703.5 290.85 L704 290.74 L704.5 290.58 L705 290.33 L705.5 289.98 L706 289.52 L706.5 288.91 L707 288.19 L707.5 287.35 L708 286.45 L708.5 285.55 L709 284.74 L709.5 284.08 L710 283.65 L710.5 283.5 L711 283.51 L711.5 283.54 L712 283.58 L712.5 283.65 L713 283.73 L713.5 283.83 L714 283.95 L714.5 284.08 L715 284.22 L715.5 284.38 L716 284.55 L716.5 284.74 L717 284.93 L717.5 285.13 L718 285.34 L718.5 285.55 L719 285.77 L719.5 286 L720 286.22 L720.5 286.45 L721 286.68 L721.5 286.9 L722 287.13 L722.5 287.35 L723 287.57 L723.5 287.78 L724 287.98 L724.5 288.19 L725 288.38 L725.5 288.57 L726 288.74 L726.5 288.91 L727 289.08 L727.5 289.23 L728 289.38 L728.5 289.52 L729 289.65 L729.5 289.77 L730 289.88 L730.5 289.98 L731 290.08 L731.5 290.17 L732 290.26 L732.5 290.33 L733 290.4 L733.5 290.47 L734 290.53 L734.5 290.58 L735 290.63 L735.5 290.67 L736 290.71 L736.5 290.74 L737 290.78 L737.5 290.8 L738 290.83 L738.5 290.85 L739 290.87 L739.5 290.89 L740 290.9 L740.5 290.92 L741 290.93 L741.5 290.94 L742 290.95 L742.5 290.96 L743 290.96 L743.5 290.97 L744 290.97 L744.5 290.98 L745 290.98 L745.5 290.98 L746 290.99 L746.5 290.99 L747 290.99 L747.5 290.99 L748 290.99 L748.5 290.99 L749 291 L749.5 291 L750 291 L750.5 291 L751 291 L751.5 291 L752 291 L752.5 291 L753 291 L753.5 291 L754 291 L754.5 291 L755 291 L755.5 291 L756 291 L756.5 291 L757 291 L757.5 291 L758 291 L758.5 291 L759 291 L759.5 291 L760 291 L760.5 291 L761 291 L761.5 291 L762 291 L762.5 291 L763 291 L763.5 291 L764 291 L764.5 291 L765 291 L765.5 291 L766 291 L766.5 291 L767 291 L767.5 291 L768 291 L768.5 291 L769 291 L769.5 291 L770 291 L770.5 291 L771 291 L771.5 291 L772 291 L772.5 291 L773 291 L773.5 291 L774 291 L774.5 291 L774.5 291 Z" fill="#ee6060" fill-opacity="0.85"/>
<line x1="659" y1="291" x2="774.5" y2="291" stroke="#ee6060" stroke-width="0.5" opacity="0.55"/>
</g>
<rect x="538" y="138.5" width="116.5" height="153" fill="none" stroke="#111" stroke-width="0.9"/>
<rect x="659" y="138.5" width="115.5" height="153" fill="none" stroke="#111" stroke-width="0.9"/>
<line x1="560" y1="291.5" x2="560" y2="293.5" stroke="#333" stroke-width="0.5"/>
<line x1="582" y1="291.5" x2="582" y2="293.5" stroke="#333" stroke-width="0.5"/>
<line x1="603.5" y1="291.5" x2="603.5" y2="293.5" stroke="#333" stroke-width="0.5"/>
<line x1="625.5" y1="291.5" x2="625.5" y2="293.5" stroke="#333" stroke-width="0.5"/>
<line x1="647" y1="291.5" x2="647" y2="293.5" stroke="#333" stroke-width="0.5"/>
<line x1="680.5" y1="291.5" x2="680.5" y2="293.5" stroke="#333" stroke-width="0.5"/>
<line x1="702.5" y1="291.5" x2="702.5" y2="293.5" stroke="#333" stroke-width="0.5"/>
<line x1="724" y1="291.5" x2="724" y2="293.5" stroke="#333" stroke-width="0.5"/>
<line x1="746" y1="291.5" x2="746" y2="293.5" stroke="#333" stroke-width="0.5"/>
<line x1="767.5" y1="291.5" x2="767.5" y2="293.5" stroke="#333" stroke-width="0.5"/>
<text x="607.5" y="169" font-size="9.6" fill="#222" stroke="#222" stroke-width=".18">8.98%</text>
<text x="661.5" y="169" font-size="9.6" fill="#222" stroke="#222" stroke-width=".18">45.9%</text>
<text x="607.5" y="186" font-size="9.6" fill="#222" stroke="#222" stroke-width=".18">14.5%</text>
<text x="661.5" y="186" font-size="9.6" fill="#222" stroke="#222" stroke-width=".18">63.0%</text>
<text x="607.5" y="206.5" font-size="9.6" fill="#222" stroke="#222" stroke-width=".18">35.1%</text>
<text x="661.5" y="206.5" font-size="9.6" fill="#222" stroke="#222" stroke-width=".18">72.6%</text>
<text x="607.5" y="225" font-size="9.6" fill="#222" stroke="#222" stroke-width=".18">56.1%</text>
<text x="661.5" y="225" font-size="9.6" fill="#222" stroke="#222" stroke-width=".18">81.9%</text>
<text x="607.5" y="244.5" font-size="9.6" fill="#222" stroke="#222" stroke-width=".18">71.7%</text>
<text x="661.5" y="244.5" font-size="9.6" fill="#222" stroke="#222" stroke-width=".18">89.1%</text>
<text x="607.5" y="264" font-size="9.6" fill="#222" stroke="#222" stroke-width=".18">90.6%</text>
<text x="661.5" y="264" font-size="9.6" fill="#222" stroke="#222" stroke-width=".18">96.5%</text>
<text x="607.5" y="283.5" font-size="9.6" fill="#222" stroke="#222" stroke-width=".18">99. 8%</text>
<text x="661.5" y="283.5" font-size="9.6" fill="#222" stroke="#222" stroke-width=".18">100.0%</text>
<text x="737" y="153.5" font-size="9.6" fill="#111" stroke="#111" stroke-width=".18" letter-spacing="-0.15">Control</text>
<text x="737" y="173" font-size="9.6" fill="#111" stroke="#111" stroke-width=".18" letter-spacing="-0.15">Day 14</text>
<text x="737" y="192.5" font-size="9.6" fill="#111" stroke="#111" stroke-width=".18" letter-spacing="-0.15">Day 7</text>
<text x="737" y="211.5" font-size="9.6" fill="#111" stroke="#111" stroke-width=".18" letter-spacing="-0.15">Day 5</text>
<text x="737" y="230.5" font-size="9.6" fill="#111" stroke="#111" stroke-width=".18" letter-spacing="-0.15">Day 3</text>
<text x="737" y="250.5" font-size="9.6" fill="#111" stroke="#111" stroke-width=".18" letter-spacing="-0.15">Day 2</text>
<text x="737" y="270" font-size="9.6" fill="#111" stroke="#111" stroke-width=".18" letter-spacing="-0.15">Day 1</text>
<text x="737" y="287" font-size="9.6" fill="#111" stroke="#111" stroke-width=".18" letter-spacing="-0.15">Day 0</text>
<line x1="529.5" y1="298.5" x2="529.5" y2="204.5" stroke="#111" stroke-width="0.8"/>
<path d="M529.5 196.5 L525.9 205.5 L533.1 205.5Z" fill="#111"/>
<line x1="529.5" y1="298.5" x2="707" y2="298.5" stroke="#111" stroke-width="0.8"/>
<path d="M715 298.5 L706 294.9 L706 302.1Z" fill="#111"/>
<text x="721.5" y="304.5" font-size="9.6" fill="#111" stroke="#111" stroke-width=".18" letter-spacing="-0.2">PD-L1-FITC</text>
<text font-size="9.2" text-anchor="middle" fill="#111" stroke="#111" stroke-width=".18" transform="translate(533 174) rotate(-90)">Count</text>
<text x="7.6" y="333.2" font-size="17.5" font-weight="bold" fill="#231f20" stroke="#231f20" stroke-width=".18">e</text>
<defs>
<radialGradient id="tc" cx="50%" cy="50%" r="50%"><stop offset="0" stop-color="#d9e5f5"/><stop offset="0.62" stop-color="#dfe9f7"/><stop offset="0.88" stop-color="#e6eefa"/><stop offset="1" stop-color="#f4f8fd"/></radialGradient>
<radialGradient id="tn" cx="50%" cy="48%" r="52%"><stop offset="0" stop-color="#b2d4ef"/><stop offset="0.5" stop-color="#92c2ea"/><stop offset="0.85" stop-color="#70aade"/><stop offset="1" stop-color="#8abbe6"/></radialGradient>
<radialGradient id="mc" cx="50%" cy="50%" r="50%"><stop offset="0" stop-color="#f0aaa0"/><stop offset="0.7" stop-color="#efa99f"/><stop offset="0.92" stop-color="#ea978d"/><stop offset="1" stop-color="#ee9f96"/></radialGradient>
<radialGradient id="mn" cx="48%" cy="42%" r="58%"><stop offset="0" stop-color="#fbe6e0"/><stop offset="0.3" stop-color="#ee9a90"/><stop offset="0.8" stop-color="#dc6c64"/><stop offset="1" stop-color="#d9665e"/></radialGradient>
</defs>
<line x1="108.75" y1="359.1" x2="121" y2="362.4" stroke="#f2a858" stroke-width="2.7"/>
<circle cx="108.75" cy="359.1" r="3.1" fill="#8c2a2e"/>
<line x1="127.5" y1="416.5" x2="136" y2="426" stroke="#f2a858" stroke-width="2.7"/>
<circle cx="127.5" cy="416.5" r="3.1" fill="#8c2a2e"/>
<line x1="106.25" y1="460.8" x2="120.5" y2="460.8" stroke="#f2a858" stroke-width="2.7"/>
<circle cx="106.25" cy="460.8" r="3.1" fill="#8c2a2e"/>
<line x1="132.5" y1="502" x2="139.5" y2="489.6" stroke="#f2a858" stroke-width="2.7"/>
<circle cx="132.5" cy="502" r="3.1" fill="#8c2a2e"/>
<circle cx="72" cy="378" r="29" fill="url(#tc)"/>
<circle cx="69.5" cy="380.5" r="16.5" fill="url(#tn)"/>
<circle cx="62.5" cy="456.5" r="29.5" fill="url(#tc)"/>
<circle cx="61.5" cy="457" r="16.5" fill="url(#tn)"/>
<circle cx="156.5" cy="378" r="38.5" fill="url(#mc)"/>
<circle cx="154.5" cy="379.5" r="22" fill="url(#mn)"/>
<circle cx="157" cy="457.5" r="38.2" fill="url(#mc)"/>
<circle cx="155.5" cy="456.5" r="22" fill="url(#mn)"/>
<g transform="rotate(-25 97.3 364.5)">
<path d="M96.2 363.2 L102.7 363.2 Q105.7 362.9 108.2 360.1" fill="none" stroke="#4a8fd8" stroke-width="1.6" stroke-linecap="round" stroke-linejoin="round"/>
<path d="M96.2 366.6 L102.7 366.6 Q105.7 366.9 108.2 369.1" fill="none" stroke="#86bcec" stroke-width="1.6" stroke-linecap="round" stroke-linejoin="round"/>
</g>
<path d="M91.3 459.1 L97.8 459.1 Q100.8 458.8 103.3 456" fill="none" stroke="#4a8fd8" stroke-width="1.6" stroke-linecap="round" stroke-linejoin="round"/>
<path d="M91.3 462.5 L97.8 462.5 Q100.8 462.8 103.3 465" fill="none" stroke="#86bcec" stroke-width="1.6" stroke-linecap="round" stroke-linejoin="round"/>
<text x="54" y="337.5" font-size="9" fill="#111" stroke="#111" stroke-width=".18" letter-spacing="-0.2">T cell</text>
<text x="143.5" y="335.8" font-size="9" fill="#111" stroke="#111" stroke-width=".18" letter-spacing="-0.2">Min 6</text>
<text x="81" y="343.5" font-size="9.2" fill="#111" stroke="#111" stroke-width=".18">PD-1</text>
<text x="92.7" y="405.3" font-size="9.2" fill="#111" stroke="#111" stroke-width=".18">PD-L1</text>
<text x="93" y="440.7" font-size="9.2" fill="#111" stroke="#111" stroke-width=".18">PD-L1</text>
<text x="85.9" y="484.5" font-size="9.2" fill="#111" stroke="#111" stroke-width=".18">PD-1</text>
<line x1="100.5" y1="346.5" x2="100.5" y2="360.5" stroke="#222" stroke-width="0.9"/>
<line x1="102.5" y1="396.5" x2="114.5" y2="365" stroke="#222" stroke-width="0.9"/>
<line x1="116.7" y1="430.4" x2="131.6" y2="423.2" stroke="#222" stroke-width="0.9"/>
<line x1="113.7" y1="444" x2="113.7" y2="458.5" stroke="#222" stroke-width="0.9"/>
<line x1="93.8" y1="463.5" x2="93.8" y2="475.3" stroke="#222" stroke-width="0.9"/>
<rect x="222" y="321" width="84" height="83.5" fill="#02020f"/>
<rect x="308" y="321" width="84" height="83.5" fill="#010401"/>
<rect x="394.5" y="321" width="84" height="83.5" fill="#0a0001"/>
<rect x="481.5" y="321" width="84" height="83.5" fill="#020208"/>
<rect x="222" y="409" width="84" height="83.5" fill="#02020f"/>
<rect x="308" y="409" width="84" height="83.5" fill="#041204"/>
<rect x="394.5" y="409" width="84" height="83.5" fill="#0a0001"/>
<rect x="481.5" y="409" width="84" height="83.5" fill="#040d05"/>
<text x="202.2" y="333" font-size="17.5" font-weight="bold" fill="#231f20" stroke="#231f20" stroke-width=".18">f</text>
<text font-size="9.5" text-anchor="middle" fill="#111" stroke="#111" stroke-width=".18" transform="translate(217.5 364.3) rotate(-90)">Control</text>
<text font-size="9.5" text-anchor="middle" fill="#111" stroke="#111" stroke-width=".18" transform="translate(217.5 452.2) rotate(-90)">DBCO/DSPE-PD-L1</text>
<text x="226.5" y="335" font-size="9.5" font-weight="bold" fill="#1212e8" stroke="#1212e8" stroke-width=".18">DAPI</text>
<text x="311.5" y="335" font-size="9.5" font-weight="bold" fill="#1fc41f" stroke="#1fc41f" stroke-width=".18">PD-L1</text>
<text x="399" y="335" font-size="9.5" font-weight="bold" fill="#e01010" stroke="#e01010" stroke-width=".18">PD-1</text>
<text x="483.5" y="333.5" font-size="9.5" font-weight="bold" fill="#f2f200" stroke="#f2f200" stroke-width=".18">Merge</text>
<ellipse cx="246.75" cy="359.5" rx="8" ry="8.5" fill="#1818f2" filter="url(#bl1)"/>
<ellipse cx="276.5" cy="354.5" rx="9" ry="6.5" fill="#1818f2" filter="url(#bl1)"/>
<ellipse cx="261" cy="382" rx="3.6" ry="3.2" fill="#1818f2" filter="url(#bl1)"/>
<circle cx="283" cy="395.5" r="2.2" fill="#0c0c70" filter="url(#bl1)"/>
<circle cx="249.75" cy="345" r="0.9" fill="#1818f2" opacity="0.7" filter="url(#bl0)"/>
<circle cx="254" cy="347" r="0.9" fill="#1818f2" opacity="0.7" filter="url(#bl0)"/>
<circle cx="258.5" cy="348.75" r="0.9" fill="#1818f2" opacity="0.7" filter="url(#bl0)"/>
<circle cx="261.5" cy="344" r="0.9" fill="#1818f2" opacity="0.7" filter="url(#bl0)"/>
<circle cx="243.5" cy="348" r="0.9" fill="#1818f2" opacity="0.7" filter="url(#bl0)"/>
<circle cx="262" cy="331" r="0.9" fill="#1818f2" opacity="0.7" filter="url(#bl0)"/>
<ellipse cx="256.75" cy="450" rx="7.5" ry="10" fill="#1a1ae0" filter="url(#bl1)"/>
<circle cx="266.5" cy="444.25" r="2" fill="#1818f2" filter="url(#bl0)"/>
<circle cx="246" cy="423" r="1.8" fill="#1818f2" opacity="0.8" filter="url(#bl1)"/>
<circle cx="247.5" cy="427" r="1.5" fill="#1818f2" opacity="0.8" filter="url(#bl1)"/>
<line x1="243.5" y1="465.5" x2="256" y2="463.75" stroke="#1212a0" stroke-width="1.2" opacity="0.6" filter="url(#bl1)"/>
<clipPath id="fp2"><rect x="308" y="321" width="84" height="83.5"/></clipPath><clipPath id="fp4"><rect x="481.5" y="321" width="84" height="83.5"/></clipPath>
<g clip-path="url(#fp2)">
<path d="M312 366.2 C312.53 364.75 314.98 362.72 317 361 C319.02 359.28 321.77 357.23 324.1 355.9 C326.43 354.57 328.7 353.58 331 353 C333.3 352.42 335.9 352.98 337.9 352.4 C339.9 351.82 341.28 350.35 343 349.5 C344.72 348.65 346.18 348.25 348.2 347.3 C350.22 346.35 353.22 344.05 355.1 343.8 C356.98 343.55 358.07 345.52 359.5 345.8 C360.93 346.08 362.2 346.03 363.7 345.5 C365.2 344.97 366.78 343.17 368.5 342.6 C370.22 342.03 371.35 342.75 374 342.1 C376.65 341.45 381.7 339.57 384.4 338.7 C387.1 337.83 388.77 337.02 390.2 336.9 C391.63 336.78 392.82 336.85 393 338 C393.18 339.15 392.3 342.05 391.3 343.8 C390.3 345.55 388.43 347.07 387 348.5 C385.57 349.93 384.87 350.72 382.7 352.4 C380.53 354.08 376.28 357.2 374 358.6 C371.72 360 370.72 360.4 369 360.8 C367.28 361.2 365.28 361.43 363.7 361 C362.12 360.57 360.93 358.6 359.5 358.2 C358.07 357.8 356.43 358.05 355.1 358.6 C353.77 359.15 352.65 361.1 351.5 361.5 C350.35 361.9 349.37 360.67 348.2 361 C347.03 361.33 345.65 362.63 344.5 363.5 C343.35 364.37 342.72 365.45 341.3 366.2 C339.88 366.95 337.72 367.53 336 368 C334.28 368.47 333.85 368.62 331 369 C328.15 369.38 321.77 370.18 318.9 370.3 C316.03 370.42 314.95 370.38 313.8 369.7 C312.65 369.02 311.47 367.65 312 366.2Z" fill="#051605" stroke="#2fd020" stroke-width="1" stroke-opacity="0.85" filter="url(#bl0)"/>
<circle cx="333.9" cy="356.71" r="0.52" fill="#55f040" opacity="0.85"/>
<circle cx="352.2" cy="358.01" r="0.38" fill="#55f040" opacity="0.85"/>
<circle cx="322.66" cy="361.4" r="0.47" fill="#55f040" opacity="0.85"/>
<circle cx="333.72" cy="363.93" r="0.56" fill="#55f040" opacity="0.85"/>
<circle cx="363.82" cy="355.62" r="0.64" fill="#55f040" opacity="0.85"/>
<circle cx="329.53" cy="358.16" r="0.74" fill="#55f040" opacity="0.85"/>
<circle cx="348.16" cy="359.86" r="0.65" fill="#55f040" opacity="0.85"/>
<circle cx="325.2" cy="360.13" r="0.62" fill="#55f040" opacity="0.85"/>
<circle cx="337.06" cy="348.5" r="0.74" fill="#55f040" opacity="0.85"/>
<circle cx="345.64" cy="359.5" r="0.75" fill="#55f040" opacity="0.85"/>
<circle cx="357.71" cy="362.74" r="0.53" fill="#55f040" opacity="0.85"/>
<circle cx="362.05" cy="355.11" r="0.77" fill="#55f040" opacity="0.85"/>
<circle cx="365.94" cy="349.56" r="0.41" fill="#55f040" opacity="0.85"/>
<circle cx="332.85" cy="363.45" r="0.55" fill="#55f040" opacity="0.85"/>
<circle cx="353.33" cy="352.82" r="0.58" fill="#55f040" opacity="0.85"/>
<circle cx="341.29" cy="353.61" r="0.61" fill="#55f040" opacity="0.85"/>
<circle cx="351.21" cy="362.47" r="0.66" fill="#55f040" opacity="0.85"/>
<circle cx="368.45" cy="361.7" r="0.8" fill="#55f040" opacity="0.85"/>
<circle cx="355.56" cy="350.61" r="0.74" fill="#55f040" opacity="0.85"/>
<circle cx="370.23" cy="362.48" r="0.61" fill="#55f040" opacity="0.85"/>
<circle cx="357.69" cy="351.38" r="0.72" fill="#55f040" opacity="0.85"/>
<circle cx="350.68" cy="352.56" r="0.38" fill="#55f040" opacity="0.85"/>
<circle cx="364.7" cy="363.84" r="0.39" fill="#55f040" opacity="0.85"/>
<circle cx="362.03" cy="354.57" r="0.42" fill="#55f040" opacity="0.85"/>
<circle cx="336.69" cy="360.3" r="0.74" fill="#55f040" opacity="0.85"/>
<circle cx="324.21" cy="357.83" r="0.37" fill="#55f040" opacity="0.85"/>
</g>
<path d="M329 438 C330.04 435.82 328.42 434.12 330.7 434 C332.98 433.88 336.62 435.68 340.4 437.4 C344.18 439.12 347.36 439.5 349.6 442.6 C351.84 445.7 351.48 449 351.6 452.9 C351.72 456.8 351.32 459.08 350.2 462.1 C349.08 465.12 347.96 465.94 346 468 C344.04 470.06 343.8 471.06 340.4 472.4 C337 473.74 333.82 474.7 329 474.7 C324.18 474.7 319.64 474.92 316.3 472.4 C312.96 469.88 312.64 466 312.3 462.1 C311.96 458.2 312.88 455.42 314.6 452.9 C316.32 450.38 318.72 451.1 320.9 449.5 C323.08 447.9 323.88 447.2 325.5 444.9 C327.12 442.6 327.96 440.18 329 438Z" fill="#0d3a09" stroke="#2fc020" stroke-width="1" stroke-opacity="0.55" filter="url(#bl0)"/>
<path d="M330.7 434.6 C333.58 433.2 336.74 436.32 340.4 438 C344.06 439.68 346.96 440 349 443 C351.04 446 350.9 449.3 350.6 453 C350.3 456.7 350.42 458.6 347.5 461.5 C344.58 464.4 340.7 467.5 336 467.5 C331.3 467.5 326.9 464.9 324 461.5 C321.1 458.1 321.1 453.8 321.5 450.5 C321.9 447.2 324.16 448.18 326 445 C327.84 441.82 327.82 436 330.7 434.6Z" fill="#2a8a1c" filter="url(#bl1)"/>
<path d="M350 444 C350.27 445.5 351.63 450 351.6 453 C351.57 456 350.1 460.5 349.8 462" fill="none" stroke="#3ed028" stroke-width="1.1" opacity="0.8" filter="url(#bl0)"/>
<path d="M320.9 449.5 C319.43 450.29 316.61 449.96 314.6 452.9 C312.59 455.84 311.9 457.55 312.3 462.1 C312.7 466.65 312.4 469.46 316.3 472.4 C320.2 475.34 323.38 474.7 329 474.7 C334.62 474.7 337.74 472.94 340.4 472.4" fill="none" stroke="#4be030" stroke-width="2" filter="url(#bl0)"/>
<path d="M330.5 434 C329.75 432.83 327.58 429.17 326 427 C324.42 424.83 321.83 422 321 421" fill="none" stroke="#1e7a14" stroke-width="1.2" opacity="0.55" filter="url(#bl1)"/>
<circle cx="333.5" cy="427" r="1.6" fill="#1e7a14" opacity="0.45" filter="url(#bl1)"/>
<ellipse cx="333.6" cy="457.5" rx="3.3" ry="6.8" fill="#6dff40" transform="rotate(5 333.6 457.5)" filter="url(#bl1)"/>
<ellipse cx="332.2" cy="442" rx="2.2" ry="5.2" fill="#55f038" transform="rotate(-8 332.2 442)" filter="url(#bl1)"/>
<circle cx="433" cy="382" r="2.8" fill="#e01818" opacity="0.8" filter="url(#bl1)"/>
<circle cx="455" cy="395.5" r="2.4" fill="#e01818" filter="url(#bl1)"/>
<circle cx="427.5" cy="345" r="1" fill="#e01818" opacity="0.6" filter="url(#bl0)"/>
<circle cx="418.75" cy="426.25" r="3.3" fill="#e01818" filter="url(#bl1)"/>
<ellipse cx="440" cy="445" rx="1.8" ry="3.8" fill="#e01818" filter="url(#bl1)"/>
<circle cx="442.5" cy="478" r="1.2" fill="#e01818" opacity="0.4" filter="url(#bl1)"/>
<g clip-path="url(#fp4)">
<path d="M486 366.2 C486.53 364.75 488.98 362.72 491 361 C493.02 359.28 495.77 357.23 498.1 355.9 C500.43 354.57 502.7 353.58 505 353 C507.3 352.42 509.9 352.98 511.9 352.4 C513.9 351.82 515.28 350.35 517 349.5 C518.72 348.65 520.18 348.25 522.2 347.3 C524.22 346.35 527.22 344.05 529.1 343.8 C530.98 343.55 532.07 345.52 533.5 345.8 C534.93 346.08 536.2 346.03 537.7 345.5 C539.2 344.97 540.78 343.17 542.5 342.6 C544.22 342.03 545.35 342.75 548 342.1 C550.65 341.45 555.7 339.57 558.4 338.7 C561.1 337.83 562.77 337.02 564.2 336.9 C565.63 336.78 566.82 336.85 567 338 C567.18 339.15 566.3 342.05 565.3 343.8 C564.3 345.55 562.43 347.07 561 348.5 C559.57 349.93 558.87 350.72 556.7 352.4 C554.53 354.08 550.28 357.2 548 358.6 C545.72 360 544.72 360.4 543 360.8 C541.28 361.2 539.28 361.43 537.7 361 C536.12 360.57 534.93 358.6 533.5 358.2 C532.07 357.8 530.43 358.05 529.1 358.6 C527.77 359.15 526.65 361.1 525.5 361.5 C524.35 361.9 523.37 360.67 522.2 361 C521.03 361.33 519.65 362.63 518.5 363.5 C517.35 364.37 516.72 365.45 515.3 366.2 C513.88 366.95 511.72 367.53 510 368 C508.28 368.47 507.85 368.62 505 369 C502.15 369.38 495.77 370.18 492.9 370.3 C490.03 370.42 488.95 370.38 487.8 369.7 C486.65 369.02 485.47 367.65 486 366.2Z" fill="#051605" stroke="#2fd020" stroke-width="1" stroke-opacity="0.85" filter="url(#bl0)"/>
<circle cx="507.9" cy="356.71" r="0.52" fill="#55f040" opacity="0.85"/>
<circle cx="526.2" cy="358.01" r="0.38" fill="#55f040" opacity="0.85"/>
<circle cx="496.66" cy="361.4" r="0.47" fill="#55f040" opacity="0.85"/>
<circle cx="507.72" cy="363.93" r="0.56" fill="#55f040" opacity="0.85"/>
<circle cx="537.82" cy="355.62" r="0.64" fill="#55f040" opacity="0.85"/>
<circle cx="503.53" cy="358.16" r="0.74" fill="#55f040" opacity="0.85"/>
<circle cx="522.16" cy="359.86" r="0.65" fill="#55f040" opacity="0.85"/>
<circle cx="499.2" cy="360.13" r="0.62" fill="#55f040" opacity="0.85"/>
<circle cx="511.06" cy="348.5" r="0.74" fill="#55f040" opacity="0.85"/>
<circle cx="519.64" cy="359.5" r="0.75" fill="#55f040" opacity="0.85"/>
<circle cx="531.71" cy="362.74" r="0.53" fill="#55f040" opacity="0.85"/>
<circle cx="536.05" cy="355.11" r="0.77" fill="#55f040" opacity="0.85"/>
<circle cx="539.94" cy="349.56" r="0.41" fill="#55f040" opacity="0.85"/>
<circle cx="506.85" cy="363.45" r="0.55" fill="#55f040" opacity="0.85"/>
<circle cx="527.33" cy="352.82" r="0.58" fill="#55f040" opacity="0.85"/>
<circle cx="515.29" cy="353.61" r="0.61" fill="#55f040" opacity="0.85"/>
<circle cx="525.21" cy="362.47" r="0.66" fill="#55f040" opacity="0.85"/>
<circle cx="542.45" cy="361.7" r="0.8" fill="#55f040" opacity="0.85"/>
<circle cx="529.56" cy="350.61" r="0.74" fill="#55f040" opacity="0.85"/>
<circle cx="544.23" cy="362.48" r="0.61" fill="#55f040" opacity="0.85"/>
<circle cx="531.69" cy="351.38" r="0.72" fill="#55f040" opacity="0.85"/>
<circle cx="524.68" cy="352.56" r="0.38" fill="#55f040" opacity="0.85"/>
<circle cx="538.7" cy="363.84" r="0.39" fill="#55f040" opacity="0.85"/>
<circle cx="536.03" cy="354.57" r="0.42" fill="#55f040" opacity="0.85"/>
<circle cx="510.69" cy="360.3" r="0.74" fill="#55f040" opacity="0.85"/>
<circle cx="498.21" cy="357.83" r="0.37" fill="#55f040" opacity="0.85"/>
</g>
<ellipse cx="505.75" cy="358.75" rx="8" ry="8.5" fill="#1a1af5" filter="url(#bl1)"/>
<ellipse cx="536.25" cy="353.75" rx="9" ry="6.5" fill="#1a1af5" filter="url(#bl1)"/>
<circle cx="507.9" cy="356.71" r="0.52" fill="#55f040" opacity="0.85"/>
<circle cx="526.2" cy="358.01" r="0.38" fill="#55f040" opacity="0.85"/>
<circle cx="496.66" cy="361.4" r="0.47" fill="#55f040" opacity="0.85"/>
<circle cx="507.72" cy="363.93" r="0.56" fill="#55f040" opacity="0.85"/>
<circle cx="537.82" cy="355.62" r="0.64" fill="#55f040" opacity="0.85"/>
<circle cx="503.53" cy="358.16" r="0.74" fill="#55f040" opacity="0.85"/>
<circle cx="522.16" cy="359.86" r="0.65" fill="#55f040" opacity="0.85"/>
<circle cx="499.2" cy="360.13" r="0.62" fill="#55f040" opacity="0.85"/>
<circle cx="511.06" cy="348.5" r="0.74" fill="#55f040" opacity="0.85"/>
<circle cx="519.64" cy="359.5" r="0.75" fill="#55f040" opacity="0.85"/>
<circle cx="531.71" cy="362.74" r="0.53" fill="#55f040" opacity="0.85"/>
<circle cx="536.05" cy="355.11" r="0.77" fill="#55f040" opacity="0.85"/>
<ellipse cx="520.5" cy="382" rx="3.4" ry="3" fill="#4a1ae0" filter="url(#bl1)"/>
<circle cx="542" cy="395.5" r="2.3" fill="#c81890" filter="url(#bl1)"/>
<circle cx="521.25" cy="331.25" r="0.9" fill="#2a2af5" filter="url(#bl0)"/>
<path d="M503 438 C504.04 435.82 502.42 434.12 504.7 434 C506.98 433.88 510.62 435.68 514.4 437.4 C518.18 439.12 521.36 439.5 523.6 442.6 C525.84 445.7 525.48 449 525.6 452.9 C525.72 456.8 525.32 459.08 524.2 462.1 C523.08 465.12 521.96 465.94 520 468 C518.04 470.06 517.8 471.06 514.4 472.4 C511 473.74 507.82 474.7 503 474.7 C498.18 474.7 493.64 474.92 490.3 472.4 C486.96 469.88 486.64 466 486.3 462.1 C485.96 458.2 486.88 455.42 488.6 452.9 C490.32 450.38 492.72 451.1 494.9 449.5 C497.08 447.9 497.88 447.2 499.5 444.9 C501.12 442.6 501.96 440.18 503 438Z" fill="#0d3a09" stroke="#2fc020" stroke-width="1" stroke-opacity="0.55" filter="url(#bl0)"/>
<path d="M504.7 434.6 C507.58 433.2 510.74 436.32 514.4 438 C518.06 439.68 520.96 440 523 443 C525.04 446 524.9 449.3 524.6 453 C524.3 456.7 524.42 458.6 521.5 461.5 C518.58 464.4 514.7 467.5 510 467.5 C505.3 467.5 500.9 464.9 498 461.5 C495.1 458.1 495.1 453.8 495.5 450.5 C495.9 447.2 498.16 448.18 500 445 C501.84 441.82 501.82 436 504.7 434.6Z" fill="#2a8a1c" filter="url(#bl1)"/>
<path d="M524 444 C524.27 445.5 525.63 450 525.6 453 C525.57 456 524.1 460.5 523.8 462" fill="none" stroke="#3ed028" stroke-width="1.1" opacity="0.8" filter="url(#bl0)"/>
<path d="M494.9 449.5 C493.43 450.29 490.61 449.96 488.6 452.9 C486.59 455.84 485.9 457.55 486.3 462.1 C486.7 466.65 486.4 469.46 490.3 472.4 C494.2 475.34 497.38 474.7 503 474.7 C508.62 474.7 511.74 472.94 514.4 472.4" fill="none" stroke="#4be030" stroke-width="2" filter="url(#bl0)"/>
<path d="M504.5 434 C503.75 432.83 501.58 429.17 500 427 C498.42 424.83 495.83 422 495 421" fill="none" stroke="#1e7a14" stroke-width="1.2" opacity="0.55" filter="url(#bl1)"/>
<circle cx="507.5" cy="427" r="1.6" fill="#1e7a14" opacity="0.45" filter="url(#bl1)"/>
<ellipse cx="516.25" cy="451.25" rx="7.5" ry="10" fill="#1a1ae8" filter="url(#bl1)"/>
<ellipse cx="505.6" cy="459" rx="2.8" ry="6" fill="#6dff40" transform="rotate(5 505.6 459)" filter="url(#bl1)"/>
<ellipse cx="505.2" cy="443" rx="2" ry="5" fill="#55f038" transform="rotate(-8 505.2 443)" filter="url(#bl1)"/>
<circle cx="505.75" cy="426.25" r="3" fill="#e01850" filter="url(#bl1)"/>
<circle cx="504.25" cy="423" r="1.5" fill="#2a2af5" filter="url(#bl0)"/>
<ellipse cx="527" cy="445" rx="2" ry="3.6" fill="#e01870" filter="url(#bl1)"/>
<circle cx="530" cy="478" r="1.2" fill="#e01818" opacity="0.4" filter="url(#bl1)"/>
<rect x="552.5" y="484" width="7.5" height="2.6" fill="#fff"/>
<text x="7.5" y="537.5" font-size="17.5" font-weight="bold" fill="#231f20" stroke="#231f20" stroke-width=".18">g</text>
<text x="79" y="536.5" font-size="9.8" text-anchor="middle" fill="#111" stroke="#111" stroke-width=".18" letter-spacing="-0.1">Control</text>
<text x="190.3" y="536.5" font-size="9.8" text-anchor="middle" fill="#111" stroke="#111" stroke-width=".18" letter-spacing="-0.1">PD-L1</text>
<text x="298" y="536.5" font-size="9.8" text-anchor="middle" fill="#111" stroke="#111" stroke-width=".18" letter-spacing="-0.1">DBCO-PD-L1</text>
<text x="405" y="536.5" font-size="9.8" text-anchor="middle" fill="#111" stroke="#111" stroke-width=".18" letter-spacing="-0.1">DBCO/DSPE-PD-L1</text>
<text x="514" y="526" font-size="9.8" text-anchor="middle" fill="#111" stroke="#111" stroke-width=".18" letter-spacing="-0.1">DBCO/DSPE-PD-L1+</text>
<text x="517.5" y="536.5" font-size="9.8" text-anchor="middle" fill="#111" stroke="#111" stroke-width=".18">anti-PD-L1</text>
<defs>
<clipPath id="g00"><rect x="32.5" y="542.5" width="90" height="90.3"/></clipPath>
<clipPath id="g01"><rect x="143" y="542.5" width="90" height="90.3"/></clipPath>
<clipPath id="g02"><rect x="252.8" y="542.5" width="90" height="90.3"/></clipPath>
<clipPath id="g03"><rect x="360.5" y="542.5" width="90" height="90.3"/></clipPath>
<clipPath id="g04"><rect x="469.5" y="542.5" width="90" height="90.3"/></clipPath>
<clipPath id="g10"><rect x="32.5" y="658.3" width="90" height="90.3"/></clipPath>
<clipPath id="g11"><rect x="143" y="658.3" width="90" height="90.3"/></clipPath>
<clipPath id="g12"><rect x="252.8" y="658.3" width="90" height="90.3"/></clipPath>
<clipPath id="g13"><rect x="360.5" y="658.3" width="90" height="90.3"/></clipPath>
<clipPath id="g14"><rect x="469.5" y="658.3" width="90" height="90.3"/></clipPath>
<clipPath id="g20"><rect x="32.5" y="773.8" width="90" height="90.3"/></clipPath>
<clipPath id="g21"><rect x="143" y="773.8" width="90" height="90.3"/></clipPath>
<clipPath id="g22"><rect x="252.8" y="773.8" width="90" height="90.3"/></clipPath>
<clipPath id="g23"><rect x="360.5" y="773.8" width="90" height="90.3"/></clipPath>
<clipPath id="g24"><rect x="469.5" y="773.8" width="90" height="90.3"/></clipPath>
<clipPath id="g30"><rect x="32.5" y="889.3" width="90" height="90.3"/></clipPath>
<clipPath id="g31"><rect x="143" y="889.3" width="90" height="90.3"/></clipPath>
<clipPath id="g32"><rect x="252.8" y="889.3" width="90" height="90.3"/></clipPath>
<clipPath id="g33"><rect x="360.5" y="889.3" width="90" height="90.3"/></clipPath>
<clipPath id="g34"><rect x="469.5" y="889.3" width="90" height="90.3"/></clipPath>
</defs>
<text font-size="9.6" text-anchor="middle" fill="#111" stroke="#111" stroke-width=".18" transform="translate(26.5 570) rotate(-90)">CD4-FITC</text>
<line x1="23" y1="644.3" x2="23" y2="608.5" stroke="#111" stroke-width="0.9"/>
<path d="M23 600.5 L19.4 609.5 L26.6 609.5Z" fill="#111"/>
<line x1="23" y1="644.3" x2="380" y2="644.3" stroke="#111" stroke-width="0.9"/>
<path d="M388.5 644.3 L379 640.7 L379 647.9Z" fill="#111"/>
<text x="396.3" y="647.7" font-size="9.8" fill="#111" stroke="#111" stroke-width=".18" letter-spacing="-0.15">CD3-PerCP/Cy5.5</text>
<text font-size="9.6" text-anchor="middle" fill="#111" stroke="#111" stroke-width=".18" transform="translate(26.5 692) rotate(-90)">IFN-<tspan font-style="italic">γ</tspan>-BV421</text>
<line x1="23" y1="760" x2="23" y2="732.5" stroke="#111" stroke-width="0.9"/>
<path d="M23 724.5 L19.4 733.5 L26.6 733.5Z" fill="#111"/>
<line x1="23" y1="760" x2="380" y2="760" stroke="#111" stroke-width="0.9"/>
<path d="M388.5 760 L379 756.4 L379 763.6Z" fill="#111"/>
<text x="396.3" y="763.4" font-size="9.8" fill="#111" stroke="#111" stroke-width=".18" letter-spacing="-0.15">CD8-APC</text>
<text font-size="9.6" text-anchor="middle" fill="#111" stroke="#111" stroke-width=".18" transform="translate(26.5 796.5) rotate(-90)">GzmB-PE</text>
<line x1="23" y1="875" x2="23" y2="832" stroke="#111" stroke-width="0.9"/>
<path d="M23 824 L19.4 833 L26.6 833Z" fill="#111"/>
<line x1="23" y1="875" x2="380" y2="875" stroke="#111" stroke-width="0.9"/>
<path d="M388.5 875 L379 871.4 L379 878.6Z" fill="#111"/>
<text x="396.3" y="878.4" font-size="9.8" fill="#111" stroke="#111" stroke-width=".18" letter-spacing="-0.15">CD8-APC</text>
<text font-size="9.6" text-anchor="middle" fill="#111" stroke="#111" stroke-width=".18" transform="translate(26.5 914.5) rotate(-90)">FoxP3-PE</text>
<line x1="23" y1="989.5" x2="23" y2="949.5" stroke="#111" stroke-width="0.9"/>
<path d="M23 941.5 L19.4 950.5 L26.6 950.5Z" fill="#111"/>
<line x1="23" y1="989.5" x2="380" y2="989.5" stroke="#111" stroke-width="0.9"/>
<path d="M388.5 989.5 L379 985.9 L379 993.1Z" fill="#111"/>
<text x="396.3" y="992.9" font-size="9.8" fill="#111" stroke="#111" stroke-width=".18" letter-spacing="-0.15">CD4-FITC</text>
<rect x="32.5" y="542.5" width="90" height="90.3" fill="#fff" stroke="#666" stroke-width="0.6"/>
<path d="M32.5 632.8h-2.4M32.5 626.4h-1.2M32.5 622.66h-1.2M32.5 617.95h-1.2M32.5 614.84h-1.2M32.5 611.55h-2.4M32.5 605.15h-1.2M32.5 601.41h-1.2M32.5 596.7h-1.2M32.5 593.59h-1.2M32.5 590.3h-2.4M32.5 583.9h-1.2M32.5 580.16h-1.2M32.5 575.45h-1.2M32.5 572.34h-1.2M32.5 569.05h-2.4M32.5 562.65h-1.2M32.5 558.91h-1.2M32.5 554.2h-1.2M32.5 551.09h-1.2M32.5 547.8h-2.4M32.5 632.8v2.4M37.65 632.8v1.2M40.66 632.8v1.2M44.45 632.8v1.2M46.95 632.8v1.2M49.6 632.8v2.4M54.75 632.8v1.2M57.76 632.8v1.2M61.55 632.8v1.2M64.05 632.8v1.2M66.7 632.8v2.4M71.85 632.8v1.2M74.86 632.8v1.2M78.65 632.8v1.2M81.15 632.8v1.2M83.8 632.8v2.4M88.95 632.8v1.2M91.96 632.8v1.2M95.75 632.8v1.2M98.25 632.8v1.2M100.9 632.8v2.4M106.05 632.8v1.2M109.06 632.8v1.2M112.85 632.8v1.2M115.35 632.8v1.2M118 632.8v2.4" fill="none" stroke="#333" stroke-width="0.5"/>
<rect x="55.7" y="549.8" width="48.1" height="35.6" fill="none" stroke="#333" stroke-width="0.65"/>
<text x="37" y="597" font-size="9.8" fill="#111" stroke="#111" stroke-width=".18">70.1%</text>
<g clip-path="url(#g00)">
<path d="M81 564.3 C82.12 564.7 84.39 565.18 85.6 566.5 C86.81 567.82 87.34 569.48 87.6 571.5 C87.86 573.52 87.55 575.48 87 577.5 C86.45 579.52 85.44 580.85 84.6 582.5 C83.76 584.15 82.99 584.94 82.4 586.5 C81.81 588.06 81.73 589.26 81.4 591 C81.07 592.74 80.64 594.39 80.6 596 C80.56 597.61 80.65 598.52 81.2 599.8 C81.75 601.08 82.9 601.5 83.6 603 C84.3 604.5 84.69 606.08 85 608 C85.31 609.92 85.45 611.58 85.3 613.5 C85.15 615.42 84.88 616.85 84.2 618.5 C83.52 620.15 82.85 621.07 81.6 622.5 C80.35 623.93 78.35 625.6 77.4 626.3 C76.45 627 76.88 627 76.4 626.3 C75.92 625.6 75.39 623.93 74.8 622.5 C74.21 621.07 73.66 620.15 73.2 618.5 C72.74 616.85 72.5 615.42 72.3 613.5 C72.1 611.58 72.01 609.92 72.1 608 C72.19 606.08 72.34 604.5 72.8 603 C73.26 601.5 74.16 601.08 74.6 599.8 C75.04 598.52 75.13 597.61 75.2 596 C75.27 594.39 75.11 592.74 75 591 C74.89 589.26 74.86 588.06 74.6 586.5 C74.34 584.94 74.04 584.15 73.6 582.5 C73.16 580.85 72.53 579.52 72.2 577.5 C71.87 575.48 71.47 573.52 71.8 571.5 C72.13 569.48 72.59 567.82 74 566.5 C75.41 565.18 78.22 564.7 79.5 564.3 C80.78 563.9 79.88 563.9 81 564.3Z" fill="#f9b4b4" stroke="#f01414" stroke-width="1.35" stroke-linejoin="round"/>
<ellipse cx="79.8" cy="574" rx="4" ry="5.5" fill="#fff" opacity="0.72" filter="url(#bl1)"/>
<ellipse cx="77.8" cy="611.5" rx="3" ry="6" fill="#fff" opacity="0.72" filter="url(#bl1)"/>
<ellipse cx="77.6" cy="592" rx="1.5" ry="5.5" fill="#fff" opacity="0.72" filter="url(#bl1)"/>
<ellipse cx="79.9" cy="574" rx="6.6" ry="8.6" fill="#fff" stroke="#f01414" stroke-width="0.6" transform="rotate(12 79.9 574)" fill-opacity="0.35"/>
<ellipse cx="79.9" cy="574.23" rx="5.1" ry="6.65" fill="#f9b4b4" stroke="#f01414" stroke-width="0.6" transform="rotate(12 79.9 574.23)" fill-opacity="0.35"/>
<ellipse cx="79.9" cy="574.47" rx="3.6" ry="4.69" fill="#fff" stroke="#f01414" stroke-width="0.6" transform="rotate(12 79.9 574.47)" fill-opacity="0.35"/>
<ellipse cx="79.9" cy="574.7" rx="2.1" ry="2.74" fill="#f9b4b4" stroke="#f01414" stroke-width="0.6" transform="rotate(12 79.9 574.7)" fill-opacity="0.35"/>
<ellipse cx="77.9" cy="611.5" rx="5.2" ry="9.4" fill="#fff" stroke="#f01414" stroke-width="0.6" fill-opacity="0.35"/>
<ellipse cx="77.9" cy="611.76" rx="4.02" ry="7.26" fill="#f9b4b4" stroke="#f01414" stroke-width="0.6" fill-opacity="0.35"/>
<ellipse cx="77.9" cy="612.01" rx="2.84" ry="5.13" fill="#fff" stroke="#f01414" stroke-width="0.6" fill-opacity="0.35"/>
<ellipse cx="77.9" cy="612.27" rx="1.65" ry="2.99" fill="#f9b4b4" stroke="#f01414" stroke-width="0.6" fill-opacity="0.35"/>
<ellipse cx="78.5" cy="633.4" rx="3.4" ry="3.2" fill="#f9b4b4" stroke="#f01414" stroke-width="1.2"/>
</g>
<rect x="143" y="542.5" width="90" height="90.3" fill="#fff" stroke="#666" stroke-width="0.6"/>
<path d="M143 632.8h-2.4M143 626.4h-1.2M143 622.66h-1.2M143 617.95h-1.2M143 614.84h-1.2M143 611.55h-2.4M143 605.15h-1.2M143 601.41h-1.2M143 596.7h-1.2M143 593.59h-1.2M143 590.3h-2.4M143 583.9h-1.2M143 580.16h-1.2M143 575.45h-1.2M143 572.34h-1.2M143 569.05h-2.4M143 562.65h-1.2M143 558.91h-1.2M143 554.2h-1.2M143 551.09h-1.2M143 547.8h-2.4M143 632.8v2.4M148.15 632.8v1.2M151.16 632.8v1.2M154.95 632.8v1.2M157.45 632.8v1.2M160.1 632.8v2.4M165.25 632.8v1.2M168.26 632.8v1.2M172.05 632.8v1.2M174.55 632.8v1.2M177.2 632.8v2.4M182.35 632.8v1.2M185.36 632.8v1.2M189.15 632.8v1.2M191.65 632.8v1.2M194.3 632.8v2.4M199.45 632.8v1.2M202.46 632.8v1.2M206.25 632.8v1.2M208.75 632.8v1.2M211.4 632.8v2.4M216.55 632.8v1.2M219.56 632.8v1.2M223.35 632.8v1.2M225.85 632.8v1.2M228.5 632.8v2.4" fill="none" stroke="#333" stroke-width="0.5"/>
<rect x="167" y="550" width="47.7" height="35.6" fill="none" stroke="#333" stroke-width="0.65"/>
<text x="147.4" y="597" font-size="9.8" fill="#111" stroke="#111" stroke-width=".18">66.7%</text>
<g clip-path="url(#g01)">
<path d="M198.5 557.8 C199.78 558.2 201.46 558.68 202.5 560 C203.54 561.32 204 563.08 204.2 565 C204.4 566.92 204.11 568.48 203.6 570.5 C203.09 572.52 202.17 574.17 201.4 576 C200.63 577.83 199.91 579.12 199.4 580.5 C198.89 581.88 198.6 582.22 198.6 583.5 C198.6 584.78 199.22 585.85 199.4 587.5 C199.58 589.15 199.75 590.67 199.6 592.5 C199.45 594.33 198.97 595.83 198.6 597.5 C198.23 599.17 197.23 600.32 197.6 601.6 C197.97 602.88 199.61 603.14 200.6 604.5 C201.59 605.86 202.45 607.26 203 609 C203.55 610.74 203.71 612.08 203.6 614 C203.49 615.92 203.17 617.76 202.4 619.5 C201.63 621.24 200.67 622.16 199.4 623.5 C198.13 624.84 196.58 626.19 195.5 626.8 C194.42 627.4 194.58 627.4 193.5 626.8 C192.42 626.19 190.72 624.84 189.6 623.5 C188.48 622.16 188 621.24 187.4 619.5 C186.8 617.76 186.52 615.92 186.3 614 C186.08 612.08 186.07 610.74 186.2 609 C186.33 607.26 186.63 605.86 187 604.5 C187.37 603.14 188.46 602.88 188.2 601.6 C187.94 600.32 186.33 599.17 185.6 597.5 C184.87 595.83 184.31 594.33 184.2 592.5 C184.09 590.67 184.41 589.15 185 587.5 C185.59 585.85 186.96 584.78 187.4 583.5 C187.84 582.22 187.55 581.88 187.4 580.5 C187.25 579.12 186.93 577.83 186.6 576 C186.27 574.17 185.56 572.52 185.6 570.5 C185.64 568.48 185.9 566.92 186.8 565 C187.7 563.08 188.91 561.32 190.5 560 C192.09 558.68 194.03 558.2 195.5 557.8 C196.97 557.4 197.22 557.4 198.5 557.8Z" fill="#f9b4b4" stroke="#f01414" stroke-width="1.35" stroke-linejoin="round"/>
<ellipse cx="195.2" cy="568.5" rx="4.2" ry="5.2" fill="#fff" opacity="0.72" filter="url(#bl1)"/>
<ellipse cx="195.2" cy="613.5" rx="3.8" ry="5.6" fill="#fff" opacity="0.72" filter="url(#bl1)"/>
<ellipse cx="190.5" cy="592.5" rx="2.2" ry="3.4" fill="#fff" opacity="0.72" filter="url(#bl1)"/>
<ellipse cx="195.4" cy="568.5" rx="7.2" ry="8.6" fill="#fff" stroke="#f01414" stroke-width="0.6" transform="rotate(18 195.4 568.5)" fill-opacity="0.35"/>
<ellipse cx="195.4" cy="568.73" rx="5.56" ry="6.65" fill="#f9b4b4" stroke="#f01414" stroke-width="0.6" transform="rotate(18 195.4 568.73)" fill-opacity="0.35"/>
<ellipse cx="195.4" cy="568.97" rx="3.93" ry="4.69" fill="#fff" stroke="#f01414" stroke-width="0.6" transform="rotate(18 195.4 568.97)" fill-opacity="0.35"/>
<ellipse cx="195.4" cy="569.2" rx="2.29" ry="2.74" fill="#f9b4b4" stroke="#f01414" stroke-width="0.6" transform="rotate(18 195.4 569.2)" fill-opacity="0.35"/>
<ellipse cx="195.3" cy="613.5" rx="6.6" ry="9.2" fill="#fff" stroke="#f01414" stroke-width="0.6" fill-opacity="0.35"/>
<ellipse cx="195.3" cy="613.75" rx="5.1" ry="7.11" fill="#f9b4b4" stroke="#f01414" stroke-width="0.6" fill-opacity="0.35"/>
<ellipse cx="195.3" cy="614" rx="3.6" ry="5.02" fill="#fff" stroke="#f01414" stroke-width="0.6" fill-opacity="0.35"/>
<ellipse cx="195.3" cy="614.25" rx="2.1" ry="2.93" fill="#f9b4b4" stroke="#f01414" stroke-width="0.6" fill-opacity="0.35"/>
<ellipse cx="195" cy="633.4" rx="3.4" ry="3.2" fill="#f9b4b4" stroke="#f01414" stroke-width="1.2"/>
</g>
<rect x="252.8" y="542.5" width="90" height="90.3" fill="#fff" stroke="#666" stroke-width="0.6"/>
<path d="M252.8 632.8h-2.4M252.8 626.4h-1.2M252.8 622.66h-1.2M252.8 617.95h-1.2M252.8 614.84h-1.2M252.8 611.55h-2.4M252.8 605.15h-1.2M252.8 601.41h-1.2M252.8 596.7h-1.2M252.8 593.59h-1.2M252.8 590.3h-2.4M252.8 583.9h-1.2M252.8 580.16h-1.2M252.8 575.45h-1.2M252.8 572.34h-1.2M252.8 569.05h-2.4M252.8 562.65h-1.2M252.8 558.91h-1.2M252.8 554.2h-1.2M252.8 551.09h-1.2M252.8 547.8h-2.4M252.8 632.8v2.4M257.95 632.8v1.2M260.96 632.8v1.2M264.75 632.8v1.2M267.25 632.8v1.2M269.9 632.8v2.4M275.05 632.8v1.2M278.06 632.8v1.2M281.85 632.8v1.2M284.35 632.8v1.2M287 632.8v2.4M292.15 632.8v1.2M295.16 632.8v1.2M298.95 632.8v1.2M301.45 632.8v1.2M304.1 632.8v2.4M309.25 632.8v1.2M312.26 632.8v1.2M316.05 632.8v1.2M318.55 632.8v1.2M321.2 632.8v2.4M326.35 632.8v1.2M329.36 632.8v1.2M333.15 632.8v1.2M335.65 632.8v1.2M338.3 632.8v2.4" fill="none" stroke="#333" stroke-width="0.5"/>
<rect x="276.5" y="550" width="48.2" height="35.6" fill="none" stroke="#333" stroke-width="0.65"/>
<text x="259" y="597" font-size="9.8" fill="#111" stroke="#111" stroke-width=".18">62.7%</text>
<g clip-path="url(#g02)">
<path d="M301.6 564.3 C301.07 563.22 302.17 559.55 302.6 557.8 C303.03 556.05 303.67 553.8 304.2 553.8 C304.73 553.8 305.53 556.05 305.8 557.8 C306.07 559.55 306.5 563.22 305.8 564.3 C305.1 565.38 302.13 565.38 301.6 564.3Z" fill="#f9b4b4" stroke="#f01414" stroke-width="1.2"/>
<path d="M304 562.5 C305.58 562.96 306.5 563.62 307.6 565 C308.7 566.38 309.52 567.98 310 570 C310.48 572.02 310.24 573.89 310.2 576 C310.16 578.11 309.95 579.76 309.8 581.5 C309.65 583.24 309.4 583.94 309.4 585.5 C309.4 587.06 309.58 588.08 309.8 590 C310.02 591.92 310.38 593.8 310.6 596 C310.82 598.2 311 599.8 311 602 C311 604.2 310.93 605.89 310.6 608 C310.27 610.11 309.86 611.67 309.2 613.5 C308.54 615.33 307.86 616.44 307 618 C306.14 619.56 305.23 621.27 304.5 622 C303.77 622.73 303.86 622.73 303 622 C302.14 621.27 300.79 619.56 299.8 618 C298.81 616.44 298.26 615.33 297.6 613.5 C296.94 611.67 296.57 610.11 296.2 608 C295.83 605.89 295.78 604.2 295.6 602 C295.42 599.8 295.35 598.2 295.2 596 C295.05 593.8 294.95 591.92 294.8 590 C294.65 588.08 294.66 587.06 294.4 585.5 C294.14 583.94 293.78 583.24 293.4 581.5 C293.01 579.76 292.47 578.11 292.3 576 C292.13 573.89 292.08 572.02 292.5 570 C292.92 567.98 293.41 566.38 294.6 565 C295.79 563.62 297.28 562.96 299 562.5 C300.72 562.04 302.42 562.04 304 562.5Z" fill="#f9b4b4" stroke="#f01414" stroke-width="1.35" stroke-linejoin="round"/>
<ellipse cx="301.2" cy="574" rx="4" ry="5.6" fill="#fff" opacity="0.72" filter="url(#bl1)"/>
<ellipse cx="303.6" cy="604" rx="2.8" ry="7" fill="#fff" opacity="0.72" filter="url(#bl1)"/>
<ellipse cx="301.3" cy="574" rx="6.8" ry="9" fill="#fff" stroke="#f01414" stroke-width="0.6" fill-opacity="0.35"/>
<ellipse cx="301.3" cy="574.25" rx="5.25" ry="6.95" fill="#f9b4b4" stroke="#f01414" stroke-width="0.6" fill-opacity="0.35"/>
<ellipse cx="301.3" cy="574.49" rx="3.71" ry="4.91" fill="#fff" stroke="#f01414" stroke-width="0.6" fill-opacity="0.35"/>
<ellipse cx="301.3" cy="574.74" rx="2.16" ry="2.86" fill="#f9b4b4" stroke="#f01414" stroke-width="0.6" fill-opacity="0.35"/>
<ellipse cx="303.8" cy="604.5" rx="5" ry="11" fill="#fff" stroke="#f01414" stroke-width="0.6" fill-opacity="0.35"/>
<ellipse cx="303.8" cy="604.8" rx="3.86" ry="8.5" fill="#f9b4b4" stroke="#f01414" stroke-width="0.6" fill-opacity="0.35"/>
<ellipse cx="303.8" cy="605.1" rx="2.73" ry="6" fill="#fff" stroke="#f01414" stroke-width="0.6" fill-opacity="0.35"/>
<ellipse cx="303.8" cy="605.4" rx="1.59" ry="3.5" fill="#f9b4b4" stroke="#f01414" stroke-width="0.6" fill-opacity="0.35"/>
</g>
<rect x="360.5" y="542.5" width="90" height="90.3" fill="#fff" stroke="#666" stroke-width="0.6"/>
<path d="M360.5 632.8h-2.4M360.5 626.4h-1.2M360.5 622.66h-1.2M360.5 617.95h-1.2M360.5 614.84h-1.2M360.5 611.55h-2.4M360.5 605.15h-1.2M360.5 601.41h-1.2M360.5 596.7h-1.2M360.5 593.59h-1.2M360.5 590.3h-2.4M360.5 583.9h-1.2M360.5 580.16h-1.2M360.5 575.45h-1.2M360.5 572.34h-1.2M360.5 569.05h-2.4M360.5 562.65h-1.2M360.5 558.91h-1.2M360.5 554.2h-1.2M360.5 551.09h-1.2M360.5 547.8h-2.4M360.5 632.8v2.4M365.65 632.8v1.2M368.66 632.8v1.2M372.45 632.8v1.2M374.95 632.8v1.2M377.6 632.8v2.4M382.75 632.8v1.2M385.76 632.8v1.2M389.55 632.8v1.2M392.05 632.8v1.2M394.7 632.8v2.4M399.85 632.8v1.2M402.86 632.8v1.2M406.65 632.8v1.2M409.15 632.8v1.2M411.8 632.8v2.4M416.95 632.8v1.2M419.96 632.8v1.2M423.75 632.8v1.2M426.25 632.8v1.2M428.9 632.8v2.4M434.05 632.8v1.2M437.06 632.8v1.2M440.85 632.8v1.2M443.35 632.8v1.2M446 632.8v2.4" fill="none" stroke="#333" stroke-width="0.5"/>
<rect x="384.2" y="550.3" width="47.8" height="35.7" fill="none" stroke="#333" stroke-width="0.65"/>
<text x="365" y="597" font-size="9.8" fill="#111" stroke="#111" stroke-width=".18">57.4%</text>
<g clip-path="url(#g03)">
<path d="M412 564.8 C413.43 565.2 415.55 565.77 416.8 567 C418.05 568.23 418.51 569.76 418.8 571.5 C419.09 573.24 418.91 574.76 418.4 576.5 C417.89 578.24 416.92 579.44 416 581 C415.08 582.56 414.02 583.53 413.4 585 C412.78 586.47 412.67 587.35 412.6 589 C412.53 590.65 412.74 592.17 413 594 C413.26 595.83 413.49 597.35 414 599 C414.51 600.65 415.25 601.35 415.8 603 C416.35 604.65 416.73 606.17 417 608 C417.27 609.83 417.45 611.17 417.3 613 C417.15 614.83 416.81 616.35 416.2 618 C415.59 619.65 414.77 620.66 414 622 C413.23 623.34 412.66 624.69 412 625.3 C411.34 625.9 411.24 625.9 410.4 625.3 C409.56 624.69 408.39 623.34 407.4 622 C406.41 620.66 405.62 619.65 405 618 C404.38 616.35 404.22 614.83 404 613 C403.78 611.17 403.8 609.83 403.8 608 C403.8 606.17 403.85 604.65 404 603 C404.15 601.35 404.45 600.65 404.6 599 C404.75 597.35 404.87 595.83 404.8 594 C404.73 592.17 404.42 590.65 404.2 589 C403.98 587.35 403.86 586.47 403.6 585 C403.34 583.53 403.19 582.56 402.8 581 C402.42 579.44 401.72 578.24 401.5 576.5 C401.28 574.76 401.18 573.24 401.6 571.5 C402.02 569.76 402.44 568.23 403.8 567 C405.16 565.77 407.5 565.2 409 564.8 C410.5 564.4 410.57 564.4 412 564.8Z" fill="#f9b4b4" stroke="#f01414" stroke-width="1.35" stroke-linejoin="round"/>
<ellipse cx="410.2" cy="573.5" rx="4" ry="4.6" fill="#fff" opacity="0.72" filter="url(#bl1)"/>
<ellipse cx="410.6" cy="611" rx="3" ry="6" fill="#fff" opacity="0.72" filter="url(#bl1)"/>
<ellipse cx="407.6" cy="592" rx="1.3" ry="5" fill="#fff" opacity="0.72" filter="url(#bl1)"/>
<ellipse cx="410.4" cy="573.5" rx="6.6" ry="7.6" fill="#fff" stroke="#f01414" stroke-width="0.6" fill-opacity="0.35"/>
<ellipse cx="410.4" cy="573.71" rx="5.1" ry="5.87" fill="#f9b4b4" stroke="#f01414" stroke-width="0.6" fill-opacity="0.35"/>
<ellipse cx="410.4" cy="573.91" rx="3.6" ry="4.15" fill="#fff" stroke="#f01414" stroke-width="0.6" fill-opacity="0.35"/>
<ellipse cx="410.4" cy="574.12" rx="2.1" ry="2.42" fill="#f9b4b4" stroke="#f01414" stroke-width="0.6" fill-opacity="0.35"/>
<ellipse cx="410.8" cy="611" rx="5" ry="9.6" fill="#fff" stroke="#f01414" stroke-width="0.6" fill-opacity="0.35"/>
<ellipse cx="410.8" cy="611.26" rx="3.86" ry="7.42" fill="#f9b4b4" stroke="#f01414" stroke-width="0.6" fill-opacity="0.35"/>
<ellipse cx="410.8" cy="611.52" rx="2.73" ry="5.24" fill="#fff" stroke="#f01414" stroke-width="0.6" fill-opacity="0.35"/>
<ellipse cx="410.8" cy="611.79" rx="1.59" ry="3.05" fill="#f9b4b4" stroke="#f01414" stroke-width="0.6" fill-opacity="0.35"/>
<ellipse cx="411.2" cy="633.4" rx="3.4" ry="3.2" fill="#f9b4b4" stroke="#f01414" stroke-width="1.2"/>
</g>
<rect x="469.5" y="542.5" width="90" height="90.3" fill="#fff" stroke="#666" stroke-width="0.6"/>
<path d="M469.5 632.8h-2.4M469.5 626.4h-1.2M469.5 622.66h-1.2M469.5 617.95h-1.2M469.5 614.84h-1.2M469.5 611.55h-2.4M469.5 605.15h-1.2M469.5 601.41h-1.2M469.5 596.7h-1.2M469.5 593.59h-1.2M469.5 590.3h-2.4M469.5 583.9h-1.2M469.5 580.16h-1.2M469.5 575.45h-1.2M469.5 572.34h-1.2M469.5 569.05h-2.4M469.5 562.65h-1.2M469.5 558.91h-1.2M469.5 554.2h-1.2M469.5 551.09h-1.2M469.5 547.8h-2.4M469.5 632.8v2.4M474.65 632.8v1.2M477.66 632.8v1.2M481.45 632.8v1.2M483.95 632.8v1.2M486.6 632.8v2.4M491.75 632.8v1.2M494.76 632.8v1.2M498.55 632.8v1.2M501.05 632.8v1.2M503.7 632.8v2.4M508.85 632.8v1.2M511.86 632.8v1.2M515.65 632.8v1.2M518.15 632.8v1.2M520.8 632.8v2.4M525.95 632.8v1.2M528.96 632.8v1.2M532.75 632.8v1.2M535.25 632.8v1.2M537.9 632.8v2.4M543.05 632.8v1.2M546.06 632.8v1.2M549.85 632.8v1.2M552.35 632.8v1.2M555 632.8v2.4" fill="none" stroke="#333" stroke-width="0.5"/>
<rect x="493.7" y="550.3" width="47.7" height="35.7" fill="none" stroke="#333" stroke-width="0.65"/>
<text x="474.6" y="597" font-size="9.8" fill="#111" stroke="#111" stroke-width=".18">64.0%</text>
<g clip-path="url(#g04)">
<path d="M520.5 564.2 C521.97 564.62 524.25 565.25 525.5 566.5 C526.75 567.75 527.02 569.17 527.3 571 C527.57 572.83 527.5 574.67 527 576.5 C526.5 578.33 525.44 579.44 524.6 581 C523.76 582.56 522.95 583.53 522.4 585 C521.85 586.47 521.71 587.44 521.6 589 C521.49 590.56 521.54 591.85 521.8 593.5 C522.06 595.15 522.49 596.26 523 598 C523.51 599.74 524.16 601.08 524.6 603 C525.04 604.92 525.4 606.67 525.4 608.5 C525.4 610.33 525.11 611.44 524.6 613 C524.09 614.56 523.44 615.57 522.6 617 C521.76 618.43 520.84 620.1 520 620.8 C519.16 621.5 518.88 621.5 518 620.8 C517.12 620.1 516.08 618.43 515.2 617 C514.32 615.57 513.73 614.56 513.2 613 C512.67 611.44 512.48 610.33 512.3 608.5 C512.12 606.67 512.18 604.92 512.2 603 C512.22 601.08 512.29 599.74 512.4 598 C512.51 596.26 512.69 595.15 512.8 593.5 C512.91 591.85 513.04 590.56 513 589 C512.96 587.44 512.86 586.47 512.6 585 C512.34 583.53 511.99 582.56 511.6 581 C511.22 579.44 510.68 578.33 510.5 576.5 C510.32 574.67 510.23 572.83 510.6 571 C510.97 569.17 511.24 567.75 512.5 566.5 C513.76 565.25 516.03 564.62 517.5 564.2 C518.97 563.78 519.03 563.78 520.5 564.2Z" fill="#f9b4b4" stroke="#f01414" stroke-width="1.35" stroke-linejoin="round"/>
<ellipse cx="519" cy="573.5" rx="4" ry="4.8" fill="#fff" opacity="0.72" filter="url(#bl1)"/>
<ellipse cx="518.8" cy="607.5" rx="3" ry="5.6" fill="#fff" opacity="0.72" filter="url(#bl1)"/>
<ellipse cx="515.8" cy="591" rx="1.3" ry="5" fill="#fff" opacity="0.72" filter="url(#bl1)"/>
<ellipse cx="519" cy="573.5" rx="6.6" ry="7.8" fill="#fff" stroke="#f01414" stroke-width="0.6" fill-opacity="0.35"/>
<ellipse cx="519" cy="573.71" rx="5.1" ry="6.03" fill="#f9b4b4" stroke="#f01414" stroke-width="0.6" fill-opacity="0.35"/>
<ellipse cx="519" cy="573.93" rx="3.6" ry="4.25" fill="#fff" stroke="#f01414" stroke-width="0.6" fill-opacity="0.35"/>
<ellipse cx="519" cy="574.14" rx="2.1" ry="2.48" fill="#f9b4b4" stroke="#f01414" stroke-width="0.6" fill-opacity="0.35"/>
<ellipse cx="518.8" cy="607.5" rx="5" ry="9" fill="#fff" stroke="#f01414" stroke-width="0.6" fill-opacity="0.35"/>
<ellipse cx="518.8" cy="607.75" rx="3.86" ry="6.95" fill="#f9b4b4" stroke="#f01414" stroke-width="0.6" fill-opacity="0.35"/>
<ellipse cx="518.8" cy="607.99" rx="2.73" ry="4.91" fill="#fff" stroke="#f01414" stroke-width="0.6" fill-opacity="0.35"/>
<ellipse cx="518.8" cy="608.24" rx="1.59" ry="2.86" fill="#f9b4b4" stroke="#f01414" stroke-width="0.6" fill-opacity="0.35"/>
</g>
<rect x="32.5" y="658.3" width="90" height="90.3" fill="#fff" stroke="#666" stroke-width="0.6"/>
<path d="M32.5 748.6h-2.4M32.5 742.2h-1.2M32.5 738.46h-1.2M32.5 733.75h-1.2M32.5 730.64h-1.2M32.5 727.35h-2.4M32.5 720.95h-1.2M32.5 717.21h-1.2M32.5 712.5h-1.2M32.5 709.39h-1.2M32.5 706.1h-2.4M32.5 699.7h-1.2M32.5 695.96h-1.2M32.5 691.25h-1.2M32.5 688.14h-1.2M32.5 684.85h-2.4M32.5 678.45h-1.2M32.5 674.71h-1.2M32.5 670h-1.2M32.5 666.89h-1.2M32.5 663.6h-2.4M32.5 748.6v2.4M37.65 748.6v1.2M40.66 748.6v1.2M44.45 748.6v1.2M46.95 748.6v1.2M49.6 748.6v2.4M54.75 748.6v1.2M57.76 748.6v1.2M61.55 748.6v1.2M64.05 748.6v1.2M66.7 748.6v2.4M71.85 748.6v1.2M74.86 748.6v1.2M78.65 748.6v1.2M81.15 748.6v1.2M83.8 748.6v2.4M88.95 748.6v1.2M91.96 748.6v1.2M95.75 748.6v1.2M98.25 748.6v1.2M100.9 748.6v2.4M106.05 748.6v1.2M109.06 748.6v1.2M112.85 748.6v1.2M115.35 748.6v1.2M118 748.6v2.4" fill="none" stroke="#333" stroke-width="0.5"/>
<rect x="75.6" y="670.2" width="44.9" height="43.2" fill="none" stroke="#333" stroke-width="0.65"/>
<text x="37.4" y="691" font-size="9.8" fill="#111" stroke="#111" stroke-width=".18">25.4%</text>
<g clip-path="url(#g10)">
<path d="M104.4 682.7 C105.52 682.78 105.75 683.37 106.2 684.5 C106.65 685.63 107.17 687.47 107.1 689.5 C107.03 691.53 106.25 694.45 105.8 696.7 C105.35 698.95 104.4 700.73 104.4 703 C104.4 705.27 105.72 706.97 105.8 710.3 C105.88 713.63 105.2 719.38 104.9 723 C104.6 726.62 104.6 728.83 104 732 C103.4 735.17 102.13 739.88 101.3 742 C100.47 744.12 99.62 744.55 99 744.7 C98.38 744.85 98.5 744.25 97.6 742.9 C96.7 741.55 95.18 738.87 93.6 736.6 C92.02 734.33 89.55 731.42 88.1 729.3 C86.65 727.18 85.2 727.07 84.9 723.9 C84.6 720.73 85.77 714.08 86.3 710.3 C86.83 706.52 87.27 704.37 88.1 701.2 C88.93 698.03 90.23 693.78 91.3 691.3 C92.37 688.82 93.13 687.52 94.5 686.3 C95.87 685.08 97.85 684.6 99.5 684 C101.15 683.4 103.28 682.62 104.4 682.7Z" fill="#e9b8ea" stroke="#b412b8" stroke-width="1.35" stroke-linejoin="round"/>
<ellipse cx="100.5" cy="696.9" rx="4.2" ry="10" fill="#fff" opacity="0.72" filter="url(#bl1)"/>
<ellipse cx="94" cy="720.9" rx="2.2" ry="9" fill="#fff" opacity="0.72" filter="url(#bl1)"/>
<ellipse cx="98.4" cy="724.9" rx="6.6" ry="18.5" fill="#fff" stroke="#b412b8" stroke-width="0.6" fill-opacity="0.35"/>
<ellipse cx="98.4" cy="725.31" rx="5.38" ry="15.07" fill="#e9b8ea" stroke="#b412b8" stroke-width="0.6" fill-opacity="0.35"/>
<ellipse cx="98.4" cy="725.72" rx="4.16" ry="11.65" fill="#fff" stroke="#b412b8" stroke-width="0.6" fill-opacity="0.35"/>
<ellipse cx="98.4" cy="726.13" rx="2.93" ry="8.22" fill="#e9b8ea" stroke="#b412b8" stroke-width="0.6" fill-opacity="0.35"/>
<ellipse cx="98.4" cy="726.54" rx="1.71" ry="4.8" fill="#fff" stroke="#b412b8" stroke-width="0.6" fill-opacity="0.35"/>
<ellipse cx="99" cy="748.9" rx="4.4" ry="4.2" fill="#e9b8ea" stroke="#b412b8" stroke-width="1.2"/>
<ellipse cx="99" cy="749.4" rx="2.3" ry="2.2" fill="#fff" stroke="#b412b8" stroke-width="0.5" fill-opacity="0.5"/>
</g>
<rect x="143" y="658.3" width="90" height="90.3" fill="#fff" stroke="#666" stroke-width="0.6"/>
<path d="M143 748.6h-2.4M143 742.2h-1.2M143 738.46h-1.2M143 733.75h-1.2M143 730.64h-1.2M143 727.35h-2.4M143 720.95h-1.2M143 717.21h-1.2M143 712.5h-1.2M143 709.39h-1.2M143 706.1h-2.4M143 699.7h-1.2M143 695.96h-1.2M143 691.25h-1.2M143 688.14h-1.2M143 684.85h-2.4M143 678.45h-1.2M143 674.71h-1.2M143 670h-1.2M143 666.89h-1.2M143 663.6h-2.4M143 748.6v2.4M148.15 748.6v1.2M151.16 748.6v1.2M154.95 748.6v1.2M157.45 748.6v1.2M160.1 748.6v2.4M165.25 748.6v1.2M168.26 748.6v1.2M172.05 748.6v1.2M174.55 748.6v1.2M177.2 748.6v2.4M182.35 748.6v1.2M185.36 748.6v1.2M189.15 748.6v1.2M191.65 748.6v1.2M194.3 748.6v2.4M199.45 748.6v1.2M202.46 748.6v1.2M206.25 748.6v1.2M208.75 748.6v1.2M211.4 748.6v2.4M216.55 748.6v1.2M219.56 748.6v1.2M223.35 748.6v1.2M225.85 748.6v1.2M228.5 748.6v2.4" fill="none" stroke="#333" stroke-width="0.5"/>
<rect x="185" y="670.2" width="45.5" height="43.2" fill="none" stroke="#333" stroke-width="0.65"/>
<text x="147.5" y="691" font-size="9.8" fill="#111" stroke="#111" stroke-width=".18">22.9%</text>
<g clip-path="url(#g11)">
<path d="M214.4 683.6 C215.08 684.17 215.82 685.77 216.2 687 C216.58 688.23 216.78 689.58 216.7 691 C216.62 692.42 215.7 694.08 215.7 695.5 C215.7 696.92 216.85 698.25 216.7 699.5 C216.55 700.75 215.18 701.58 214.8 703 C214.42 704.42 214.4 706.17 214.4 708 C214.4 709.83 214.73 712 214.8 714 C214.87 716 214.87 717.83 214.8 720 C214.73 722.17 214.58 724.67 214.4 727 C214.22 729.33 214 731.83 213.7 734 C213.4 736.17 213.13 738.25 212.6 740 C212.07 741.75 211.35 743.75 210.5 744.5 C209.65 745.25 208.48 745.25 207.5 744.5 C206.52 743.75 205.48 741.75 204.6 740 C203.72 738.25 203.13 736.17 202.2 734 C201.27 731.83 199.98 729.33 199 727 C198.02 724.67 196.78 722.17 196.3 720 C195.82 717.83 195.95 716 196.1 714 C196.25 712 196.78 709.83 197.2 708 C197.62 706.17 198.27 704.42 198.6 703 C198.93 701.58 198.83 700.75 199.2 699.5 C199.57 698.25 200 696.92 200.8 695.5 C201.6 694.08 202.87 692.42 204 691 C205.13 689.58 206.25 688.23 207.6 687 C208.95 685.77 210.97 684.17 212.1 683.6 C213.23 683.03 213.72 683.03 214.4 683.6Z" fill="#e9b8ea" stroke="#b412b8" stroke-width="1.35" stroke-linejoin="round"/>
<ellipse cx="210.5" cy="697" rx="3" ry="8" fill="#fff" opacity="0.72" filter="url(#bl1)"/>
<ellipse cx="201.5" cy="716" rx="2" ry="7" fill="#fff" opacity="0.72" filter="url(#bl1)"/>
<ellipse cx="208.8" cy="723.8" rx="5.4" ry="14" fill="#fff" stroke="#b412b8" stroke-width="0.6" fill-opacity="0.35"/>
<ellipse cx="208.8" cy="724.11" rx="4.4" ry="11.41" fill="#e9b8ea" stroke="#b412b8" stroke-width="0.6" fill-opacity="0.35"/>
<ellipse cx="208.8" cy="724.42" rx="3.4" ry="8.81" fill="#fff" stroke="#b412b8" stroke-width="0.6" fill-opacity="0.35"/>
<ellipse cx="208.8" cy="724.73" rx="2.4" ry="6.22" fill="#e9b8ea" stroke="#b412b8" stroke-width="0.6" fill-opacity="0.35"/>
<ellipse cx="208.8" cy="725.04" rx="1.4" ry="3.63" fill="#fff" stroke="#b412b8" stroke-width="0.6" fill-opacity="0.35"/>
<ellipse cx="209" cy="748.9" rx="4.5" ry="4.2" fill="#e9b8ea" stroke="#b412b8" stroke-width="1.2"/>
<ellipse cx="209" cy="749.4" rx="2.3" ry="2.2" fill="#fff" stroke="#b412b8" stroke-width="0.5" fill-opacity="0.5"/>
</g>
<rect x="252.8" y="658.3" width="90" height="90.3" fill="#fff" stroke="#666" stroke-width="0.6"/>
<path d="M252.8 748.6h-2.4M252.8 742.2h-1.2M252.8 738.46h-1.2M252.8 733.75h-1.2M252.8 730.64h-1.2M252.8 727.35h-2.4M252.8 720.95h-1.2M252.8 717.21h-1.2M252.8 712.5h-1.2M252.8 709.39h-1.2M252.8 706.1h-2.4M252.8 699.7h-1.2M252.8 695.96h-1.2M252.8 691.25h-1.2M252.8 688.14h-1.2M252.8 684.85h-2.4M252.8 678.45h-1.2M252.8 674.71h-1.2M252.8 670h-1.2M252.8 666.89h-1.2M252.8 663.6h-2.4M252.8 748.6v2.4M257.95 748.6v1.2M260.96 748.6v1.2M264.75 748.6v1.2M267.25 748.6v1.2M269.9 748.6v2.4M275.05 748.6v1.2M278.06 748.6v1.2M281.85 748.6v1.2M284.35 748.6v1.2M287 748.6v2.4M292.15 748.6v1.2M295.16 748.6v1.2M298.95 748.6v1.2M301.45 748.6v1.2M304.1 748.6v2.4M309.25 748.6v1.2M312.26 748.6v1.2M316.05 748.6v1.2M318.55 748.6v1.2M321.2 748.6v2.4M326.35 748.6v1.2M329.36 748.6v1.2M333.15 748.6v1.2M335.65 748.6v1.2M338.3 748.6v2.4" fill="none" stroke="#333" stroke-width="0.5"/>
<rect x="295.6" y="669.4" width="44.6" height="42.9" fill="none" stroke="#333" stroke-width="0.65"/>
<text x="259.4" y="691" font-size="9.8" fill="#111" stroke="#111" stroke-width=".18">15.9%</text>
<g clip-path="url(#g12)">
<path d="M323 685.4 C324.28 685.83 326.4 686.9 326.7 688 C327 689.1 325.33 690.33 324.8 692 C324.27 693.67 323.8 696.5 323.5 698 C323.2 699.5 323 699.67 323 701 C323 702.33 323.3 704.17 323.5 706 C323.7 707.83 324.02 710 324.2 712 C324.38 714 324.57 716 324.6 718 C324.63 720 324.52 722 324.4 724 C324.28 726 324.2 727.83 323.9 730 C323.6 732.17 323.05 735 322.6 737 C322.15 739 321.6 740.75 321.2 742 C320.8 743.25 320.7 744.08 320.2 744.5 C319.7 744.92 318.78 744.92 318.2 744.5 C317.62 744.08 317.4 743.25 316.7 742 C316 740.75 315.05 739 314 737 C312.95 735 311.53 732.17 310.4 730 C309.27 727.83 307.92 726 307.2 724 C306.48 722 306.1 720 306.1 718 C306.1 716 306.63 714 307.2 712 C307.77 710 309.23 707.83 309.5 706 C309.77 704.17 308.43 702.33 308.8 701 C309.17 699.67 310.88 699.5 311.7 698 C312.52 696.5 313.02 693.67 313.7 692 C314.38 690.33 314.92 689.1 315.8 688 C316.68 686.9 317.8 685.83 319 685.4 C320.2 684.97 321.72 684.97 323 685.4Z" fill="#e9b8ea" stroke="#b412b8" stroke-width="1.35" stroke-linejoin="round"/>
<ellipse cx="319" cy="700" rx="2.6" ry="8" fill="#fff" opacity="0.72" filter="url(#bl1)"/>
<ellipse cx="311" cy="718" rx="2" ry="6" fill="#fff" opacity="0.72" filter="url(#bl1)"/>
<ellipse cx="318.3" cy="723.8" rx="5.4" ry="13" fill="#fff" stroke="#b412b8" stroke-width="0.6" fill-opacity="0.35"/>
<ellipse cx="318.3" cy="724.09" rx="4.4" ry="10.59" fill="#e9b8ea" stroke="#b412b8" stroke-width="0.6" fill-opacity="0.35"/>
<ellipse cx="318.3" cy="724.38" rx="3.4" ry="8.19" fill="#fff" stroke="#b412b8" stroke-width="0.6" fill-opacity="0.35"/>
<ellipse cx="318.3" cy="724.67" rx="2.4" ry="5.78" fill="#e9b8ea" stroke="#b412b8" stroke-width="0.6" fill-opacity="0.35"/>
<ellipse cx="318.3" cy="724.96" rx="1.4" ry="3.37" fill="#fff" stroke="#b412b8" stroke-width="0.6" fill-opacity="0.35"/>
<ellipse cx="318.7" cy="748.9" rx="4.5" ry="4.2" fill="#e9b8ea" stroke="#b412b8" stroke-width="1.2"/>
<ellipse cx="318.7" cy="749.4" rx="2.3" ry="2.2" fill="#fff" stroke="#b412b8" stroke-width="0.5" fill-opacity="0.5"/>
</g>
<rect x="360.5" y="658.3" width="90" height="90.3" fill="#fff" stroke="#666" stroke-width="0.6"/>
<path d="M360.5 748.6h-2.4M360.5 742.2h-1.2M360.5 738.46h-1.2M360.5 733.75h-1.2M360.5 730.64h-1.2M360.5 727.35h-2.4M360.5 720.95h-1.2M360.5 717.21h-1.2M360.5 712.5h-1.2M360.5 709.39h-1.2M360.5 706.1h-2.4M360.5 699.7h-1.2M360.5 695.96h-1.2M360.5 691.25h-1.2M360.5 688.14h-1.2M360.5 684.85h-2.4M360.5 678.45h-1.2M360.5 674.71h-1.2M360.5 670h-1.2M360.5 666.89h-1.2M360.5 663.6h-2.4M360.5 748.6v2.4M365.65 748.6v1.2M368.66 748.6v1.2M372.45 748.6v1.2M374.95 748.6v1.2M377.6 748.6v2.4M382.75 748.6v1.2M385.76 748.6v1.2M389.55 748.6v1.2M392.05 748.6v1.2M394.7 748.6v2.4M399.85 748.6v1.2M402.86 748.6v1.2M406.65 748.6v1.2M409.15 748.6v1.2M411.8 748.6v2.4M416.95 748.6v1.2M419.96 748.6v1.2M423.75 748.6v1.2M426.25 748.6v1.2M428.9 748.6v2.4M434.05 748.6v1.2M437.06 748.6v1.2M440.85 748.6v1.2M443.35 748.6v1.2M446 748.6v2.4" fill="none" stroke="#333" stroke-width="0.5"/>
<rect x="403.3" y="669.4" width="44.6" height="42.9" fill="none" stroke="#333" stroke-width="0.65"/>
<text x="367" y="691" font-size="9.8" fill="#111" stroke="#111" stroke-width=".18">4.5%</text>
<g clip-path="url(#g13)">
<path d="M427.8 696.2 C428.67 696.83 429.53 698.62 429.8 700 C430.07 701.38 429.53 703.28 429.4 704.5 C429.27 705.72 428.93 706.05 429 707.3 C429.07 708.55 429.43 710.22 429.8 712 C430.17 713.78 430.85 715.83 431.2 718 C431.55 720.17 431.82 722.83 431.9 725 C431.98 727.17 431.97 729 431.7 731 C431.43 733 430.72 735.17 430.3 737 C429.88 738.83 429.32 740.58 429.2 742 C429.08 743.42 430.83 744.92 429.6 745.5 C428.37 746.08 423.05 746.08 421.8 745.5 C420.55 744.92 422.42 743.42 422.1 742 C421.78 740.58 420.87 738.83 419.9 737 C418.93 735.17 417.32 733 416.3 731 C415.28 729 414.18 727.17 413.8 725 C413.42 722.83 413.73 720.17 414 718 C414.27 715.83 414.7 713.78 415.4 712 C416.1 710.22 416.85 708.55 418.2 707.3 C419.55 706.05 422.57 705.72 423.5 704.5 C424.43 703.28 423.62 701.38 423.8 700 C423.98 698.62 423.93 696.83 424.6 696.2 C425.27 695.57 426.93 695.57 427.8 696.2Z" fill="#e9b8ea" stroke="#b412b8" stroke-width="1.35" stroke-linejoin="round"/>
<ellipse cx="426.6" cy="704" rx="1.4" ry="5" fill="#fff" opacity="0.72" filter="url(#bl1)"/>
<ellipse cx="419.5" cy="722" rx="2.2" ry="6" fill="#fff" opacity="0.72" filter="url(#bl1)"/>
<ellipse cx="426" cy="727.4" rx="5" ry="9.2" fill="#fff" stroke="#b412b8" stroke-width="0.6" fill-opacity="0.35"/>
<ellipse cx="426" cy="727.6" rx="4.07" ry="7.5" fill="#e9b8ea" stroke="#b412b8" stroke-width="0.6" fill-opacity="0.35"/>
<ellipse cx="426" cy="727.81" rx="3.15" ry="5.79" fill="#fff" stroke="#b412b8" stroke-width="0.6" fill-opacity="0.35"/>
<ellipse cx="426" cy="728.01" rx="2.22" ry="4.09" fill="#e9b8ea" stroke="#b412b8" stroke-width="0.6" fill-opacity="0.35"/>
<ellipse cx="426" cy="728.22" rx="1.3" ry="2.39" fill="#fff" stroke="#b412b8" stroke-width="0.6" fill-opacity="0.35"/>
<ellipse cx="425.8" cy="748.9" rx="4.5" ry="4.2" fill="#e9b8ea" stroke="#b412b8" stroke-width="1.2"/>
<ellipse cx="425.8" cy="749.4" rx="2.3" ry="2.2" fill="#fff" stroke="#b412b8" stroke-width="0.5" fill-opacity="0.5"/>
</g>
<rect x="469.5" y="658.3" width="90" height="90.3" fill="#fff" stroke="#666" stroke-width="0.6"/>
<path d="M469.5 748.6h-2.4M469.5 742.2h-1.2M469.5 738.46h-1.2M469.5 733.75h-1.2M469.5 730.64h-1.2M469.5 727.35h-2.4M469.5 720.95h-1.2M469.5 717.21h-1.2M469.5 712.5h-1.2M469.5 709.39h-1.2M469.5 706.1h-2.4M469.5 699.7h-1.2M469.5 695.96h-1.2M469.5 691.25h-1.2M469.5 688.14h-1.2M469.5 684.85h-2.4M469.5 678.45h-1.2M469.5 674.71h-1.2M469.5 670h-1.2M469.5 666.89h-1.2M469.5 663.6h-2.4M469.5 748.6v2.4M474.65 748.6v1.2M477.66 748.6v1.2M481.45 748.6v1.2M483.95 748.6v1.2M486.6 748.6v2.4M491.75 748.6v1.2M494.76 748.6v1.2M498.55 748.6v1.2M501.05 748.6v1.2M503.7 748.6v2.4M508.85 748.6v1.2M511.86 748.6v1.2M515.65 748.6v1.2M518.15 748.6v1.2M520.8 748.6v2.4M525.95 748.6v1.2M528.96 748.6v1.2M532.75 748.6v1.2M535.25 748.6v1.2M537.9 748.6v2.4M543.05 748.6v1.2M546.06 748.6v1.2M549.85 748.6v1.2M552.35 748.6v1.2M555 748.6v2.4" fill="none" stroke="#333" stroke-width="0.5"/>
<rect x="511.9" y="669.4" width="45.5" height="42.9" fill="none" stroke="#333" stroke-width="0.65"/>
<text x="475.7" y="691" font-size="9.8" fill="#111" stroke="#111" stroke-width=".18">21.9%</text>
<g clip-path="url(#g14)">
<path d="M534.9 685.1 C535.88 685.58 536.53 686.68 537.1 688 C537.67 689.32 538 691 538.3 693 C538.6 695 538.68 697.67 538.9 700 C539.12 702.33 539.4 704.5 539.6 707 C539.8 709.5 539.98 712.33 540.1 715 C540.22 717.67 540.35 720.5 540.3 723 C540.25 725.5 540.03 727.67 539.8 730 C539.57 732.33 539.23 735 538.9 737 C538.57 739 538.2 740.67 537.8 742 C537.4 743.33 537.3 744.5 536.5 745 C535.7 745.5 533.75 745.5 533 745 C532.25 744.5 532.52 743.33 532 742 C531.48 740.67 530.7 739 529.9 737 C529.1 735 527.88 732.33 527.2 730 C526.52 727.67 526.07 725.5 525.8 723 C525.53 720.5 525.52 717.67 525.6 715 C525.68 712.33 526.03 709.5 526.3 707 C526.57 704.5 526.9 702.33 527.2 700 C527.5 697.67 527.75 695 528.1 693 C528.45 691 528.78 689.32 529.3 688 C529.82 686.68 530.27 685.58 531.2 685.1 C532.13 684.62 533.92 684.62 534.9 685.1Z" fill="#e9b8ea" stroke="#b412b8" stroke-width="1.35" stroke-linejoin="round"/>
<ellipse cx="533" cy="699" rx="2.4" ry="9" fill="#fff" opacity="0.72" filter="url(#bl1)"/>
<ellipse cx="528.6" cy="720" rx="1.2" ry="8" fill="#fff" opacity="0.72" filter="url(#bl1)"/>
<ellipse cx="534.6" cy="723.8" rx="4.6" ry="14" fill="#fff" stroke="#b412b8" stroke-width="0.6" fill-opacity="0.35"/>
<ellipse cx="534.6" cy="724.11" rx="3.75" ry="11.41" fill="#e9b8ea" stroke="#b412b8" stroke-width="0.6" fill-opacity="0.35"/>
<ellipse cx="534.6" cy="724.42" rx="2.9" ry="8.81" fill="#fff" stroke="#b412b8" stroke-width="0.6" fill-opacity="0.35"/>
<ellipse cx="534.6" cy="724.73" rx="2.04" ry="6.22" fill="#e9b8ea" stroke="#b412b8" stroke-width="0.6" fill-opacity="0.35"/>
<ellipse cx="534.6" cy="725.04" rx="1.19" ry="3.63" fill="#fff" stroke="#b412b8" stroke-width="0.6" fill-opacity="0.35"/>
<ellipse cx="535" cy="748.9" rx="4.5" ry="4.2" fill="#e9b8ea" stroke="#b412b8" stroke-width="1.2"/>
<ellipse cx="535" cy="749.4" rx="2.3" ry="2.2" fill="#fff" stroke="#b412b8" stroke-width="0.5" fill-opacity="0.5"/>
</g>
<rect x="32.5" y="773.8" width="90" height="90.3" fill="#fff" stroke="#666" stroke-width="0.6"/>
<path d="M32.5 864.1h-2.4M32.5 857.7h-1.2M32.5 853.96h-1.2M32.5 849.25h-1.2M32.5 846.14h-1.2M32.5 842.85h-2.4M32.5 836.45h-1.2M32.5 832.71h-1.2M32.5 828h-1.2M32.5 824.89h-1.2M32.5 821.6h-2.4M32.5 815.2h-1.2M32.5 811.46h-1.2M32.5 806.75h-1.2M32.5 803.64h-1.2M32.5 800.35h-2.4M32.5 793.95h-1.2M32.5 790.21h-1.2M32.5 785.5h-1.2M32.5 782.39h-1.2M32.5 779.1h-2.4M32.5 864.1v2.4M37.65 864.1v1.2M40.66 864.1v1.2M44.45 864.1v1.2M46.95 864.1v1.2M49.6 864.1v2.4M54.75 864.1v1.2M57.76 864.1v1.2M61.55 864.1v1.2M64.05 864.1v1.2M66.7 864.1v2.4M71.85 864.1v1.2M74.86 864.1v1.2M78.65 864.1v1.2M81.15 864.1v1.2M83.8 864.1v2.4M88.95 864.1v1.2M91.96 864.1v1.2M95.75 864.1v1.2M98.25 864.1v1.2M100.9 864.1v2.4M106.05 864.1v1.2M109.06 864.1v1.2M112.85 864.1v1.2M115.35 864.1v1.2M118 864.1v2.4" fill="none" stroke="#333" stroke-width="0.5"/>
<rect x="79.3" y="779.3" width="35.3" height="26.3" fill="none" stroke="#333" stroke-width="0.65"/>
<text x="37" y="816.8" font-size="9.8" fill="#111" stroke="#111" stroke-width=".18">14.8%</text>
<g clip-path="url(#g20)">
<path d="M103.5 784.6 C104.85 784.83 106.02 786.82 106.8 788.4 C107.58 789.98 108.2 792.18 108.2 794.1 C108.2 796.02 107.35 797.98 106.8 799.9 C106.25 801.82 105.13 803.05 104.9 805.6 C104.67 808.15 105.48 811.7 105.4 815.2 C105.32 818.7 104.88 823.27 104.4 826.6 C103.92 829.93 103.45 832.8 102.5 835.2 C101.55 837.6 99.58 840 98.7 841 C97.82 842 98 841.68 97.2 841.2 C96.4 840.72 95.25 839.73 93.9 838.1 C92.55 836.47 90.45 833.63 89.1 831.4 C87.75 829.17 86.35 827.08 85.8 824.7 C85.25 822.32 85.48 819.97 85.8 817.1 C86.12 814.23 87.47 810.37 87.7 807.5 C87.93 804.63 86.97 802.28 87.2 799.9 C87.43 797.52 87.98 795.2 89.1 793.2 C90.22 791.2 92.3 788.93 93.9 787.9 C95.5 786.87 97.1 787.55 98.7 787 C100.3 786.45 102.15 784.37 103.5 784.6Z" fill="#bcd8f5" stroke="#1468d2" stroke-width="1.35" stroke-linejoin="round"/>
<ellipse cx="91.7" cy="816" rx="2.4" ry="10" fill="#fff" opacity="0.72" filter="url(#bl1)"/>
<ellipse cx="97.2" cy="798" rx="6.5" ry="7.5" fill="#1a72de" opacity="0.62" filter="url(#bl2)"/>
<ellipse cx="97.7" cy="821" rx="5.6" ry="13.2" fill="#fff" stroke="#1468d2" stroke-width="0.6" fill-opacity="0.35"/>
<ellipse cx="97.7" cy="821.29" rx="4.56" ry="10.76" fill="#bcd8f5" stroke="#1468d2" stroke-width="0.6" fill-opacity="0.35"/>
<ellipse cx="97.7" cy="821.59" rx="3.53" ry="8.31" fill="#fff" stroke="#1468d2" stroke-width="0.6" fill-opacity="0.35"/>
<ellipse cx="97.7" cy="821.88" rx="2.49" ry="5.87" fill="#bcd8f5" stroke="#1468d2" stroke-width="0.6" fill-opacity="0.35"/>
<ellipse cx="97.7" cy="822.17" rx="1.45" ry="3.42" fill="#fff" stroke="#1468d2" stroke-width="0.6" fill-opacity="0.35"/>
<ellipse cx="97.7" cy="864.5" rx="3.2" ry="2.2" fill="#bcd8f5" stroke="#1468d2" stroke-width="1"/>
</g>
<rect x="143" y="773.8" width="90" height="90.3" fill="#fff" stroke="#666" stroke-width="0.6"/>
<path d="M143 864.1h-2.4M143 857.7h-1.2M143 853.96h-1.2M143 849.25h-1.2M143 846.14h-1.2M143 842.85h-2.4M143 836.45h-1.2M143 832.71h-1.2M143 828h-1.2M143 824.89h-1.2M143 821.6h-2.4M143 815.2h-1.2M143 811.46h-1.2M143 806.75h-1.2M143 803.64h-1.2M143 800.35h-2.4M143 793.95h-1.2M143 790.21h-1.2M143 785.5h-1.2M143 782.39h-1.2M143 779.1h-2.4M143 864.1v2.4M148.15 864.1v1.2M151.16 864.1v1.2M154.95 864.1v1.2M157.45 864.1v1.2M160.1 864.1v2.4M165.25 864.1v1.2M168.26 864.1v1.2M172.05 864.1v1.2M174.55 864.1v1.2M177.2 864.1v2.4M182.35 864.1v1.2M185.36 864.1v1.2M189.15 864.1v1.2M191.65 864.1v1.2M194.3 864.1v2.4M199.45 864.1v1.2M202.46 864.1v1.2M206.25 864.1v1.2M208.75 864.1v1.2M211.4 864.1v2.4M216.55 864.1v1.2M219.56 864.1v1.2M223.35 864.1v1.2M225.85 864.1v1.2M228.5 864.1v2.4" fill="none" stroke="#333" stroke-width="0.5"/>
<rect x="189.4" y="779.3" width="35.5" height="26.3" fill="none" stroke="#333" stroke-width="0.65"/>
<text x="148" y="816.8" font-size="9.8" fill="#111" stroke="#111" stroke-width=".18">12.1%</text>
<g clip-path="url(#g21)">
<path d="M213.4 784.6 C214.75 784.83 215.92 786.82 216.7 788.4 C217.48 789.98 218.1 792.18 218.1 794.1 C218.1 796.02 217.25 797.98 216.7 799.9 C216.15 801.82 215.03 803.05 214.8 805.6 C214.57 808.15 215.38 811.7 215.3 815.2 C215.22 818.7 214.78 823.27 214.3 826.6 C213.82 829.93 213.35 832.8 212.4 835.2 C211.45 837.6 209.48 840 208.6 841 C207.72 842 207.9 841.68 207.1 841.2 C206.3 840.72 205.15 839.73 203.8 838.1 C202.45 836.47 200.35 833.63 199 831.4 C197.65 829.17 196.25 827.08 195.7 824.7 C195.15 822.32 195.38 819.97 195.7 817.1 C196.02 814.23 197.37 810.37 197.6 807.5 C197.83 804.63 196.87 802.28 197.1 799.9 C197.33 797.52 197.88 795.2 199 793.2 C200.12 791.2 202.2 788.93 203.8 787.9 C205.4 786.87 207 787.55 208.6 787 C210.2 786.45 212.05 784.37 213.4 784.6Z" fill="#bcd8f5" stroke="#1468d2" stroke-width="1.35" stroke-linejoin="round"/>
<ellipse cx="201.6" cy="816" rx="2.4" ry="10" fill="#fff" opacity="0.72" filter="url(#bl1)"/>
<ellipse cx="207.1" cy="798" rx="6.5" ry="7.5" fill="#1a72de" opacity="0.62" filter="url(#bl2)"/>
<ellipse cx="207.6" cy="821" rx="5.6" ry="13.2" fill="#fff" stroke="#1468d2" stroke-width="0.6" fill-opacity="0.35"/>
<ellipse cx="207.6" cy="821.29" rx="4.56" ry="10.76" fill="#bcd8f5" stroke="#1468d2" stroke-width="0.6" fill-opacity="0.35"/>
<ellipse cx="207.6" cy="821.59" rx="3.53" ry="8.31" fill="#fff" stroke="#1468d2" stroke-width="0.6" fill-opacity="0.35"/>
<ellipse cx="207.6" cy="821.88" rx="2.49" ry="5.87" fill="#bcd8f5" stroke="#1468d2" stroke-width="0.6" fill-opacity="0.35"/>
<ellipse cx="207.6" cy="822.17" rx="1.45" ry="3.42" fill="#fff" stroke="#1468d2" stroke-width="0.6" fill-opacity="0.35"/>
<ellipse cx="207.6" cy="864.5" rx="3.2" ry="2.2" fill="#bcd8f5" stroke="#1468d2" stroke-width="1"/>
</g>
<rect x="252.8" y="773.8" width="90" height="90.3" fill="#fff" stroke="#666" stroke-width="0.6"/>
<path d="M252.8 864.1h-2.4M252.8 857.7h-1.2M252.8 853.96h-1.2M252.8 849.25h-1.2M252.8 846.14h-1.2M252.8 842.85h-2.4M252.8 836.45h-1.2M252.8 832.71h-1.2M252.8 828h-1.2M252.8 824.89h-1.2M252.8 821.6h-2.4M252.8 815.2h-1.2M252.8 811.46h-1.2M252.8 806.75h-1.2M252.8 803.64h-1.2M252.8 800.35h-2.4M252.8 793.95h-1.2M252.8 790.21h-1.2M252.8 785.5h-1.2M252.8 782.39h-1.2M252.8 779.1h-2.4M252.8 864.1v2.4M257.95 864.1v1.2M260.96 864.1v1.2M264.75 864.1v1.2M267.25 864.1v1.2M269.9 864.1v2.4M275.05 864.1v1.2M278.06 864.1v1.2M281.85 864.1v1.2M284.35 864.1v1.2M287 864.1v2.4M292.15 864.1v1.2M295.16 864.1v1.2M298.95 864.1v1.2M301.45 864.1v1.2M304.1 864.1v2.4M309.25 864.1v1.2M312.26 864.1v1.2M316.05 864.1v1.2M318.55 864.1v1.2M321.2 864.1v2.4M326.35 864.1v1.2M329.36 864.1v1.2M333.15 864.1v1.2M335.65 864.1v1.2M338.3 864.1v2.4" fill="none" stroke="#333" stroke-width="0.5"/>
<rect x="298.5" y="777.8" width="36.2" height="26.6" fill="none" stroke="#333" stroke-width="0.65"/>
<text x="259.7" y="816.8" font-size="9.8" fill="#111" stroke="#111" stroke-width=".18">8.3%</text>
<g clip-path="url(#g22)">
<path d="M322.74 787.1 C323.98 787.33 325.05 789.32 325.77 790.9 C326.49 792.48 327.06 794.68 327.06 796.6 C327.06 798.52 326.28 800.48 325.77 802.4 C325.27 804.32 324.24 805.55 324.02 808.1 C323.81 810.65 324.56 814.14 324.48 817.7 C324.41 821.26 324.01 825.97 323.56 829.43 C323.12 832.89 322.69 835.94 321.82 838.46 C320.94 840.98 319.13 843.5 318.32 844.55 C317.51 845.6 317.68 845.27 316.94 844.76 C316.2 844.25 315.15 843.22 313.9 841.5 C312.66 839.79 310.73 836.82 309.49 834.47 C308.25 832.12 306.96 829.91 306.45 827.44 C305.95 824.96 306.16 822.51 306.45 819.6 C306.74 816.69 307.99 812.87 308.2 810 C308.41 807.13 307.53 804.78 307.74 802.4 C307.95 800.02 308.46 797.7 309.49 795.7 C310.52 793.7 312.43 791.43 313.9 790.4 C315.38 789.37 316.85 790.05 318.32 789.5 C319.79 788.95 321.49 786.87 322.74 787.1Z" fill="#bcd8f5" stroke="#1468d2" stroke-width="1.35" stroke-linejoin="round"/>
<ellipse cx="311.88" cy="818.5" rx="2.21" ry="10" fill="#fff" opacity="0.72" filter="url(#bl1)"/>
<ellipse cx="316.9" cy="800.5" rx="5.98" ry="7.5" fill="#1a72de" opacity="0.62" filter="url(#bl2)"/>
<ellipse cx="317.4" cy="823.5" rx="5.15" ry="13.2" fill="#fff" stroke="#1468d2" stroke-width="0.6" fill-opacity="0.35"/>
<ellipse cx="317.4" cy="823.79" rx="4.2" ry="10.76" fill="#bcd8f5" stroke="#1468d2" stroke-width="0.6" fill-opacity="0.35"/>
<ellipse cx="317.4" cy="824.09" rx="3.24" ry="8.31" fill="#fff" stroke="#1468d2" stroke-width="0.6" fill-opacity="0.35"/>
<ellipse cx="317.4" cy="824.38" rx="2.29" ry="5.87" fill="#bcd8f5" stroke="#1468d2" stroke-width="0.6" fill-opacity="0.35"/>
<ellipse cx="317.4" cy="824.67" rx="1.34" ry="3.42" fill="#fff" stroke="#1468d2" stroke-width="0.6" fill-opacity="0.35"/>
<ellipse cx="317.4" cy="864.5" rx="3.2" ry="2.2" fill="#bcd8f5" stroke="#1468d2" stroke-width="1"/>
</g>
<rect x="360.5" y="773.8" width="90" height="90.3" fill="#fff" stroke="#666" stroke-width="0.6"/>
<path d="M360.5 864.1h-2.4M360.5 857.7h-1.2M360.5 853.96h-1.2M360.5 849.25h-1.2M360.5 846.14h-1.2M360.5 842.85h-2.4M360.5 836.45h-1.2M360.5 832.71h-1.2M360.5 828h-1.2M360.5 824.89h-1.2M360.5 821.6h-2.4M360.5 815.2h-1.2M360.5 811.46h-1.2M360.5 806.75h-1.2M360.5 803.64h-1.2M360.5 800.35h-2.4M360.5 793.95h-1.2M360.5 790.21h-1.2M360.5 785.5h-1.2M360.5 782.39h-1.2M360.5 779.1h-2.4M360.5 864.1v2.4M365.65 864.1v1.2M368.66 864.1v1.2M372.45 864.1v1.2M374.95 864.1v1.2M377.6 864.1v2.4M382.75 864.1v1.2M385.76 864.1v1.2M389.55 864.1v1.2M392.05 864.1v1.2M394.7 864.1v2.4M399.85 864.1v1.2M402.86 864.1v1.2M406.65 864.1v1.2M409.15 864.1v1.2M411.8 864.1v2.4M416.95 864.1v1.2M419.96 864.1v1.2M423.75 864.1v1.2M426.25 864.1v1.2M428.9 864.1v2.4M434.05 864.1v1.2M437.06 864.1v1.2M440.85 864.1v1.2M443.35 864.1v1.2M446 864.1v2.4" fill="none" stroke="#333" stroke-width="0.5"/>
<rect x="406.5" y="777.8" width="35.5" height="26.6" fill="none" stroke="#333" stroke-width="0.65"/>
<text x="365.8" y="816.8" font-size="9.8" fill="#111" stroke="#111" stroke-width=".18">4.8%</text>
<g clip-path="url(#g23)">
<path d="M431.5 783.5 C432.43 783.97 433.48 785.42 433.6 787 C433.72 788.58 432.87 791 432.2 793 C431.53 795 430.2 796.83 429.6 799 C429 801.17 428.4 803.5 428.6 806 C428.8 808.5 430.32 811 430.8 814 C431.28 817 431.63 820.5 431.5 824 C431.37 827.5 430.65 831.33 430 835 C429.35 838.67 428.15 843 427.6 846 C427.05 849 427.08 853 426.7 853 C426.32 853 426.08 848.5 425.3 846 C424.52 843.5 423.38 840.08 422 838 C420.62 835.92 418.37 835.17 417 833.5 C415.63 831.83 414.13 830.42 413.8 828 C413.47 825.58 414.2 822 415 819 C415.8 816 417.5 812.33 418.6 810 C419.7 807.67 420.8 807.17 421.6 805 C422.4 802.83 422.83 799.67 423.4 797 C423.97 794.33 424.23 791.13 425 789 C425.77 786.87 426.92 785.12 428 784.2 C429.08 783.28 430.57 783.03 431.5 783.5Z" fill="#bcd8f5" stroke="#1468d2" stroke-width="1.35" stroke-linejoin="round"/>
<ellipse cx="428.5" cy="790.5" rx="1.8" ry="5" fill="#fff" opacity="0.72" filter="url(#bl1)"/>
<ellipse cx="427.8" cy="794" rx="3" ry="6" fill="#1a72de" opacity="0.55" filter="url(#bl2)"/>
<ellipse cx="424.6" cy="825" rx="5.4" ry="12" fill="#fff" stroke="#1468d2" stroke-width="0.6" fill-opacity="0.35"/>
<ellipse cx="424.6" cy="825.27" rx="4.4" ry="9.78" fill="#bcd8f5" stroke="#1468d2" stroke-width="0.6" fill-opacity="0.35"/>
<ellipse cx="424.6" cy="825.53" rx="3.4" ry="7.56" fill="#fff" stroke="#1468d2" stroke-width="0.6" fill-opacity="0.35"/>
<ellipse cx="424.6" cy="825.8" rx="2.4" ry="5.33" fill="#bcd8f5" stroke="#1468d2" stroke-width="0.6" fill-opacity="0.35"/>
<ellipse cx="424.6" cy="826.07" rx="1.4" ry="3.11" fill="#fff" stroke="#1468d2" stroke-width="0.6" fill-opacity="0.35"/>
<ellipse cx="426.2" cy="864.5" rx="3.2" ry="2.2" fill="#bcd8f5" stroke="#1468d2" stroke-width="1"/>
</g>
<rect x="469.5" y="773.8" width="90" height="90.3" fill="#fff" stroke="#666" stroke-width="0.6"/>
<path d="M469.5 864.1h-2.4M469.5 857.7h-1.2M469.5 853.96h-1.2M469.5 849.25h-1.2M469.5 846.14h-1.2M469.5 842.85h-2.4M469.5 836.45h-1.2M469.5 832.71h-1.2M469.5 828h-1.2M469.5 824.89h-1.2M469.5 821.6h-2.4M469.5 815.2h-1.2M469.5 811.46h-1.2M469.5 806.75h-1.2M469.5 803.64h-1.2M469.5 800.35h-2.4M469.5 793.95h-1.2M469.5 790.21h-1.2M469.5 785.5h-1.2M469.5 782.39h-1.2M469.5 779.1h-2.4M469.5 864.1v2.4M474.65 864.1v1.2M477.66 864.1v1.2M481.45 864.1v1.2M483.95 864.1v1.2M486.6 864.1v2.4M491.75 864.1v1.2M494.76 864.1v1.2M498.55 864.1v1.2M501.05 864.1v1.2M503.7 864.1v2.4M508.85 864.1v1.2M511.86 864.1v1.2M515.65 864.1v1.2M518.15 864.1v1.2M520.8 864.1v2.4M525.95 864.1v1.2M528.96 864.1v1.2M532.75 864.1v1.2M535.25 864.1v1.2M537.9 864.1v2.4M543.05 864.1v1.2M546.06 864.1v1.2M549.85 864.1v1.2M552.35 864.1v1.2M555 864.1v2.4" fill="none" stroke="#333" stroke-width="0.5"/>
<rect x="515.3" y="776.2" width="35.5" height="26.7" fill="none" stroke="#333" stroke-width="0.65"/>
<text x="473.8" y="816.8" font-size="9.8" fill="#111" stroke="#111" stroke-width=".18">11.0%</text>
<g clip-path="url(#g24)">
<path d="M535.68 784.83 C536.49 785.08 537.19 787.16 537.66 788.82 C538.13 790.48 538.5 792.79 538.5 794.81 C538.5 796.82 537.99 798.88 537.66 800.89 C537.33 802.91 536.66 804.2 536.52 806.88 C536.38 809.56 536.87 813.39 536.82 816.96 C536.77 820.53 536.51 825.02 536.22 828.27 C535.93 831.52 535.65 834.16 535.08 836.44 C534.51 838.72 533.33 841 532.8 841.95 C532.27 842.9 532.37 842.6 531.93 842.14 C531.48 841.68 530.85 840.75 530.11 839.2 C529.37 837.64 528.21 834.95 527.47 832.83 C526.73 830.71 525.96 828.78 525.66 826.47 C525.35 824.15 525.48 821.89 525.66 818.96 C525.83 816.02 526.57 811.88 526.7 808.88 C526.83 805.87 526.3 803.4 526.43 800.89 C526.55 798.39 526.86 795.96 527.47 793.86 C528.08 791.76 529.22 789.38 530.11 788.29 C531 787.21 531.87 787.93 532.8 787.35 C533.73 786.77 534.87 784.59 535.68 784.83Z" fill="#bcd8f5" stroke="#1468d2" stroke-width="1.35" stroke-linejoin="round"/>
<ellipse cx="528.9" cy="818" rx="1.32" ry="10" fill="#fff" opacity="0.72" filter="url(#bl1)"/>
<ellipse cx="531.7" cy="798.9" rx="3.9" ry="7.5" fill="#1a72de" opacity="0.62" filter="url(#bl2)"/>
<ellipse cx="532.2" cy="823" rx="3.22" ry="13.2" fill="#fff" stroke="#1468d2" stroke-width="0.6" fill-opacity="0.35"/>
<ellipse cx="532.2" cy="823.29" rx="2.62" ry="10.76" fill="#bcd8f5" stroke="#1468d2" stroke-width="0.6" fill-opacity="0.35"/>
<ellipse cx="532.2" cy="823.59" rx="2.03" ry="8.31" fill="#fff" stroke="#1468d2" stroke-width="0.6" fill-opacity="0.35"/>
<ellipse cx="532.2" cy="823.88" rx="1.43" ry="5.87" fill="#bcd8f5" stroke="#1468d2" stroke-width="0.6" fill-opacity="0.35"/>
<ellipse cx="532.2" cy="824.17" rx="0.83" ry="3.42" fill="#fff" stroke="#1468d2" stroke-width="0.6" fill-opacity="0.35"/>
<ellipse cx="532.2" cy="864.5" rx="3.2" ry="2.2" fill="#bcd8f5" stroke="#1468d2" stroke-width="1"/>
</g>
<rect x="32.5" y="889.3" width="90" height="90.3" fill="#fff" stroke="#666" stroke-width="0.6"/>
<path d="M32.5 979.6h-2.4M32.5 973.2h-1.2M32.5 969.46h-1.2M32.5 964.75h-1.2M32.5 961.64h-1.2M32.5 958.35h-2.4M32.5 951.95h-1.2M32.5 948.21h-1.2M32.5 943.5h-1.2M32.5 940.39h-1.2M32.5 937.1h-2.4M32.5 930.7h-1.2M32.5 926.96h-1.2M32.5 922.25h-1.2M32.5 919.14h-1.2M32.5 915.85h-2.4M32.5 909.45h-1.2M32.5 905.71h-1.2M32.5 901h-1.2M32.5 897.89h-1.2M32.5 894.6h-2.4M32.5 979.6v2.4M37.65 979.6v1.2M40.66 979.6v1.2M44.45 979.6v1.2M46.95 979.6v1.2M49.6 979.6v2.4M54.75 979.6v1.2M57.76 979.6v1.2M61.55 979.6v1.2M64.05 979.6v1.2M66.7 979.6v2.4M71.85 979.6v1.2M74.86 979.6v1.2M78.65 979.6v1.2M81.15 979.6v1.2M83.8 979.6v2.4M88.95 979.6v1.2M91.96 979.6v1.2M95.75 979.6v1.2M98.25 979.6v1.2M100.9 979.6v2.4M106.05 979.6v1.2M109.06 979.6v1.2M112.85 979.6v1.2M115.35 979.6v1.2M118 979.6v2.4" fill="none" stroke="#333" stroke-width="0.5"/>
<rect x="63.4" y="915.4" width="34.4" height="28.1" fill="none" stroke="#333" stroke-width="0.65"/>
<text x="40" y="912" font-size="9.8" fill="#111" stroke="#111" stroke-width=".18">9.4%</text>
<g clip-path="url(#g30)">
<path d="M80.8 928.3 C82.17 928.22 83.83 929.48 84.9 930.8 C85.97 932.12 86.52 934.23 87.2 936.2 C87.88 938.17 88.33 940.48 89 942.6 C89.67 944.72 90.9 946.63 91.2 948.9 C91.5 951.17 91.17 953.78 90.8 956.2 C90.43 958.62 89.6 960.83 89 963.4 C88.4 965.97 87.65 969.33 87.2 971.6 C86.75 973.87 86.08 975.73 86.3 977 C86.52 978.27 91 978.83 88.5 979.2 C86 979.57 73.63 979.53 71.3 979.2 C68.97 978.87 73.13 977.72 74.5 977.2 C75.87 976.68 78.9 977.35 79.5 976.1 C80.1 974.85 78.93 971.67 78.1 969.7 C77.27 967.73 75.63 966.1 74.5 964.3 C73.37 962.5 71.98 960.87 71.3 958.9 C70.62 956.93 70.32 954.77 70.4 952.5 C70.48 950.23 71.27 947.72 71.8 945.3 C72.33 942.88 72.78 940.33 73.6 938 C74.42 935.67 75.5 932.92 76.7 931.3 C77.9 929.68 79.43 928.38 80.8 928.3Z" fill="#efdac6" stroke="#a0500c" stroke-width="1.35" stroke-linejoin="round"/>
<ellipse cx="76.5" cy="954.3" rx="2.6" ry="9" fill="#fff" opacity="0.72" filter="url(#bl1)"/>
<ellipse cx="80.8" cy="936.3" rx="1.2" ry="5" fill="#fff" opacity="0.72" filter="url(#bl1)"/>
<ellipse cx="80.8" cy="939.3" rx="2.6" ry="6.5" fill="#a8601c" opacity="0.6" filter="url(#bl2)"/>
<ellipse cx="84.3" cy="955.8" rx="5.6" ry="13" fill="#fff" stroke="#a0500c" stroke-width="0.6" fill-opacity="0.35"/>
<ellipse cx="84.3" cy="956.09" rx="4.56" ry="10.59" fill="#efdac6" stroke="#a0500c" stroke-width="0.6" fill-opacity="0.35"/>
<ellipse cx="84.3" cy="956.38" rx="3.53" ry="8.19" fill="#fff" stroke="#a0500c" stroke-width="0.6" fill-opacity="0.35"/>
<ellipse cx="84.3" cy="956.67" rx="2.49" ry="5.78" fill="#efdac6" stroke="#a0500c" stroke-width="0.6" fill-opacity="0.35"/>
<ellipse cx="84.3" cy="956.96" rx="1.45" ry="3.37" fill="#fff" stroke="#a0500c" stroke-width="0.6" fill-opacity="0.35"/>
</g>
<rect x="143" y="889.3" width="90" height="90.3" fill="#fff" stroke="#666" stroke-width="0.6"/>
<path d="M143 979.6h-2.4M143 973.2h-1.2M143 969.46h-1.2M143 964.75h-1.2M143 961.64h-1.2M143 958.35h-2.4M143 951.95h-1.2M143 948.21h-1.2M143 943.5h-1.2M143 940.39h-1.2M143 937.1h-2.4M143 930.7h-1.2M143 926.96h-1.2M143 922.25h-1.2M143 919.14h-1.2M143 915.85h-2.4M143 909.45h-1.2M143 905.71h-1.2M143 901h-1.2M143 897.89h-1.2M143 894.6h-2.4M143 979.6v2.4M148.15 979.6v1.2M151.16 979.6v1.2M154.95 979.6v1.2M157.45 979.6v1.2M160.1 979.6v2.4M165.25 979.6v1.2M168.26 979.6v1.2M172.05 979.6v1.2M174.55 979.6v1.2M177.2 979.6v2.4M182.35 979.6v1.2M185.36 979.6v1.2M189.15 979.6v1.2M191.65 979.6v1.2M194.3 979.6v2.4M199.45 979.6v1.2M202.46 979.6v1.2M206.25 979.6v1.2M208.75 979.6v1.2M211.4 979.6v2.4M216.55 979.6v1.2M219.56 979.6v1.2M223.35 979.6v1.2M225.85 979.6v1.2M228.5 979.6v2.4" fill="none" stroke="#333" stroke-width="0.5"/>
<rect x="173.9" y="915.4" width="34.4" height="28.1" fill="none" stroke="#333" stroke-width="0.65"/>
<text x="148" y="912" font-size="9.8" fill="#111" stroke="#111" stroke-width=".18">13.7%</text>
<g clip-path="url(#g31)">
<path d="M191.1 928.3 C192.47 928.22 194.13 929.48 195.2 930.8 C196.27 932.12 196.82 934.23 197.5 936.2 C198.18 938.17 198.63 940.48 199.3 942.6 C199.97 944.72 201.2 946.63 201.5 948.9 C201.8 951.17 201.47 953.78 201.1 956.2 C200.73 958.62 199.9 960.83 199.3 963.4 C198.7 965.97 197.95 969.33 197.5 971.6 C197.05 973.87 196.38 975.73 196.6 977 C196.82 978.27 201.3 978.83 198.8 979.2 C196.3 979.57 183.93 979.53 181.6 979.2 C179.27 978.87 183.43 977.72 184.8 977.2 C186.17 976.68 189.2 977.35 189.8 976.1 C190.4 974.85 189.23 971.67 188.4 969.7 C187.57 967.73 185.93 966.1 184.8 964.3 C183.67 962.5 182.28 960.87 181.6 958.9 C180.92 956.93 180.62 954.77 180.7 952.5 C180.78 950.23 181.57 947.72 182.1 945.3 C182.63 942.88 183.08 940.33 183.9 938 C184.72 935.67 185.8 932.92 187 931.3 C188.2 929.68 189.73 928.38 191.1 928.3Z" fill="#efdac6" stroke="#a0500c" stroke-width="1.35" stroke-linejoin="round"/>
<ellipse cx="186.8" cy="954.3" rx="2.6" ry="9" fill="#fff" opacity="0.72" filter="url(#bl1)"/>
<ellipse cx="191.1" cy="936.3" rx="1.2" ry="5" fill="#fff" opacity="0.72" filter="url(#bl1)"/>
<ellipse cx="191.1" cy="939.3" rx="2.6" ry="6.5" fill="#a8601c" opacity="0.6" filter="url(#bl2)"/>
<ellipse cx="194.6" cy="955.8" rx="5.6" ry="13" fill="#fff" stroke="#a0500c" stroke-width="0.6" fill-opacity="0.35"/>
<ellipse cx="194.6" cy="956.09" rx="4.56" ry="10.59" fill="#efdac6" stroke="#a0500c" stroke-width="0.6" fill-opacity="0.35"/>
<ellipse cx="194.6" cy="956.38" rx="3.53" ry="8.19" fill="#fff" stroke="#a0500c" stroke-width="0.6" fill-opacity="0.35"/>
<ellipse cx="194.6" cy="956.67" rx="2.49" ry="5.78" fill="#efdac6" stroke="#a0500c" stroke-width="0.6" fill-opacity="0.35"/>
<ellipse cx="194.6" cy="956.96" rx="1.45" ry="3.37" fill="#fff" stroke="#a0500c" stroke-width="0.6" fill-opacity="0.35"/>
</g>
<rect x="252.8" y="889.3" width="90" height="90.3" fill="#fff" stroke="#666" stroke-width="0.6"/>
<path d="M252.8 979.6h-2.4M252.8 973.2h-1.2M252.8 969.46h-1.2M252.8 964.75h-1.2M252.8 961.64h-1.2M252.8 958.35h-2.4M252.8 951.95h-1.2M252.8 948.21h-1.2M252.8 943.5h-1.2M252.8 940.39h-1.2M252.8 937.1h-2.4M252.8 930.7h-1.2M252.8 926.96h-1.2M252.8 922.25h-1.2M252.8 919.14h-1.2M252.8 915.85h-2.4M252.8 909.45h-1.2M252.8 905.71h-1.2M252.8 901h-1.2M252.8 897.89h-1.2M252.8 894.6h-2.4M252.8 979.6v2.4M257.95 979.6v1.2M260.96 979.6v1.2M264.75 979.6v1.2M267.25 979.6v1.2M269.9 979.6v2.4M275.05 979.6v1.2M278.06 979.6v1.2M281.85 979.6v1.2M284.35 979.6v1.2M287 979.6v2.4M292.15 979.6v1.2M295.16 979.6v1.2M298.95 979.6v1.2M301.45 979.6v1.2M304.1 979.6v2.4M309.25 979.6v1.2M312.26 979.6v1.2M316.05 979.6v1.2M318.55 979.6v1.2M321.2 979.6v2.4M326.35 979.6v1.2M329.36 979.6v1.2M333.15 979.6v1.2M335.65 979.6v1.2M338.3 979.6v2.4" fill="none" stroke="#333" stroke-width="0.5"/>
<rect x="283.5" y="915.4" width="34.2" height="28.1" fill="none" stroke="#333" stroke-width="0.65"/>
<text x="259.7" y="912" font-size="9.8" fill="#111" stroke="#111" stroke-width=".18">18.1%</text>
<g clip-path="url(#g32)">
<path d="M298.92 922.68 C300.46 922.58 302.34 924.05 303.58 925.58 C304.82 927.11 305.52 929.56 306.34 931.84 C307.16 934.13 307.7 936.81 308.5 939.27 C309.3 941.72 310.78 943.97 311.14 946.58 C311.5 949.18 311.1 952.31 310.66 954.9 C310.22 957.49 309.22 959.53 308.5 962.1 C307.78 964.67 306.88 968.03 306.34 970.3 C305.8 972.57 305 974.43 305.26 975.7 C305.52 976.97 310.73 977.53 307.9 977.9 C305.07 978.27 290.95 978.23 288.28 977.9 C285.6 977.57 290.33 976.42 291.86 975.9 C293.39 975.38 296.79 976.05 297.46 974.8 C298.13 973.55 296.83 970.37 295.89 968.4 C294.96 966.43 293.13 964.8 291.86 963 C290.59 961.2 289.04 959.64 288.28 957.6 C287.51 955.56 287.17 953.29 287.27 950.75 C287.36 948.22 288.24 945.2 288.84 942.4 C289.43 939.6 289.94 936.64 290.85 933.93 C291.77 931.23 292.98 928.04 294.32 926.16 C295.67 924.28 297.37 922.78 298.92 922.68Z" fill="#efdac6" stroke="#a0500c" stroke-width="1.35" stroke-linejoin="round"/>
<ellipse cx="294.1" cy="953" rx="2.91" ry="9" fill="#fff" opacity="0.72" filter="url(#bl1)"/>
<ellipse cx="298.92" cy="931.96" rx="1.2" ry="5.8" fill="#fff" opacity="0.72" filter="url(#bl1)"/>
<ellipse cx="298.92" cy="935.44" rx="2.91" ry="7.54" fill="#a8601c" opacity="0.6" filter="url(#bl2)"/>
<ellipse cx="302.8" cy="954.5" rx="6.72" ry="13" fill="#fff" stroke="#a0500c" stroke-width="0.6" fill-opacity="0.35"/>
<ellipse cx="302.8" cy="954.79" rx="5.48" ry="10.59" fill="#efdac6" stroke="#a0500c" stroke-width="0.6" fill-opacity="0.35"/>
<ellipse cx="302.8" cy="955.08" rx="4.23" ry="8.19" fill="#fff" stroke="#a0500c" stroke-width="0.6" fill-opacity="0.35"/>
<ellipse cx="302.8" cy="955.37" rx="2.99" ry="5.78" fill="#efdac6" stroke="#a0500c" stroke-width="0.6" fill-opacity="0.35"/>
<ellipse cx="302.8" cy="955.66" rx="1.74" ry="3.37" fill="#fff" stroke="#a0500c" stroke-width="0.6" fill-opacity="0.35"/>
</g>
<rect x="360.5" y="889.3" width="90" height="90.3" fill="#fff" stroke="#666" stroke-width="0.6"/>
<path d="M360.5 979.6h-2.4M360.5 973.2h-1.2M360.5 969.46h-1.2M360.5 964.75h-1.2M360.5 961.64h-1.2M360.5 958.35h-2.4M360.5 951.95h-1.2M360.5 948.21h-1.2M360.5 943.5h-1.2M360.5 940.39h-1.2M360.5 937.1h-2.4M360.5 930.7h-1.2M360.5 926.96h-1.2M360.5 922.25h-1.2M360.5 919.14h-1.2M360.5 915.85h-2.4M360.5 909.45h-1.2M360.5 905.71h-1.2M360.5 901h-1.2M360.5 897.89h-1.2M360.5 894.6h-2.4M360.5 979.6v2.4M365.65 979.6v1.2M368.66 979.6v1.2M372.45 979.6v1.2M374.95 979.6v1.2M377.6 979.6v2.4M382.75 979.6v1.2M385.76 979.6v1.2M389.55 979.6v1.2M392.05 979.6v1.2M394.7 979.6v2.4M399.85 979.6v1.2M402.86 979.6v1.2M406.65 979.6v1.2M409.15 979.6v1.2M411.8 979.6v2.4M416.95 979.6v1.2M419.96 979.6v1.2M423.75 979.6v1.2M426.25 979.6v1.2M428.9 979.6v2.4M434.05 979.6v1.2M437.06 979.6v1.2M440.85 979.6v1.2M443.35 979.6v1.2M446 979.6v2.4" fill="none" stroke="#333" stroke-width="0.5"/>
<rect x="390.2" y="915.4" width="34.8" height="28.1" fill="none" stroke="#333" stroke-width="0.65"/>
<text x="365" y="912" font-size="9.8" fill="#111" stroke="#111" stroke-width=".18">22.2%</text>
<g clip-path="url(#g33)">
<path d="M405.64 918.75 C407.1 918.65 408.88 920.23 410.08 921.88 C411.28 923.52 412.02 926.17 412.84 928.63 C413.66 931.08 414.2 933.98 415 936.63 C415.8 939.27 417.28 941.7 417.64 944.5 C418 947.3 417.6 950.72 417.16 953.4 C416.72 956.08 415.72 958.03 415 960.6 C414.28 963.17 413.38 966.53 412.84 968.8 C412.3 971.07 411.5 972.93 411.76 974.2 C412.02 975.47 417.08 976.03 414.4 976.4 C411.72 976.77 398.23 976.73 395.67 976.4 C393.1 976.07 397.59 974.92 399.02 974.4 C400.46 973.88 403.64 974.55 404.27 973.3 C404.9 972.05 403.68 968.87 402.81 966.9 C401.93 964.93 400.21 963.3 399.02 961.5 C397.83 959.7 396.38 958.18 395.67 956.1 C394.95 954.02 394.63 951.68 394.72 949 C394.81 946.32 395.63 943.02 396.19 940 C396.75 936.98 397.22 933.79 398.08 930.88 C398.94 927.96 400.07 924.52 401.33 922.5 C402.59 920.48 404.18 918.85 405.64 918.75Z" fill="#efdac6" stroke="#a0500c" stroke-width="1.35" stroke-linejoin="round"/>
<ellipse cx="401.12" cy="951.5" rx="2.73" ry="9" fill="#fff" opacity="0.72" filter="url(#bl1)"/>
<ellipse cx="405.64" cy="928.75" rx="1.2" ry="6.25" fill="#fff" opacity="0.72" filter="url(#bl1)"/>
<ellipse cx="405.64" cy="932.5" rx="2.73" ry="8.12" fill="#a8601c" opacity="0.6" filter="url(#bl2)"/>
<ellipse cx="409.3" cy="953" rx="6.72" ry="13" fill="#fff" stroke="#a0500c" stroke-width="0.6" fill-opacity="0.35"/>
<ellipse cx="409.3" cy="953.29" rx="5.48" ry="10.59" fill="#efdac6" stroke="#a0500c" stroke-width="0.6" fill-opacity="0.35"/>
<ellipse cx="409.3" cy="953.58" rx="4.23" ry="8.19" fill="#fff" stroke="#a0500c" stroke-width="0.6" fill-opacity="0.35"/>
<ellipse cx="409.3" cy="953.87" rx="2.99" ry="5.78" fill="#efdac6" stroke="#a0500c" stroke-width="0.6" fill-opacity="0.35"/>
<ellipse cx="409.3" cy="954.16" rx="1.74" ry="3.37" fill="#fff" stroke="#a0500c" stroke-width="0.6" fill-opacity="0.35"/>
</g>
<rect x="469.5" y="889.3" width="90" height="90.3" fill="#fff" stroke="#666" stroke-width="0.6"/>
<path d="M469.5 979.6h-2.4M469.5 973.2h-1.2M469.5 969.46h-1.2M469.5 964.75h-1.2M469.5 961.64h-1.2M469.5 958.35h-2.4M469.5 951.95h-1.2M469.5 948.21h-1.2M469.5 943.5h-1.2M469.5 940.39h-1.2M469.5 937.1h-2.4M469.5 930.7h-1.2M469.5 926.96h-1.2M469.5 922.25h-1.2M469.5 919.14h-1.2M469.5 915.85h-2.4M469.5 909.45h-1.2M469.5 905.71h-1.2M469.5 901h-1.2M469.5 897.89h-1.2M469.5 894.6h-2.4M469.5 979.6v2.4M474.65 979.6v1.2M477.66 979.6v1.2M481.45 979.6v1.2M483.95 979.6v1.2M486.6 979.6v2.4M491.75 979.6v1.2M494.76 979.6v1.2M498.55 979.6v1.2M501.05 979.6v1.2M503.7 979.6v2.4M508.85 979.6v1.2M511.86 979.6v1.2M515.65 979.6v1.2M518.15 979.6v1.2M520.8 979.6v2.4M525.95 979.6v1.2M528.96 979.6v1.2M532.75 979.6v1.2M535.25 979.6v1.2M537.9 979.6v2.4M543.05 979.6v1.2M546.06 979.6v1.2M549.85 979.6v1.2M552.35 979.6v1.2M555 979.6v2.4" fill="none" stroke="#333" stroke-width="0.5"/>
<rect x="499" y="915.4" width="34.8" height="28.1" fill="none" stroke="#333" stroke-width="0.65"/>
<text x="473.8" y="912" font-size="9.8" fill="#111" stroke="#111" stroke-width=".18">15.7%</text>
<g clip-path="url(#g34)">
<path d="M514.8 922.14 C516.18 922.04 517.87 923.54 518.99 925.09 C520.11 926.64 520.77 929.14 521.52 931.46 C522.27 933.78 522.77 936.52 523.5 939.01 C524.23 941.51 525.59 943.8 525.92 946.45 C526.25 949.1 525.88 952.29 525.48 954.9 C525.08 957.51 524.16 959.53 523.5 962.1 C522.84 964.67 522.01 968.03 521.52 970.3 C521.02 972.57 520.29 974.43 520.53 975.7 C520.77 976.97 525.49 977.53 522.95 977.9 C520.41 978.27 507.71 978.23 505.3 977.9 C502.89 977.57 507.13 976.42 508.5 975.9 C509.87 975.38 512.9 976.05 513.5 974.8 C514.1 973.55 512.93 970.37 512.1 968.4 C511.27 966.43 509.63 964.8 508.5 963 C507.37 961.2 505.98 959.65 505.3 957.6 C504.62 955.55 504.32 953.26 504.4 950.7 C504.48 948.13 505.27 945.05 505.8 942.2 C506.33 939.35 506.78 936.34 507.6 933.59 C508.42 930.83 509.5 927.59 510.7 925.68 C511.9 923.77 513.42 922.24 514.8 922.14Z" fill="#efdac6" stroke="#a0500c" stroke-width="1.35" stroke-linejoin="round"/>
<ellipse cx="510.5" cy="953" rx="2.6" ry="9" fill="#fff" opacity="0.72" filter="url(#bl1)"/>
<ellipse cx="514.8" cy="931.58" rx="1.2" ry="5.9" fill="#fff" opacity="0.72" filter="url(#bl1)"/>
<ellipse cx="514.8" cy="935.12" rx="2.6" ry="7.67" fill="#a8601c" opacity="0.6" filter="url(#bl2)"/>
<ellipse cx="518.3" cy="954.5" rx="6.16" ry="13" fill="#fff" stroke="#a0500c" stroke-width="0.6" fill-opacity="0.35"/>
<ellipse cx="518.3" cy="954.79" rx="5.02" ry="10.59" fill="#efdac6" stroke="#a0500c" stroke-width="0.6" fill-opacity="0.35"/>
<ellipse cx="518.3" cy="955.08" rx="3.88" ry="8.19" fill="#fff" stroke="#a0500c" stroke-width="0.6" fill-opacity="0.35"/>
<ellipse cx="518.3" cy="955.37" rx="2.74" ry="5.78" fill="#efdac6" stroke="#a0500c" stroke-width="0.6" fill-opacity="0.35"/>
<ellipse cx="518.3" cy="955.66" rx="1.6" ry="3.37" fill="#fff" stroke="#a0500c" stroke-width="0.6" fill-opacity="0.35"/>
</g>
<text x="574.6" y="333.6" font-size="17.5" font-weight="bold" fill="#231f20" stroke="#231f20" stroke-width=".18">h</text>
<rect x="614" y="330.5" width="161" height="142.5" fill="none" stroke="#1a1a1a" stroke-width="0.7"/>
<line x1="610" y1="330.5" x2="614" y2="330.5" stroke="#1a1a1a" stroke-width="0.7"/>
<text x="607.5" y="334" font-size="9.8" text-anchor="end" fill="#111" stroke="#111" stroke-width=".18">90</text>
<line x1="610" y1="377.5" x2="614" y2="377.5" stroke="#1a1a1a" stroke-width="0.7"/>
<text x="607.5" y="381" font-size="9.8" text-anchor="end" fill="#111" stroke="#111" stroke-width=".18">60</text>
<line x1="610" y1="425" x2="614" y2="425" stroke="#1a1a1a" stroke-width="0.7"/>
<text x="607.5" y="428.5" font-size="9.8" text-anchor="end" fill="#111" stroke="#111" stroke-width=".18">30</text>
<line x1="610" y1="473" x2="614" y2="473" stroke="#1a1a1a" stroke-width="0.7"/>
<text x="607.5" y="476.5" font-size="9.8" text-anchor="end" fill="#111" stroke="#111" stroke-width=".18">0</text>
<line x1="634" y1="473" x2="634" y2="476" stroke="#1a1a1a" stroke-width="0.7"/>
<rect x="624.5" y="366" width="19" height="107" fill="#9a9a9e" stroke="#404040" stroke-width="1.3"/>
<line x1="634" y1="358.5" x2="634" y2="373" stroke="#404040" stroke-width="1.2"/>
<line x1="629.2" y1="358.5" x2="638.8" y2="358.5" stroke="#404040" stroke-width="1.2"/>
<line x1="629.2" y1="373" x2="638.8" y2="373" stroke="#404040" stroke-width="1.2"/>
<circle cx="629" cy="358" r="2.3" fill="#404040"/>
<circle cx="639" cy="360.5" r="2.3" fill="#404040"/>
<circle cx="628.5" cy="368" r="2.3" fill="#404040"/>
<circle cx="639.5" cy="367" r="2.3" fill="#404040"/>
<circle cx="633.5" cy="377.5" r="2.3" fill="#404040"/>
<line x1="664" y1="473" x2="664" y2="476" stroke="#1a1a1a" stroke-width="0.7"/>
<rect x="654.5" y="371" width="19" height="102" fill="#ff9c9c" stroke="#ff0d0d" stroke-width="1.3"/>
<line x1="664" y1="361" x2="664" y2="380" stroke="#ff0d0d" stroke-width="1.2"/>
<line x1="659.2" y1="361" x2="668.8" y2="361" stroke="#ff0d0d" stroke-width="1.2"/>
<line x1="659.2" y1="380" x2="668.8" y2="380" stroke="#ff0d0d" stroke-width="1.2"/>
<circle cx="659" cy="362" r="2.3" fill="#ff0d0d"/>
<circle cx="669" cy="364.5" r="2.3" fill="#ff0d0d"/>
<circle cx="659" cy="368" r="2.3" fill="#ff0d0d"/>
<circle cx="664" cy="374.5" r="2.3" fill="#ff0d0d"/>
<circle cx="664" cy="386" r="2.3" fill="#ff0d0d"/>
<line x1="694" y1="473" x2="694" y2="476" stroke="#1a1a1a" stroke-width="0.7"/>
<rect x="684.5" y="378" width="19" height="95" fill="#8ab8f5" stroke="#0a1fd0" stroke-width="1.3"/>
<line x1="694" y1="372" x2="694" y2="383" stroke="#0a1fd0" stroke-width="1.2"/>
<line x1="689.2" y1="372" x2="698.8" y2="372" stroke="#0a1fd0" stroke-width="1.2"/>
<line x1="689.2" y1="383" x2="698.8" y2="383" stroke="#0a1fd0" stroke-width="1.2"/>
<circle cx="689" cy="372.5" r="2.3" fill="#0a1fd0"/>
<circle cx="699" cy="373.5" r="2.3" fill="#0a1fd0"/>
<circle cx="689.5" cy="380.5" r="2.3" fill="#0a1fd0"/>
<circle cx="699.5" cy="381.5" r="2.3" fill="#0a1fd0"/>
<circle cx="694.5" cy="386" r="2.3" fill="#0a1fd0"/>
<line x1="724" y1="473" x2="724" y2="476" stroke="#1a1a1a" stroke-width="0.7"/>
<rect x="714.5" y="388" width="19" height="85" fill="#a6f7a0" stroke="#0dc40d" stroke-width="1.3"/>
<line x1="724" y1="377.5" x2="724" y2="397" stroke="#0dc40d" stroke-width="1.2"/>
<line x1="719.2" y1="377.5" x2="728.8" y2="377.5" stroke="#0dc40d" stroke-width="1.2"/>
<line x1="719.2" y1="397" x2="728.8" y2="397" stroke="#0dc40d" stroke-width="1.2"/>
<circle cx="724" cy="376.5" r="2.3" fill="#0dc40d"/>
<circle cx="719" cy="386" r="2.3" fill="#0dc40d"/>
<circle cx="729.5" cy="382" r="2.3" fill="#0dc40d"/>
<circle cx="724.5" cy="391" r="2.3" fill="#0dc40d"/>
<circle cx="724" cy="402.5" r="2.3" fill="#0dc40d"/>
<line x1="754" y1="473" x2="754" y2="476" stroke="#1a1a1a" stroke-width="0.7"/>
<rect x="744.5" y="375" width="19" height="98" fill="#dc8cf2" stroke="#7a1aa5" stroke-width="1.3"/>
<line x1="754" y1="369" x2="754" y2="380.5" stroke="#7a1aa5" stroke-width="1.2"/>
<line x1="749.2" y1="369" x2="758.8" y2="369" stroke="#7a1aa5" stroke-width="1.2"/>
<line x1="749.2" y1="380.5" x2="758.8" y2="380.5" stroke="#7a1aa5" stroke-width="1.2"/>
<circle cx="749.5" cy="367.5" r="2.3" fill="#7a1aa5"/>
<circle cx="759.5" cy="372" r="2.3" fill="#7a1aa5"/>
<circle cx="750" cy="377" r="2.3" fill="#7a1aa5"/>
<circle cx="760" cy="378" r="2.3" fill="#7a1aa5"/>
<circle cx="754.5" cy="382.5" r="2.3" fill="#7a1aa5"/>
<text font-size="9.6" text-anchor="middle" fill="#111" stroke="#111" stroke-width=".18" letter-spacing="-0.15" transform="translate(584.6 404) rotate(-90)">CD4<tspan font-size="6" dy="-3.2">+</tspan><tspan dy="3.2">&#8203;</tspan> in CD3<tspan font-size="6" dy="-3.2">+</tspan><tspan dy="3.2">&#8203;</tspan>T cells (%)</text>
<line x1="633" y1="341" x2="725" y2="341" stroke="#1a1a1a" stroke-width="0.7"/>
<line x1="725" y1="341" x2="725" y2="371.5" stroke="#1a1a1a" stroke-width="0.7"/>
<line x1="663.5" y1="356.5" x2="725" y2="356.5" stroke="#1a1a1a" stroke-width="0.7"/>
<text x="655.5" y="338.5" font-size="8.1" fill="#222" stroke="#222" stroke-width=".18" letter-spacing="-0.25"><tspan font-size="5.2" dy="-1.2" letter-spacing="0">★★</tspan><tspan dy="1.2"> </tspan><tspan font-style="italic">P</tspan> = 0.0020</text>
<text x="665" y="354.5" font-size="8.1" fill="#222" stroke="#222" stroke-width=".18" letter-spacing="-0.25"><tspan font-size="5.2" dy="-1.2" letter-spacing="0">★</tspan><tspan dy="1.2"> </tspan><tspan font-style="italic">P</tspan> = 0.0177</text>
<rect x="614" y="486.5" width="161" height="143.5" fill="none" stroke="#1a1a1a" stroke-width="0.7"/>
<line x1="610" y1="486.5" x2="614" y2="486.5" stroke="#1a1a1a" stroke-width="0.7"/>
<text x="607.5" y="490" font-size="9.8" text-anchor="end" fill="#111" stroke="#111" stroke-width=".18">40</text>
<line x1="610" y1="522.5" x2="614" y2="522.5" stroke="#1a1a1a" stroke-width="0.7"/>
<text x="607.5" y="526" font-size="9.8" text-anchor="end" fill="#111" stroke="#111" stroke-width=".18">30</text>
<line x1="610" y1="558.5" x2="614" y2="558.5" stroke="#1a1a1a" stroke-width="0.7"/>
<text x="607.5" y="562" font-size="9.8" text-anchor="end" fill="#111" stroke="#111" stroke-width=".18">20</text>
<line x1="610" y1="594.25" x2="614" y2="594.25" stroke="#1a1a1a" stroke-width="0.7"/>
<text x="607.5" y="597.75" font-size="9.8" text-anchor="end" fill="#111" stroke="#111" stroke-width=".18">10</text>
<line x1="610" y1="630" x2="614" y2="630" stroke="#1a1a1a" stroke-width="0.7"/>
<text x="607.5" y="633.5" font-size="9.8" text-anchor="end" fill="#111" stroke="#111" stroke-width=".18">0</text>
<line x1="634" y1="630" x2="634" y2="633" stroke="#1a1a1a" stroke-width="0.7"/>
<rect x="624.5" y="539.5" width="19" height="90.5" fill="#9a9a9e" stroke="#404040" stroke-width="1.3"/>
<line x1="634" y1="530" x2="634" y2="548.5" stroke="#404040" stroke-width="1.2"/>
<line x1="629.2" y1="530" x2="638.8" y2="530" stroke="#404040" stroke-width="1.2"/>
<line x1="629.2" y1="548.5" x2="638.8" y2="548.5" stroke="#404040" stroke-width="1.2"/>
<circle cx="633.5" cy="525.5" r="2.3" fill="#404040"/>
<circle cx="628" cy="539" r="2.3" fill="#404040"/>
<circle cx="639" cy="535" r="2.3" fill="#404040"/>
<circle cx="628.5" cy="547.5" r="2.3" fill="#404040"/>
<circle cx="639" cy="547.5" r="2.3" fill="#404040"/>
<line x1="664" y1="630" x2="664" y2="633" stroke="#1a1a1a" stroke-width="0.7"/>
<rect x="654.5" y="550" width="19" height="80" fill="#ff9c9c" stroke="#ff0d0d" stroke-width="1.3"/>
<line x1="664" y1="541.5" x2="664" y2="557.5" stroke="#ff0d0d" stroke-width="1.2"/>
<line x1="659.2" y1="541.5" x2="668.8" y2="541.5" stroke="#ff0d0d" stroke-width="1.2"/>
<line x1="659.2" y1="557.5" x2="668.8" y2="557.5" stroke="#ff0d0d" stroke-width="1.2"/>
<circle cx="659" cy="542" r="2.3" fill="#ff0d0d"/>
<circle cx="669" cy="542.5" r="2.3" fill="#ff0d0d"/>
<circle cx="658.5" cy="551.5" r="2.3" fill="#ff0d0d"/>
<circle cx="669.5" cy="551" r="2.3" fill="#ff0d0d"/>
<circle cx="664" cy="561.5" r="2.3" fill="#ff0d0d"/>
<line x1="694" y1="630" x2="694" y2="633" stroke="#1a1a1a" stroke-width="0.7"/>
<rect x="684.5" y="587" width="19" height="43" fill="#8ab8f5" stroke="#0a1fd0" stroke-width="1.3"/>
<line x1="694" y1="570" x2="694" y2="602" stroke="#0a1fd0" stroke-width="1.2"/>
<line x1="689.2" y1="570" x2="698.8" y2="570" stroke="#0a1fd0" stroke-width="1.2"/>
<line x1="689.2" y1="602" x2="698.8" y2="602" stroke="#0a1fd0" stroke-width="1.2"/>
<circle cx="689.5" cy="569.5" r="2.3" fill="#0a1fd0"/>
<circle cx="699.5" cy="573" r="2.3" fill="#0a1fd0"/>
<circle cx="694.5" cy="587.5" r="2.3" fill="#0a1fd0"/>
<circle cx="694.5" cy="592" r="2.3" fill="#0a1fd0"/>
<circle cx="694.5" cy="609.5" r="2.3" fill="#0a1fd0"/>
<line x1="724" y1="630" x2="724" y2="633" stroke="#1a1a1a" stroke-width="0.7"/>
<rect x="714.5" y="609" width="19" height="21" fill="#a6f7a0" stroke="#0dc40d" stroke-width="1.3"/>
<line x1="724" y1="600" x2="724" y2="617" stroke="#0dc40d" stroke-width="1.2"/>
<line x1="719.2" y1="600" x2="728.8" y2="600" stroke="#0dc40d" stroke-width="1.2"/>
<line x1="719.2" y1="617" x2="728.8" y2="617" stroke="#0dc40d" stroke-width="1.2"/>
<circle cx="719" cy="601" r="2.3" fill="#0dc40d"/>
<circle cx="729.5" cy="598" r="2.3" fill="#0dc40d"/>
<circle cx="719.5" cy="613" r="2.3" fill="#0dc40d"/>
<circle cx="730.5" cy="614.25" r="2.3" fill="#0dc40d"/>
<circle cx="720" cy="617.5" r="2.3" fill="#0dc40d"/>
<line x1="754" y1="630" x2="754" y2="633" stroke="#1a1a1a" stroke-width="0.7"/>
<rect x="744.5" y="548" width="19" height="82" fill="#dc8cf2" stroke="#7a1aa5" stroke-width="1.3"/>
<line x1="754" y1="540.5" x2="754" y2="554.5" stroke="#7a1aa5" stroke-width="1.2"/>
<line x1="749.2" y1="540.5" x2="758.8" y2="540.5" stroke="#7a1aa5" stroke-width="1.2"/>
<line x1="749.2" y1="554.5" x2="758.8" y2="554.5" stroke="#7a1aa5" stroke-width="1.2"/>
<circle cx="749.5" cy="539.5" r="2.3" fill="#7a1aa5"/>
<circle cx="760" cy="540.5" r="2.3" fill="#7a1aa5"/>
<circle cx="750.5" cy="549" r="2.3" fill="#7a1aa5"/>
<circle cx="760" cy="551.5" r="2.3" fill="#7a1aa5"/>
<circle cx="755" cy="555.5" r="2.3" fill="#7a1aa5"/>
<text font-size="9.6" text-anchor="middle" fill="#111" stroke="#111" stroke-width=".18" letter-spacing="-0.15" transform="translate(584.6 560) rotate(-90)">IFN-<tspan font-style="italic">γ</tspan><tspan font-size="6" dy="-3.2">+</tspan><tspan dy="3.2">&#8203;</tspan> in CD8<tspan font-size="6" dy="-3.2">+</tspan><tspan dy="3.2">&#8203;</tspan>T cells (%)</text>
<line x1="631" y1="517" x2="725.5" y2="517" stroke="#1a1a1a" stroke-width="0.7"/>
<line x1="725.5" y1="517" x2="725.5" y2="565.5" stroke="#1a1a1a" stroke-width="0.7"/>
<line x1="662" y1="532" x2="725.5" y2="532" stroke="#1a1a1a" stroke-width="0.7"/>
<line x1="693" y1="548.5" x2="725.5" y2="548.5" stroke="#1a1a1a" stroke-width="0.7"/>
<line x1="726" y1="507.5" x2="755" y2="507.5" stroke="#1a1a1a" stroke-width="0.7"/>
<text x="637" y="511.5" font-size="8.1" fill="#222" stroke="#222" stroke-width=".18" letter-spacing="-0.25"><tspan font-size="5.2" dy="-1.2" letter-spacing="0">★★★★</tspan><tspan dy="1.2"> </tspan><tspan font-style="italic">P</tspan> &lt; 0.0001</text>
<text x="656.5" y="529" font-size="8.1" fill="#222" stroke="#222" stroke-width=".18" letter-spacing="-0.25"><tspan font-size="5.2" dy="-1.2" letter-spacing="0">★★★★</tspan><tspan dy="1.2"> </tspan><tspan font-style="italic">P</tspan> &lt; 0.0001</text>
<text x="674" y="545.5" font-size="8.1" fill="#222" stroke="#222" stroke-width=".18" letter-spacing="-0.25"><tspan font-size="5.2" dy="-1.2" letter-spacing="0">★</tspan><tspan dy="1.2"> </tspan><tspan font-style="italic">P</tspan> = 0.0197</text>
<text x="706.5" y="501" font-size="8.1" fill="#222" stroke="#222" stroke-width=".18" letter-spacing="-0.25"><tspan font-size="5.2" dy="-1.2" letter-spacing="0">★★★★</tspan><tspan dy="1.2"> </tspan><tspan font-style="italic">P</tspan> &lt; 0.0001</text>
<rect x="614" y="643.5" width="161" height="143.5" fill="none" stroke="#1a1a1a" stroke-width="0.7"/>
<line x1="610" y1="643.5" x2="614" y2="643.5" stroke="#1a1a1a" stroke-width="0.7"/>
<text x="607.5" y="647" font-size="9.8" text-anchor="end" fill="#111" stroke="#111" stroke-width=".18">20</text>
<line x1="610" y1="679.5" x2="614" y2="679.5" stroke="#1a1a1a" stroke-width="0.7"/>
<text x="607.5" y="683" font-size="9.8" text-anchor="end" fill="#111" stroke="#111" stroke-width=".18">15</text>
<line x1="610" y1="715.25" x2="614" y2="715.25" stroke="#1a1a1a" stroke-width="0.7"/>
<text x="607.5" y="718.75" font-size="9.8" text-anchor="end" fill="#111" stroke="#111" stroke-width=".18">10</text>
<line x1="610" y1="751" x2="614" y2="751" stroke="#1a1a1a" stroke-width="0.7"/>
<text x="607.5" y="754.5" font-size="9.8" text-anchor="end" fill="#111" stroke="#111" stroke-width=".18">5</text>
<line x1="610" y1="787" x2="614" y2="787" stroke="#1a1a1a" stroke-width="0.7"/>
<text x="607.5" y="790.5" font-size="9.8" text-anchor="end" fill="#111" stroke="#111" stroke-width=".18">0</text>
<line x1="634" y1="787" x2="634" y2="790" stroke="#1a1a1a" stroke-width="0.7"/>
<rect x="624.5" y="679.5" width="19" height="107.5" fill="#9a9a9e" stroke="#404040" stroke-width="1.3"/>
<line x1="634" y1="661.5" x2="634" y2="695.5" stroke="#404040" stroke-width="1.2"/>
<line x1="629.2" y1="661.5" x2="638.8" y2="661.5" stroke="#404040" stroke-width="1.2"/>
<line x1="629.2" y1="695.5" x2="638.8" y2="695.5" stroke="#404040" stroke-width="1.2"/>
<circle cx="634" cy="655.5" r="2.3" fill="#404040"/>
<circle cx="634" cy="668" r="2.3" fill="#404040"/>
<circle cx="634" cy="681" r="2.3" fill="#404040"/>
<circle cx="634" cy="689.5" r="2.3" fill="#404040"/>
<circle cx="634" cy="698.5" r="2.3" fill="#404040"/>
<line x1="664" y1="787" x2="664" y2="790" stroke="#1a1a1a" stroke-width="0.7"/>
<rect x="654.5" y="703" width="19" height="84" fill="#ff9c9c" stroke="#ff0d0d" stroke-width="1.3"/>
<line x1="664" y1="692.5" x2="664" y2="713.5" stroke="#ff0d0d" stroke-width="1.2"/>
<line x1="659.2" y1="692.5" x2="668.8" y2="692.5" stroke="#ff0d0d" stroke-width="1.2"/>
<line x1="659.2" y1="713.5" x2="668.8" y2="713.5" stroke="#ff0d0d" stroke-width="1.2"/>
<circle cx="664" cy="689" r="2.3" fill="#ff0d0d"/>
<circle cx="658.5" cy="699.5" r="2.3" fill="#ff0d0d"/>
<circle cx="669.5" cy="699.5" r="2.3" fill="#ff0d0d"/>
<circle cx="659" cy="713" r="2.3" fill="#ff0d0d"/>
<circle cx="669" cy="710.5" r="2.3" fill="#ff0d0d"/>
<line x1="694" y1="787" x2="694" y2="790" stroke="#1a1a1a" stroke-width="0.7"/>
<rect x="684.5" y="725.5" width="19" height="61.5" fill="#8ab8f5" stroke="#0a1fd0" stroke-width="1.3"/>
<line x1="694" y1="716.5" x2="694" y2="734.5" stroke="#0a1fd0" stroke-width="1.2"/>
<line x1="689.2" y1="716.5" x2="698.8" y2="716.5" stroke="#0a1fd0" stroke-width="1.2"/>
<line x1="689.2" y1="734.5" x2="698.8" y2="734.5" stroke="#0a1fd0" stroke-width="1.2"/>
<circle cx="689.5" cy="716" r="2.3" fill="#0a1fd0"/>
<circle cx="699.5" cy="716.5" r="2.3" fill="#0a1fd0"/>
<circle cx="689.5" cy="727.5" r="2.3" fill="#0a1fd0"/>
<circle cx="699.5" cy="728.5" r="2.3" fill="#0a1fd0"/>
<circle cx="694.5" cy="736.5" r="2.3" fill="#0a1fd0"/>
<line x1="724" y1="787" x2="724" y2="790" stroke="#1a1a1a" stroke-width="0.7"/>
<rect x="714.5" y="743" width="19" height="44" fill="#a6f7a0" stroke="#0dc40d" stroke-width="1.3"/>
<line x1="724" y1="727" x2="724" y2="757.5" stroke="#0dc40d" stroke-width="1.2"/>
<line x1="719.2" y1="727" x2="728.8" y2="727" stroke="#0dc40d" stroke-width="1.2"/>
<line x1="719.2" y1="757.5" x2="728.8" y2="757.5" stroke="#0dc40d" stroke-width="1.2"/>
<circle cx="724.5" cy="725" r="2.3" fill="#0dc40d"/>
<circle cx="724.5" cy="730.5" r="2.3" fill="#0dc40d"/>
<circle cx="724.5" cy="742" r="2.3" fill="#0dc40d"/>
<circle cx="724.5" cy="752.5" r="2.3" fill="#0dc40d"/>
<circle cx="724.5" cy="761" r="2.3" fill="#0dc40d"/>
<line x1="754" y1="787" x2="754" y2="790" stroke="#1a1a1a" stroke-width="0.7"/>
<rect x="744.5" y="702.5" width="19" height="84.5" fill="#dc8cf2" stroke="#7a1aa5" stroke-width="1.3"/>
<line x1="754" y1="682.5" x2="754" y2="721.5" stroke="#7a1aa5" stroke-width="1.2"/>
<line x1="749.2" y1="682.5" x2="758.8" y2="682.5" stroke="#7a1aa5" stroke-width="1.2"/>
<line x1="749.2" y1="721.5" x2="758.8" y2="721.5" stroke="#7a1aa5" stroke-width="1.2"/>
<circle cx="755" cy="674.5" r="2.3" fill="#7a1aa5"/>
<circle cx="755" cy="688.5" r="2.3" fill="#7a1aa5"/>
<circle cx="755" cy="708" r="2.3" fill="#7a1aa5"/>
<circle cx="755" cy="714.5" r="2.3" fill="#7a1aa5"/>
<circle cx="755" cy="722.5" r="2.3" fill="#7a1aa5"/>
<text font-size="9.6" text-anchor="middle" fill="#111" stroke="#111" stroke-width=".18" letter-spacing="-0.15" transform="translate(584.6 717) rotate(-90)">GzmB<tspan font-size="6" dy="-3.2">+</tspan><tspan dy="3.2">&#8203;</tspan> in CD8<tspan font-size="6" dy="-3.2">+</tspan><tspan dy="3.2">&#8203;</tspan>T cells (%)</text>
<line x1="632" y1="653.5" x2="725.5" y2="653.5" stroke="#1a1a1a" stroke-width="0.7"/>
<line x1="725.5" y1="653.5" x2="725.5" y2="701.5" stroke="#1a1a1a" stroke-width="0.7"/>
<line x1="662" y1="668.5" x2="725.5" y2="668.5" stroke="#1a1a1a" stroke-width="0.7"/>
<line x1="728.5" y1="663" x2="761.5" y2="663" stroke="#1a1a1a" stroke-width="0.7"/>
<text x="641" y="650.5" font-size="8.1" fill="#222" stroke="#222" stroke-width=".18" letter-spacing="-0.25"><tspan font-size="5.2" dy="-1.2" letter-spacing="0">★★★★</tspan><tspan dy="1.2"> </tspan><tspan font-style="italic">P</tspan> &lt; 0.0001</text>
<text x="660.5" y="666.5" font-size="8.1" fill="#222" stroke="#222" stroke-width=".18" letter-spacing="-0.25"><tspan font-size="5.2" dy="-1.2" letter-spacing="0">★★</tspan><tspan dy="1.2"> </tspan><tspan font-style="italic">P</tspan> = 0.0029</text>
<text x="728" y="661.5" font-size="8.1" fill="#222" stroke="#222" stroke-width=".18" letter-spacing="-0.25"><tspan font-size="5.2" dy="-1.2" letter-spacing="0">★★</tspan><tspan dy="1.2"> </tspan><tspan font-style="italic">P</tspan> = 0.0025</text>
<rect x="614" y="800" width="161" height="143" fill="none" stroke="#1a1a1a" stroke-width="0.7"/>
<line x1="610" y1="800" x2="614" y2="800" stroke="#1a1a1a" stroke-width="0.7"/>
<text x="607.5" y="803.5" font-size="9.8" text-anchor="end" fill="#111" stroke="#111" stroke-width=".18">40</text>
<line x1="610" y1="835.5" x2="614" y2="835.5" stroke="#1a1a1a" stroke-width="0.7"/>
<text x="607.5" y="839" font-size="9.8" text-anchor="end" fill="#111" stroke="#111" stroke-width=".18">30</text>
<line x1="610" y1="871.5" x2="614" y2="871.5" stroke="#1a1a1a" stroke-width="0.7"/>
<text x="607.5" y="875" font-size="9.8" text-anchor="end" fill="#111" stroke="#111" stroke-width=".18">20</text>
<line x1="610" y1="907.25" x2="614" y2="907.25" stroke="#1a1a1a" stroke-width="0.7"/>
<text x="607.5" y="910.75" font-size="9.8" text-anchor="end" fill="#111" stroke="#111" stroke-width=".18">10</text>
<line x1="610" y1="943" x2="614" y2="943" stroke="#1a1a1a" stroke-width="0.7"/>
<text x="607.5" y="946.5" font-size="9.8" text-anchor="end" fill="#111" stroke="#111" stroke-width=".18">0</text>
<line x1="634" y1="943" x2="634" y2="946" stroke="#1a1a1a" stroke-width="0.7"/>
<rect x="624.5" y="906.5" width="19" height="36.5" fill="#9a9a9e" stroke="#404040" stroke-width="1.3"/>
<line x1="634" y1="896.5" x2="634" y2="916" stroke="#404040" stroke-width="1.2"/>
<line x1="629.2" y1="896.5" x2="638.8" y2="896.5" stroke="#404040" stroke-width="1.2"/>
<line x1="629.2" y1="916" x2="638.8" y2="916" stroke="#404040" stroke-width="1.2"/>
<circle cx="634" cy="894.5" r="2.3" fill="#404040"/>
<circle cx="634" cy="898.5" r="2.3" fill="#404040"/>
<circle cx="628.5" cy="908.5" r="2.3" fill="#404040"/>
<circle cx="639" cy="908.5" r="2.3" fill="#404040"/>
<circle cx="634" cy="920" r="2.3" fill="#404040"/>
<line x1="664" y1="943" x2="664" y2="946" stroke="#1a1a1a" stroke-width="0.7"/>
<rect x="654.5" y="889.5" width="19" height="53.5" fill="#ff9c9c" stroke="#ff0d0d" stroke-width="1.3"/>
<line x1="664" y1="875.5" x2="664" y2="902.5" stroke="#ff0d0d" stroke-width="1.2"/>
<line x1="659.2" y1="875.5" x2="668.8" y2="875.5" stroke="#ff0d0d" stroke-width="1.2"/>
<line x1="659.2" y1="902.5" x2="668.8" y2="902.5" stroke="#ff0d0d" stroke-width="1.2"/>
<circle cx="659" cy="874" r="2.3" fill="#ff0d0d"/>
<circle cx="669" cy="876.5" r="2.3" fill="#ff0d0d"/>
<circle cx="659" cy="893" r="2.3" fill="#ff0d0d"/>
<circle cx="669" cy="894" r="2.3" fill="#ff0d0d"/>
<circle cx="664" cy="905.5" r="2.3" fill="#ff0d0d"/>
<line x1="694" y1="943" x2="694" y2="946" stroke="#1a1a1a" stroke-width="0.7"/>
<rect x="684.5" y="876" width="19" height="67" fill="#8ab8f5" stroke="#0a1fd0" stroke-width="1.3"/>
<line x1="694" y1="864.5" x2="694" y2="886" stroke="#0a1fd0" stroke-width="1.2"/>
<line x1="689.2" y1="864.5" x2="698.8" y2="864.5" stroke="#0a1fd0" stroke-width="1.2"/>
<line x1="689.2" y1="886" x2="698.8" y2="886" stroke="#0a1fd0" stroke-width="1.2"/>
<circle cx="689.5" cy="862.5" r="2.3" fill="#0a1fd0"/>
<circle cx="699.5" cy="866" r="2.3" fill="#0a1fd0"/>
<circle cx="689.5" cy="877" r="2.3" fill="#0a1fd0"/>
<circle cx="699.5" cy="877.5" r="2.3" fill="#0a1fd0"/>
<circle cx="694.5" cy="889" r="2.3" fill="#0a1fd0"/>
<line x1="724" y1="943" x2="724" y2="946" stroke="#1a1a1a" stroke-width="0.7"/>
<rect x="714.5" y="859.5" width="19" height="83.5" fill="#a6f7a0" stroke="#0dc40d" stroke-width="1.3"/>
<line x1="724" y1="843.5" x2="724" y2="874.5" stroke="#0dc40d" stroke-width="1.2"/>
<line x1="719.2" y1="843.5" x2="728.8" y2="843.5" stroke="#0dc40d" stroke-width="1.2"/>
<line x1="719.2" y1="874.5" x2="728.8" y2="874.5" stroke="#0dc40d" stroke-width="1.2"/>
<circle cx="724.5" cy="839.5" r="2.3" fill="#0dc40d"/>
<circle cx="724.5" cy="848" r="2.3" fill="#0dc40d"/>
<circle cx="719.5" cy="863" r="2.3" fill="#0dc40d"/>
<circle cx="729.5" cy="863.5" r="2.3" fill="#0dc40d"/>
<circle cx="724.5" cy="879.5" r="2.3" fill="#0dc40d"/>
<line x1="754" y1="943" x2="754" y2="946" stroke="#1a1a1a" stroke-width="0.7"/>
<rect x="744.5" y="893.5" width="19" height="49.5" fill="#dc8cf2" stroke="#7a1aa5" stroke-width="1.3"/>
<line x1="754" y1="881.5" x2="754" y2="904.5" stroke="#7a1aa5" stroke-width="1.2"/>
<line x1="749.2" y1="881.5" x2="758.8" y2="881.5" stroke="#7a1aa5" stroke-width="1.2"/>
<line x1="749.2" y1="904.5" x2="758.8" y2="904.5" stroke="#7a1aa5" stroke-width="1.2"/>
<circle cx="755" cy="879.5" r="2.3" fill="#7a1aa5"/>
<circle cx="749.5" cy="888" r="2.3" fill="#7a1aa5"/>
<circle cx="760.5" cy="887" r="2.3" fill="#7a1aa5"/>
<circle cx="755" cy="901.5" r="2.3" fill="#7a1aa5"/>
<circle cx="755" cy="907.5" r="2.3" fill="#7a1aa5"/>
<text font-size="9.6" text-anchor="middle" fill="#111" stroke="#111" stroke-width=".18" letter-spacing="-0.15" transform="translate(584.6 879) rotate(-90)">FoxP3<tspan font-size="6" dy="-3.2">+</tspan><tspan dy="3.2">&#8203;</tspan> in CD4<tspan font-size="6" dy="-3.2">+</tspan><tspan dy="3.2">&#8203;</tspan>T cells (%)</text>
<line x1="630" y1="820.5" x2="724.5" y2="820.5" stroke="#1a1a1a" stroke-width="0.7"/>
<line x1="630" y1="820.5" x2="630" y2="887" stroke="#1a1a1a" stroke-width="0.7"/>
<line x1="663.5" y1="820.5" x2="663.5" y2="868" stroke="#1a1a1a" stroke-width="0.7"/>
<line x1="723" y1="830" x2="757" y2="830" stroke="#1a1a1a" stroke-width="0.7"/>
<text font-size="8.1" fill="#222" stroke="#222" stroke-width=".18" letter-spacing="-0.25" transform="translate(627.5 878) rotate(-90)"><tspan font-size="5.2" dy="-1.2" letter-spacing="0">★★★★</tspan><tspan dy="1.2"> </tspan><tspan font-style="italic">P</tspan> &lt; 0.0001</text>
<text font-size="8.1" fill="#222" stroke="#222" stroke-width=".18" letter-spacing="-0.25" transform="translate(661 867) rotate(-90)"><tspan font-size="5.2" dy="-1.2" letter-spacing="0">★★</tspan><tspan dy="1.2"> </tspan><tspan font-style="italic">P</tspan> = 0.0088</text>
<text x="715.5" y="829" font-size="8.1" fill="#222" stroke="#222" stroke-width=".18" letter-spacing="-0.25"><tspan font-size="5.2" dy="-1.2" letter-spacing="0">★★</tspan><tspan dy="1.2"> </tspan><tspan font-style="italic">P</tspan> = 0.0028</text>
<rect x="572" y="955.1" width="12" height="4.4" fill="#9a9a9e" stroke="#404040" stroke-width="1" rx="0.5"/>
<text x="588" y="961" font-size="9.6" fill="#111" stroke="#111" stroke-width=".18" letter-spacing="-0.15">Control</text>
<rect x="639" y="955.1" width="12" height="4.4" fill="#ff9c9c" stroke="#ff0d0d" stroke-width="1" rx="0.5"/>
<text x="656" y="961" font-size="9.6" fill="#111" stroke="#111" stroke-width=".18">PD-L1</text>
<rect x="707" y="955.1" width="12" height="4.4" fill="#8ab8f5" stroke="#0a1fd0" stroke-width="1" rx="0.5"/>
<text x="724" y="961" font-size="9.6" fill="#111" stroke="#111" stroke-width=".18" letter-spacing="-0.15">DBCO-PD-L1</text>
<rect x="572" y="970.1" width="12" height="4.4" fill="#a6f7a0" stroke="#0dc40d" stroke-width="1" rx="0.5"/>
<text x="588" y="976" font-size="9.6" fill="#111" stroke="#111" stroke-width=".18" letter-spacing="-0.15">DBCO/DSPE-PD-L1</text>
<rect x="572" y="984.8" width="12" height="4.4" fill="#dc8cf2" stroke="#7a1aa5" stroke-width="1" rx="0.5"/>
<text x="588" y="990.7" font-size="9.6" fill="#111" stroke="#111" stroke-width=".18" letter-spacing="-0.15">DBCO/DSPE-PD-L1+anti-PD-L1</text>
</svg>
</body></html>
